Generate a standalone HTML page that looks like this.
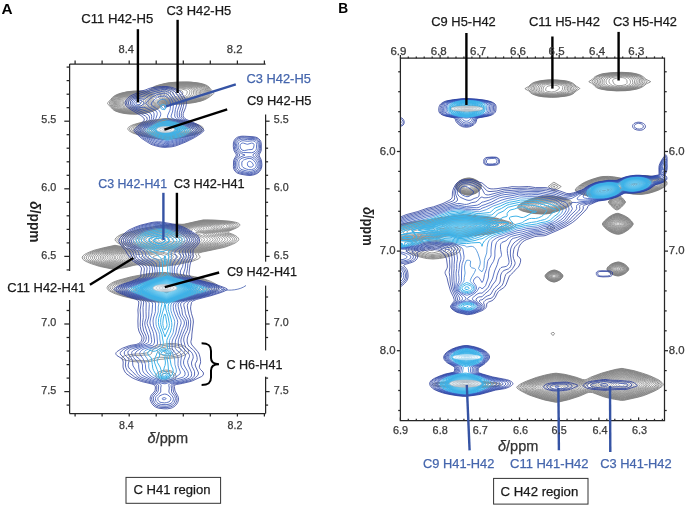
<!DOCTYPE html><html><head><meta charset="utf-8"><title>NOESY figure</title><style>html,body{margin:0;padding:0;background:#fff}svg{display:block}</style></head><body><svg width="685" height="506" viewBox="0 0 685 506"><rect width="685" height="506" fill="#fff"/><defs><clipPath id="ca"><rect x="69.5" y="64" width="196.0" height="349.5"/></clipPath><clipPath id="cb"><rect x="400.5" y="58" width="267.0" height="362.5"/></clipPath></defs><g clip-path="url(#ca)"><g fill="none" stroke-width="0.85" stroke-linejoin="round"><path d="M181.5 82.0 191.0 82.1 199.5 83.2 202.5 83.8 205.5 84.8 207.5 85.8 209.0 87.0 211.5 90.2 213.4 92.0 213.9 93.0 213.7 93.5 212.2 95.0 207.5 98.3 204.5 99.8 200.5 101.2 193.5 102.7 184.5 103.8 178.5 104.1 169.0 104.2 165.9 104.5 162.5 105.6 157.5 109.3 153.0 111.2 149.5 112.3 145.0 113.1 140.0 113.8 135.5 114.2 126.0 113.7 120.5 112.7 116.0 111.3 114.0 110.3 112.5 109.1 110.0 106.2 108.1 104.5 107.5 103.5 107.8 102.5 110.0 100.4 112.3 97.5 113.5 96.5 116.5 94.7 120.5 93.3 127.0 91.8 132.5 91.2 138.0 91.0 148.0 91.1 149.0 90.7 151.0 88.5 152.5 87.4 155.0 86.2 159.5 84.8 166.0 83.3 169.0 82.8 175.5 82.2ZM161.5 119.0 166.0 118.5 169.5 118.7 180.5 120.3 188.5 121.8 197.0 124.2 200.1 125.5 201.9 126.5 203.0 127.5 203.5 128.5 203.5 129.5 202.5 131.0 200.5 132.4 197.5 133.7 194.0 134.9 185.5 136.8 177.5 138.3 168.0 139.4 166.0 139.6 162.0 139.3 151.5 137.8 146.0 136.8 138.0 134.8 133.0 133.1 130.1 131.5 128.7 130.5 128.0 129.5 127.8 128.5 128.3 127.5 129.5 126.5 131.5 125.4 134.5 124.3 143.5 121.8 146.5 121.2ZM204.1 220.0 215.0 220.1 229.0 221.1 235.5 222.2 237.5 222.8 238.9 223.5 239.5 224.0 239.9 225.0 239.7 225.5 238.9 226.5 236.3 228.0 228.3 231.5 227.6 232.0 227.9 232.5 233.0 234.4 236.0 236.0 237.3 237.0 238.2 238.0 238.7 239.0 238.8 239.5 238.6 240.0 237.9 241.0 235.0 243.1 232.5 244.3 226.0 246.8 223.0 247.7 202.5 252.0 198.9 253.0 198.2 253.5 198.1 254.0 199.9 256.5 199.9 257.5 199.6 258.0 198.0 259.1 192.5 261.3 176.5 264.7 163.0 266.4 160.0 266.6 157.5 266.5 149.5 265.5 140.5 264.7 137.0 264.8 133.1 265.5 127.0 267.1 115.0 269.6 99.5 266.4 91.5 263.8 87.5 262.2 85.1 261.0 83.1 259.5 82.2 258.0 82.3 257.0 82.8 256.0 84.5 254.5 86.5 253.4 90.0 251.8 94.5 250.1 103.5 247.8 115.0 245.3 119.1 246.0 124.1 246.5 123.6 246.0 120.0 244.2 117.2 242.5 115.6 241.0 115.1 240.0 115.1 239.5 115.8 238.0 117.5 236.5 120.0 235.0 123.0 233.8 141.0 228.8 152.5 226.7 163.5 225.2 174.5 224.2 177.0 224.0 182.0 224.3 184.5 224.1 199.5 220.7 203.0 220.0ZM161.3 272.5 163.5 272.4 166.5 272.6 179.5 274.2 194.5 276.7 202.0 278.2 210.5 281.3 215.7 284.0 217.2 285.0 218.3 286.0 218.9 287.0 218.9 288.0 218.4 289.0 217.5 290.0 215.0 291.6 207.5 294.9 199.5 297.4 194.0 298.7 183.0 300.6 173.0 301.8 162.5 302.4 154.0 301.8 145.5 300.9 133.0 298.7 123.0 296.3 116.5 294.3 114.0 293.3 110.0 291.3 108.0 289.8 107.2 288.5 107.1 287.5 107.3 287.0 107.9 286.0 108.8 285.0 111.5 283.1 114.0 281.8 118.5 280.2 131.5 276.7 148.0 273.7 152.5 273.1ZM169.0 343.5 171.5 343.5 176.0 343.8 180.0 344.6 182.7 345.5 184.5 346.3 186.2 347.5 187.7 349.0 188.4 350.0 188.7 351.0 188.5 352.0 187.7 353.0 185.5 354.5 180.0 357.1 177.5 357.6 172.0 358.0 164.5 359.0 160.0 359.4 150.0 361.4 144.5 362.0 136.0 361.8 131.0 361.3 124.0 359.8 123.0 359.5 121.9 358.5 121.8 358.0 121.9 357.5 123.0 356.5 124.5 355.8 126.5 355.2 134.0 354.1 140.5 353.9 147.5 352.8 148.7 352.0 150.1 349.5 151.4 348.0 152.9 347.0 154.5 346.2 156.5 345.4 159.0 344.8ZM162.9 370.5 165.5 370.1 168.0 370.2 170.5 370.7 172.5 371.6 174.3 373.0 175.7 375.0 176.1 376.5 175.8 378.0 175.0 379.0 173.3 380.0 170.5 381.1 168.0 381.7 165.5 381.9 163.5 381.7 161.5 381.3 159.5 380.4 157.5 379.0 156.3 377.5 155.8 376.0 155.9 375.0 156.8 373.5 158.0 372.5 160.0 371.4Z" stroke="#828282"/><path d="M175.2 82.5 180.5 82.2 187.0 82.1 190.5 82.3 195.0 82.7 199.0 83.3 202.5 84.2 205.5 85.3 207.5 86.4 209.0 88.0 211.6 92.0 211.9 93.0 211.8 93.5 211.2 94.5 210.2 95.5 207.8 97.5 204.5 99.4 201.0 100.8 194.5 102.3 186.5 103.3 180.0 103.9 168.5 103.9 166.0 104.1 164.0 104.6 161.7 105.5 158.5 108.1 157.0 109.2 155.0 110.2 152.0 111.3 145.5 112.8 139.0 113.7 136.0 113.9 129.0 113.8 125.5 113.4 120.5 112.4 117.0 111.3 115.0 110.4 113.1 109.0 111.9 107.5 109.5 104.0 109.3 103.0 109.8 102.0 113.0 97.5 114.5 96.3 116.0 95.4 120.0 93.7 126.0 92.2 133.5 91.3 140.0 91.2 147.0 91.6 148.6 91.5 149.7 91.0 151.3 89.0 152.5 88.0 154.5 86.9 157.5 85.7 161.0 84.7 167.0 83.3 171.0 82.8ZM163.9 119.0 166.5 118.8 171.0 119.1 181.0 120.7 189.0 122.3 196.5 124.6 199.5 126.0 201.4 127.5 202.0 128.5 202.0 129.5 201.1 131.0 199.5 132.2 196.0 133.7 193.0 134.7 184.0 136.7 176.5 138.1 167.0 139.3 165.5 139.3 160.5 138.8 151.0 137.4 145.5 136.3 138.0 134.3 135.5 133.5 133.3 132.5 131.7 131.5 130.0 130.0 129.5 129.0 129.7 128.0 130.6 127.0 131.5 126.4 133.5 125.3 136.5 124.2 143.5 122.2 157.5 119.8ZM201.9 220.5 204.0 220.2 212.0 220.3 226.5 221.3 232.0 222.0 235.0 222.8 236.8 223.5 237.5 224.0 238.1 225.0 238.0 225.5 237.2 226.5 235.8 227.5 232.5 229.2 226.6 231.5 225.8 232.0 225.7 232.5 226.5 233.0 232.0 234.9 234.0 236.0 235.3 237.0 236.2 238.0 236.6 239.0 236.6 239.5 235.7 241.0 233.5 242.8 229.0 244.9 224.5 246.6 211.0 249.8 199.9 252.0 196.3 253.0 195.6 253.5 195.4 254.0 196.8 256.0 196.9 257.0 196.7 257.5 195.6 258.5 193.8 259.5 190.5 260.9 176.0 264.2 165.5 265.7 161.0 266.1 156.5 265.9 150.0 265.1 140.0 264.1 137.0 264.2 133.0 265.0 127.0 266.7 115.0 269.2 100.5 266.1 92.0 263.2 88.5 261.7 86.3 260.5 84.6 259.0 84.2 258.0 84.2 257.0 84.4 256.5 85.9 255.0 88.4 253.5 93.0 251.3 103.0 248.3 115.0 245.7 123.0 247.2 131.1 249.0 134.2 249.5 135.8 249.5 136.0 249.0 124.5 245.1 122.0 244.1 119.0 242.4 118.0 241.5 117.2 240.5 117.0 239.5 117.3 238.5 118.1 237.5 119.3 236.5 122.0 235.0 127.0 233.4 135.5 230.8 141.5 229.2 152.5 227.2 163.5 225.6 174.0 224.6 177.0 224.4 181.0 224.7 184.0 224.5ZM159.7 273.0 163.0 272.8 165.0 272.9 177.5 274.3 186.5 275.7 201.5 278.7 204.5 279.7 208.5 281.3 212.5 283.3 216.2 286.0 216.9 287.0 217.0 288.0 216.1 289.5 214.8 290.5 208.5 293.7 206.0 294.7 198.5 297.1 194.0 298.2 183.0 300.2 172.5 301.4 163.0 302.0 152.0 301.2 141.5 299.8 131.0 297.8 123.5 295.9 115.5 293.1 111.3 291.0 109.4 289.5 108.6 288.0 108.8 287.0 109.9 285.5 112.5 283.5 115.0 282.2 119.0 280.7 131.5 277.2 147.5 274.2 152.0 273.6ZM167.4 345.0 171.0 344.7 177.5 345.3 181.5 346.5 183.8 348.0 184.5 349.0 184.9 350.0 185.0 351.0 184.6 352.0 182.9 353.5 181.0 354.6 179.0 355.5 175.5 356.3 167.0 357.4 164.0 357.4 160.0 357.2 158.0 357.3 150.0 360.0 147.5 360.6 145.0 360.8 132.5 360.1 130.5 359.5 129.6 359.0 128.6 358.0 128.6 357.5 129.0 357.0 129.9 356.5 133.0 355.7 135.5 355.5 140.0 355.7 144.0 355.0 148.0 355.0 149.5 354.8 150.5 354.3 151.5 353.5 152.7 350.0 153.5 349.0 155.0 347.9 157.0 347.0 159.5 346.3ZM164.7 371.5 167.0 371.4 169.0 371.6 170.5 372.1 172.0 372.9 173.0 374.0 173.5 375.0 173.7 376.5 173.3 377.5 172.4 378.5 170.7 379.5 169.0 380.2 167.0 380.7 165.0 380.8 163.5 380.6 162.0 380.2 160.7 379.5 159.5 378.5 158.6 377.0 158.4 375.5 158.8 374.5 159.8 373.5 161.0 372.7 163.0 371.9Z" stroke="#838383"/><path d="M178.9 82.5 188.5 82.4 192.5 82.7 197.0 83.3 200.0 83.8 203.0 84.7 205.5 85.8 207.3 87.0 208.5 88.5 210.2 92.0 210.4 93.0 210.1 94.0 208.7 96.0 206.5 97.8 203.0 99.7 200.0 100.8 193.5 102.2 185.0 103.3 178.5 103.7 167.5 103.6 164.6 104.0 161.5 105.0 160.5 105.6 157.0 108.7 155.0 109.8 152.5 110.8 149.0 111.8 145.0 112.7 136.0 113.7 130.5 113.6 126.0 113.3 121.5 112.3 118.0 111.3 115.3 110.0 113.5 108.6 112.3 107.0 110.8 104.0 110.7 103.0 111.1 101.5 112.5 99.0 113.7 97.5 115.0 96.4 117.0 95.3 121.0 93.7 127.0 92.3 133.0 91.6 140.0 91.4 149.0 91.9 150.1 91.5 152.2 89.0 153.5 87.9 156.0 86.7 159.5 85.4 164.0 84.2 168.5 83.3 173.5 82.8ZM162.1 119.5 166.0 119.0 169.5 119.3 180.0 120.8 188.5 122.6 195.0 124.7 198.0 126.0 199.9 127.5 200.5 128.5 200.5 129.5 200.1 130.5 198.5 131.8 196.0 133.1 193.0 134.2 184.5 136.3 177.0 137.8 169.5 138.7 166.0 139.0 161.5 138.7 152.0 137.2 145.0 135.7 137.5 133.6 135.5 132.8 133.9 132.0 132.1 130.5 131.5 129.5 131.3 128.5 131.9 127.5 133.5 126.3 136.0 125.0 139.0 123.9 143.0 122.7 147.5 121.7ZM203.4 220.5 208.0 220.4 214.5 220.7 227.5 221.8 232.0 222.6 234.0 223.3 235.4 224.0 235.9 224.5 236.2 225.0 236.2 225.5 235.9 226.0 234.9 227.0 231.0 229.3 225.1 231.5 224.2 232.0 223.8 232.5 224.3 233.0 225.0 233.3 230.5 235.3 232.7 236.5 233.9 237.5 234.5 238.5 234.7 239.5 234.5 240.0 233.3 241.5 231.8 242.5 227.5 244.6 223.5 246.2 211.0 249.3 197.4 252.0 193.5 253.0 192.4 253.5 192.3 254.0 193.5 256.0 193.6 256.5 193.2 257.5 191.5 259.0 188.1 260.5 180.0 262.7 175.5 263.7 165.5 265.2 161.0 265.6 156.5 265.4 150.5 264.6 140.0 263.5 137.0 263.6 133.0 264.4 127.0 266.2 115.0 268.9 103.0 266.3 98.0 264.8 92.0 262.4 89.1 261.0 87.1 259.5 86.2 258.0 86.3 257.0 87.4 255.5 91.3 253.0 94.0 251.7 103.0 248.8 115.0 246.1 134.5 250.4 138.0 250.5 141.1 250.0 141.2 249.5 139.9 249.0 132.0 246.8 124.5 244.2 121.2 242.5 119.5 241.0 118.9 240.0 118.9 239.0 119.5 238.0 120.5 237.1 123.0 235.6 128.5 233.6 136.0 231.3 141.5 229.8 152.5 227.7 163.0 226.1 172.5 225.2 177.0 224.8 181.0 225.1 184.0 224.9 188.2 224.0 197.0 221.8ZM158.4 273.5 162.5 273.2 164.5 273.2 178.0 274.8 186.5 276.2 201.0 279.1 205.5 280.7 208.5 282.1 210.9 283.5 213.9 286.0 214.6 287.0 214.8 288.0 214.2 289.0 213.1 290.0 208.0 293.1 205.5 294.2 199.0 296.4 194.0 297.7 183.0 299.7 173.5 300.9 163.0 301.7 158.0 301.3 143.5 299.7 130.5 297.2 123.5 295.3 118.0 293.3 115.5 292.3 112.4 290.5 110.8 289.0 110.3 288.0 110.3 287.5 110.8 286.5 112.2 285.0 114.3 283.5 117.0 282.3 121.5 280.6 131.0 277.8 149.5 274.3ZM168.0 346.5 169.5 346.3 171.5 346.4 176.0 346.9 178.0 347.4 179.4 348.0 180.7 349.0 181.0 349.5 181.0 350.5 180.3 351.5 178.2 353.0 176.4 354.0 174.0 354.8 170.5 355.5 167.5 355.8 165.0 355.7 163.0 355.2 160.0 354.1 158.4 353.0 157.4 351.5 157.4 350.5 157.7 350.0 158.7 349.0 160.8 348.0ZM164.0 373.5 166.5 373.1 169.0 373.6 170.0 374.3 170.5 375.0 170.6 376.0 170.4 376.5 168.9 378.0 166.9 379.0 165.0 379.3 163.0 378.8 162.0 378.1 161.5 377.5 161.2 376.5 161.2 376.0 161.5 375.3 162.2 374.5Z" stroke="#848484"/><path d="M174.2 83.0 182.5 82.6 188.0 82.6 191.5 82.8 195.5 83.3 200.0 84.2 203.0 85.1 205.5 86.3 206.9 87.5 208.1 89.5 209.1 92.5 209.0 94.0 208.5 95.0 207.7 96.0 205.9 97.5 203.0 99.3 200.5 100.3 194.0 101.9 184.0 103.2 178.5 103.5 167.0 103.4 164.5 103.6 162.5 104.1 160.5 104.9 156.5 108.5 154.5 109.6 152.0 110.6 146.0 112.2 137.0 113.4 133.0 113.5 127.0 113.1 122.5 112.3 119.0 111.2 116.5 110.2 114.8 109.0 113.5 107.5 112.2 105.0 111.8 103.5 111.9 102.0 112.7 100.0 113.6 98.5 114.5 97.5 116.0 96.3 118.0 95.2 120.5 94.2 126.0 92.7 133.5 91.7 141.0 91.6 148.5 92.3 150.0 92.2 150.6 92.0 151.2 91.5 152.6 89.5 153.7 88.5 155.5 87.4 158.0 86.3 161.0 85.3 167.0 83.8ZM164.5 119.5 166.5 119.3 171.0 119.7 180.5 121.3 188.5 123.1 194.5 125.2 197.2 126.5 198.8 128.0 199.2 129.0 199.1 129.5 198.6 130.5 197.0 131.8 194.5 133.0 192.0 133.9 185.0 135.8 177.5 137.3 168.0 138.6 166.0 138.8 160.0 138.2 151.5 136.8 145.0 135.3 137.6 133.0 134.7 131.5 133.3 130.0 133.1 129.0 133.3 128.0 134.2 127.0 135.6 126.0 138.0 124.8 144.5 122.7 158.0 120.3ZM201.9 221.0 203.5 220.7 207.5 220.7 217.0 221.2 228.5 222.4 231.0 223.0 233.2 224.0 233.9 224.5 234.3 225.5 233.9 226.5 232.8 227.5 230.3 229.0 223.6 231.5 222.1 232.5 222.3 233.0 223.2 233.5 229.3 236.0 231.2 237.0 232.0 237.7 232.6 238.5 232.8 239.5 232.6 240.0 231.5 241.2 229.5 242.5 225.0 244.7 222.0 245.8 210.5 248.9 189.4 253.0 188.4 253.5 188.3 254.0 190.1 256.0 190.3 256.5 190.0 257.5 188.3 259.0 184.5 260.7 179.0 262.3 174.5 263.2 165.5 264.7 160.5 265.2 156.5 264.9 140.5 262.9 137.0 262.9 133.5 263.6 126.5 265.8 115.0 268.5 104.5 266.2 99.5 264.7 91.2 261.0 89.2 259.5 88.5 258.5 88.4 257.5 89.1 256.0 91.6 254.0 94.5 252.3 103.0 249.3 115.0 246.5 123.0 248.2 132.0 250.6 135.0 251.1 138.0 251.3 141.0 251.1 144.0 250.5 144.9 250.0 144.7 249.5 143.4 249.0 136.0 247.3 131.0 245.7 124.5 243.1 122.7 242.0 121.5 241.0 120.9 240.0 120.8 239.5 121.2 238.5 122.0 237.6 124.7 236.0 129.5 234.1 140.5 230.7 152.5 228.2 163.0 226.6 171.5 225.7 177.0 225.2 181.0 225.5 184.0 225.2ZM157.2 274.0 164.0 273.6 174.0 274.7 184.0 276.2 200.5 279.6 205.0 281.2 209.0 283.5 210.3 284.5 211.7 286.0 212.2 287.0 212.3 288.0 211.7 289.0 210.8 290.0 207.0 292.7 204.5 293.8 198.0 296.1 193.5 297.3 183.0 299.3 173.5 300.4 164.0 301.2 160.5 301.1 152.0 300.4 144.0 299.4 131.0 296.8 122.5 294.3 117.0 292.0 114.5 290.6 112.7 289.0 112.2 288.0 112.2 287.5 112.6 286.5 113.9 285.0 116.0 283.7 120.5 281.8 131.0 278.4 149.0 274.8 153.0 274.3ZM166.9 349.0 168.5 348.6 169.5 348.5 171.7 349.0 173.4 350.0 173.8 350.5 173.7 351.5 172.8 352.5 170.5 353.5 168.5 353.8 166.3 353.5 164.5 352.5 163.8 351.5 163.8 351.0 164.1 350.5 164.7 350.0Z" stroke="#858585"/><path d="M177.7 83.0 187.0 82.8 193.5 83.3 197.0 83.8 200.5 84.7 203.0 85.6 205.0 86.6 206.4 88.0 207.3 89.5 208.0 92.5 207.9 94.0 207.1 95.5 205.7 97.0 203.0 98.8 200.5 99.9 197.5 100.8 193.5 101.7 185.0 102.9 178.0 103.3 166.5 103.0 163.0 103.5 160.0 104.5 156.0 108.3 154.5 109.2 152.0 110.3 149.0 111.3 145.0 112.2 137.0 113.2 133.5 113.3 127.0 112.9 124.0 112.3 120.5 111.4 117.5 110.2 115.7 109.0 114.3 107.5 113.3 105.5 112.8 103.5 112.8 102.0 113.4 100.0 114.3 98.5 115.5 97.3 117.0 96.2 119.0 95.1 121.0 94.4 124.5 93.4 127.5 92.7 134.5 91.9 141.5 91.9 149.0 92.7 150.5 92.7 151.2 92.5 151.9 92.0 153.6 89.5 154.7 88.5 157.0 87.2 159.5 86.1 164.5 84.7 168.5 83.8ZM162.9 120.0 166.0 119.6 169.5 119.9 180.5 121.7 187.5 123.3 191.5 124.7 195.5 126.5 196.5 127.1 197.3 128.0 197.7 129.0 197.6 129.5 197.0 130.6 195.1 132.0 192.5 133.2 189.5 134.1 185.0 135.4 176.5 137.2 168.5 138.3 165.5 138.4 159.5 137.8 151.5 136.4 146.0 135.1 138.5 132.6 136.0 131.2 134.9 130.0 134.7 129.0 135.0 128.0 135.9 127.0 137.3 126.0 139.3 125.0 145.0 123.1 157.5 120.7ZM203.5 221.0 212.5 221.2 219.0 221.7 228.0 222.9 230.0 223.4 231.5 224.1 232.4 225.0 232.6 225.5 232.3 226.5 231.4 227.5 229.0 228.9 221.1 232.0 220.4 232.5 220.2 233.0 220.9 233.5 226.6 236.0 229.2 237.5 230.0 238.2 230.5 239.0 230.5 239.5 230.3 240.0 228.7 241.5 226.5 242.9 223.5 244.4 221.0 245.3 212.5 247.8 208.5 248.8 196.0 251.2 187.4 252.5 185.6 253.0 184.9 253.5 185.0 254.0 186.8 256.0 187.1 257.0 186.9 257.5 186.1 258.5 185.4 259.0 182.0 260.5 176.5 262.1 168.5 263.7 164.5 264.3 160.0 264.6 146.0 263.0 140.5 262.1 137.0 262.1 133.0 263.0 126.5 265.3 115.0 268.1 105.0 265.8 100.0 264.3 93.0 260.8 91.3 259.5 90.6 258.5 90.5 257.5 91.2 256.0 93.3 254.0 95.5 252.7 100.5 250.7 103.5 249.7 109.0 248.3 115.0 246.9 125.0 249.2 133.0 251.5 136.0 252.0 138.5 252.1 141.0 252.0 143.6 251.5 147.5 250.5 148.2 250.0 147.8 249.5 144.5 248.5 137.0 246.8 133.5 245.8 128.5 243.7 125.1 242.0 123.5 240.5 123.1 239.5 123.3 239.0 124.6 237.5 127.0 236.1 130.0 234.8 138.5 231.9 144.5 230.3 152.0 228.8 162.5 227.1 171.0 226.1 177.0 225.6 181.5 225.9 184.5 225.6 197.5 222.2ZM161.9 274.0 166.5 274.2 181.5 276.2 200.5 280.3 204.5 281.8 206.6 283.0 208.0 284.0 209.7 286.0 210.1 287.0 210.2 288.0 209.7 289.0 208.9 290.0 206.5 292.0 204.0 293.2 197.5 295.7 193.5 296.8 188.5 297.6 183.0 298.8 172.0 300.2 163.0 300.9 153.5 300.1 143.0 298.8 129.5 295.8 123.0 293.7 117.5 291.2 115.6 290.0 114.3 288.5 114.0 287.5 114.8 286.0 115.9 285.0 118.0 283.8 123.0 281.6 128.5 279.7 132.0 278.7 149.5 275.2 153.0 274.7Z" stroke="#868686"/><path d="M173.8 83.5 182.0 83.1 191.0 83.3 195.0 83.8 199.0 84.6 201.5 85.4 203.8 86.5 205.6 88.0 206.4 89.5 207.0 92.0 206.9 94.0 206.2 95.5 204.7 97.0 202.5 98.5 200.0 99.7 194.0 101.3 184.0 102.7 177.5 103.0 166.0 102.7 162.7 103.0 160.8 103.5 159.5 104.1 158.5 104.8 156.7 107.0 155.5 108.0 153.5 109.2 151.5 110.1 148.0 111.2 145.5 111.8 137.5 112.9 134.0 113.0 128.0 112.7 125.0 112.3 121.5 111.3 118.5 110.2 116.6 109.0 115.1 107.5 114.3 106.0 113.7 104.0 113.6 102.5 113.8 101.0 114.7 99.0 115.5 98.0 117.0 96.7 118.5 95.8 121.0 94.7 126.5 93.2 129.5 92.7 134.5 92.1 142.0 92.2 149.5 93.1 151.5 93.1 152.6 92.5 154.1 90.0 155.1 89.0 157.0 87.7 159.0 86.7 162.0 85.7 167.0 84.4 170.5 83.8ZM165.4 120.0 169.0 120.1 173.0 120.7 181.0 122.2 187.5 123.8 191.5 125.3 194.6 127.0 195.7 128.0 196.0 128.5 196.0 129.5 195.4 130.5 193.4 132.0 191.0 133.1 187.5 134.2 176.5 136.9 167.0 138.1 165.0 138.1 158.5 137.3 151.0 135.9 145.0 134.3 139.1 132.0 138.0 131.4 136.9 130.5 136.4 129.5 136.4 128.5 137.0 127.5 138.1 126.5 141.5 124.8 146.5 123.2 159.0 120.8ZM202.1 221.5 203.5 221.2 207.0 221.2 215.5 221.7 227.0 223.3 229.0 223.9 230.2 224.5 230.7 225.0 231.0 226.0 230.9 226.5 230.0 227.5 228.0 228.6 219.6 232.0 218.7 232.5 218.2 233.0 218.5 233.5 223.0 235.4 225.8 237.0 227.4 238.5 227.8 239.5 227.7 240.0 226.2 241.5 222.5 243.8 220.5 244.6 212.0 247.3 198.0 250.4 193.0 251.2 186.5 252.0 183.9 252.5 182.4 253.0 182.0 253.5 182.2 254.0 184.0 256.0 184.3 257.0 184.2 257.5 183.5 258.4 182.7 259.0 180.4 260.0 176.0 261.3 169.0 262.9 164.5 263.7 160.0 264.1 146.5 262.3 140.5 261.2 137.0 261.2 133.5 262.0 126.5 264.7 115.0 267.7 105.0 265.2 100.5 263.8 98.0 262.6 94.6 260.5 93.3 259.5 92.6 258.5 92.4 258.0 92.5 257.0 93.4 255.5 95.0 254.2 97.1 253.0 100.5 251.4 103.5 250.3 109.0 248.7 115.0 247.3 125.0 249.8 133.5 252.4 137.0 253.0 139.5 253.1 141.5 252.8 151.1 250.5 151.5 250.0 150.8 249.5 147.4 248.5 136.0 245.8 132.0 244.3 128.0 242.2 126.4 241.0 125.7 240.0 125.7 239.5 125.8 239.0 126.5 238.0 128.6 236.5 131.5 235.2 139.0 232.4 145.0 230.8 152.5 229.2 162.0 227.6 171.0 226.6 177.0 226.1 181.5 226.3 184.5 226.0 186.9 225.5 196.5 222.8ZM160.8 274.5 163.0 274.3 166.5 274.6 181.5 276.6 200.0 280.8 203.5 282.2 206.3 284.0 207.4 285.0 208.0 286.0 208.4 287.0 208.4 288.0 208.0 289.0 207.3 290.0 205.0 291.8 201.0 293.7 196.5 295.3 193.0 296.3 188.5 297.1 183.0 298.3 171.5 299.8 163.0 300.4 153.5 299.7 143.5 298.4 131.0 295.7 123.5 293.1 117.5 289.8 116.2 288.5 115.9 287.5 116.4 286.5 117.4 285.5 120.5 283.7 123.5 282.2 128.5 280.3 132.0 279.2 149.5 275.6 153.0 275.1Z" stroke="#868686"/><path d="M177.3 83.5 186.0 83.3 192.5 83.7 196.0 84.3 199.5 85.2 202.0 86.1 203.5 87.0 205.0 88.5 205.7 90.0 206.1 92.5 205.8 94.5 204.8 96.0 203.2 97.5 201.0 98.8 199.0 99.7 195.5 100.7 192.5 101.3 186.0 102.3 182.0 102.6 177.0 102.8 165.0 102.3 161.5 102.7 160.0 103.1 158.5 103.9 155.3 107.5 153.5 108.7 151.5 109.7 148.5 110.8 146.0 111.4 141.0 112.3 137.0 112.7 133.5 112.8 127.5 112.4 122.5 111.3 119.5 110.1 117.5 109.0 116.0 107.5 115.1 106.0 114.6 104.0 114.5 102.0 114.8 100.5 115.5 99.0 116.5 97.8 118.0 96.6 119.5 95.8 122.0 94.7 125.0 93.8 128.0 93.2 131.5 92.7 135.5 92.4 143.0 92.5 150.0 93.6 152.0 93.6 152.5 93.5 153.5 92.9 155.1 90.0 156.1 89.0 158.0 87.7 160.0 86.8 164.5 85.3 168.5 84.3 172.5 83.8ZM164.0 120.5 166.5 120.2 170.5 120.7 179.5 122.3 186.0 123.9 189.2 125.0 192.1 126.5 193.9 128.0 194.3 129.0 194.3 129.5 193.7 130.5 192.0 131.8 190.0 132.8 187.0 133.9 176.0 136.6 167.5 137.7 165.5 137.8 159.5 137.1 152.5 135.8 146.5 134.3 144.0 133.4 141.1 132.0 138.7 130.5 138.3 130.0 138.0 129.0 138.3 128.0 139.1 127.0 142.0 125.3 146.5 123.7 158.0 121.3ZM201.2 222.0 203.5 221.5 206.0 221.5 215.0 222.0 220.5 222.9 226.0 223.9 228.0 224.5 228.8 225.0 229.2 225.5 229.3 226.0 229.0 226.8 228.3 227.5 222.5 230.2 218.1 232.0 216.4 233.0 216.3 233.5 217.0 234.0 221.5 235.9 224.0 237.5 225.1 239.0 225.2 239.5 224.7 240.5 223.0 242.0 220.4 243.5 213.5 246.1 210.0 247.2 196.5 250.1 183.0 252.0 178.7 253.0 178.3 253.5 181.0 255.5 181.5 256.3 181.6 257.0 181.0 258.0 180.3 258.5 177.0 259.9 168.5 262.3 163.5 263.1 160.0 263.4 147.5 261.7 140.5 260.0 137.5 259.9 136.0 260.2 134.0 260.8 126.5 264.1 115.0 267.2 105.0 264.7 101.0 263.3 99.0 262.2 96.5 260.5 94.9 259.0 94.4 258.0 94.4 257.0 95.3 255.5 97.3 254.0 100.5 252.2 103.0 251.2 107.5 249.7 115.0 247.8 124.5 250.2 129.0 251.6 134.5 253.8 138.0 254.5 140.5 254.4 147.0 252.3 153.9 251.0 155.0 250.5 154.8 250.0 153.7 249.5 150.4 248.5 137.5 245.4 134.0 244.2 131.0 242.7 128.8 241.0 128.1 240.0 128.0 239.5 128.5 238.5 130.2 237.0 133.0 235.6 139.0 233.2 144.0 231.7 152.5 229.8 162.0 228.1 172.5 226.9 177.0 226.5 181.5 226.7 184.4 226.5 186.7 226.0 196.0 223.3ZM160.0 275.0 163.0 274.8 165.0 274.9 180.0 276.9 184.5 277.7 198.5 281.1 202.0 282.3 204.7 284.0 205.8 285.0 206.5 286.0 206.9 287.0 206.9 288.0 206.5 289.0 205.7 290.0 203.7 291.5 199.0 293.7 194.0 295.4 182.5 297.9 166.0 299.8 163.0 300.0 161.0 299.9 153.0 299.2 145.5 298.2 143.0 297.8 131.5 295.2 124.0 292.4 121.6 291.0 119.0 289.0 118.3 288.0 118.2 287.5 118.4 287.0 119.2 286.0 120.4 285.0 122.8 283.5 125.0 282.4 129.0 280.8 132.5 279.7 149.5 276.1 153.0 275.6Z" stroke="#878787"/><path d="M173.9 84.0 181.5 83.6 190.5 83.8 197.0 84.9 200.0 85.8 202.0 86.7 203.7 88.0 204.7 89.5 205.1 92.0 205.0 94.0 204.2 95.5 202.8 97.0 201.0 98.3 199.0 99.2 193.5 100.8 188.0 101.7 183.0 102.3 177.0 102.5 164.0 101.9 160.5 102.3 158.5 102.9 157.6 103.5 155.0 107.0 153.5 108.2 151.5 109.3 149.0 110.2 145.5 111.2 137.5 112.4 134.5 112.5 129.0 112.2 126.0 111.8 123.5 111.2 120.0 109.9 118.0 108.6 116.9 107.5 115.8 105.5 115.5 104.0 115.3 102.0 115.6 100.5 116.3 99.0 117.2 98.0 118.5 96.9 122.0 95.1 125.0 94.2 128.5 93.4 132.5 92.8 135.5 92.6 142.5 92.8 151.0 94.2 153.0 94.2 154.0 93.7 154.5 93.2 155.8 90.5 156.6 89.5 157.8 88.5 159.6 87.5 162.5 86.3 166.5 85.1 170.5 84.3ZM162.7 121.0 166.0 120.6 169.5 120.9 179.5 122.7 185.0 124.1 188.0 125.2 190.4 126.5 192.1 128.0 192.4 128.5 192.5 129.5 192.0 130.5 190.8 131.5 188.5 132.7 186.0 133.6 176.0 136.2 168.0 137.4 165.5 137.5 159.5 136.8 152.5 135.3 148.0 134.1 144.5 132.9 140.6 130.5 140.1 130.0 139.7 129.0 140.0 128.0 140.9 127.0 143.4 125.5 147.0 124.1 157.5 121.8ZM202.5 222.0 203.5 221.8 207.5 221.8 215.0 222.4 222.5 223.9 225.5 224.8 226.7 225.5 227.0 226.0 227.0 226.5 226.6 227.0 225.3 228.0 221.5 230.0 215.6 232.5 214.7 233.0 214.3 233.5 214.6 234.0 219.0 236.0 221.3 237.5 222.4 239.0 222.5 239.5 222.0 240.5 220.4 242.0 218.8 243.0 212.5 245.7 207.0 247.3 198.0 249.3 192.5 250.2 177.0 252.2 170.5 251.8 168.5 252.0 169.3 252.5 176.0 255.0 177.5 256.0 177.8 256.5 177.8 257.0 176.9 258.0 175.1 259.0 171.0 260.6 168.5 261.4 163.0 262.4 159.5 262.7 148.0 260.9 145.5 260.2 142.9 259.0 141.6 258.0 141.3 257.5 141.4 257.0 142.6 255.5 144.5 254.3 148.0 253.0 156.5 251.5 158.5 251.0 159.1 250.5 158.3 250.0 156.6 249.5 151.2 248.0 144.0 246.4 137.0 244.4 134.0 243.0 132.3 242.0 131.1 241.0 130.5 240.0 130.4 239.5 130.9 238.5 132.0 237.5 133.7 236.5 139.5 233.8 146.0 231.8 153.5 230.1 163.5 228.4 176.0 227.0 182.0 227.2 185.0 226.9 188.5 226.0 195.5 223.8ZM114.0 248.5 115.0 248.2 117.5 248.8 124.0 250.6 128.5 252.2 131.2 253.5 133.5 255.0 135.3 256.5 135.7 257.0 135.7 257.5 135.0 258.5 133.6 259.5 128.0 262.8 125.5 263.7 115.0 266.8 105.5 264.2 102.5 263.1 99.5 261.5 97.2 259.5 96.5 258.5 96.3 257.5 96.4 257.0 97.0 256.0 99.3 254.0 102.5 252.2 108.0 250.1ZM159.4 275.5 163.0 275.2 165.0 275.3 179.5 277.3 184.0 278.2 195.0 280.8 200.0 282.4 202.5 283.7 204.1 285.0 204.8 286.0 205.3 287.0 205.3 288.0 204.8 289.0 204.0 289.9 202.0 291.4 198.5 293.1 193.5 294.9 182.5 297.3 172.0 298.8 165.5 299.4 163.0 299.6 161.0 299.4 153.0 298.7 145.5 297.7 143.0 297.3 132.0 294.7 129.5 293.8 125.0 292.0 123.4 291.0 121.7 289.5 120.7 288.0 120.7 287.0 121.3 286.0 123.0 284.5 125.0 283.3 127.5 282.1 131.0 280.8 134.5 279.8 151.5 276.3Z" stroke="#888888"/><path d="M177.7 84.0 186.0 83.8 192.0 84.3 195.0 84.8 198.0 85.6 200.3 86.5 202.0 87.5 203.4 89.0 204.0 90.5 204.1 93.0 203.8 94.5 202.8 96.0 201.5 97.3 200.0 98.2 197.5 99.3 194.0 100.3 189.5 101.2 185.5 101.8 181.0 102.2 175.0 102.2 163.5 101.4 160.0 101.7 158.0 102.2 157.0 102.8 156.4 103.5 155.0 106.0 154.1 107.0 152.5 108.2 150.5 109.2 145.5 110.8 141.0 111.7 137.0 112.2 134.0 112.2 128.5 111.9 125.5 111.4 123.5 110.8 121.0 109.8 118.8 108.5 117.4 107.0 116.7 105.5 116.3 104.0 116.2 102.0 116.5 100.5 117.2 99.0 118.0 98.0 119.2 97.0 123.0 95.2 126.0 94.2 129.0 93.6 132.5 93.1 137.0 92.9 143.5 93.2 151.5 94.8 153.5 94.9 154.6 94.5 155.5 93.8 155.9 93.0 156.6 91.0 157.7 89.5 159.0 88.4 161.0 87.4 165.5 85.7 169.0 84.9 173.0 84.3ZM165.3 121.0 168.5 121.1 172.0 121.7 180.0 123.3 185.5 124.9 188.0 126.0 190.0 127.5 190.7 128.5 190.8 129.0 190.6 130.0 189.8 131.0 188.4 132.0 184.0 133.7 176.0 135.9 166.5 137.2 162.0 136.8 158.0 136.1 152.0 134.8 147.0 133.2 145.3 132.5 143.7 131.5 142.5 130.5 141.8 129.5 141.7 128.5 141.9 128.0 143.4 126.5 146.0 125.1 148.5 124.3 158.0 122.1ZM201.7 222.5 203.5 222.1 206.5 222.1 215.0 222.9 219.0 223.7 221.6 224.5 223.6 225.5 224.1 226.0 224.2 226.5 223.8 227.5 221.9 229.0 218.5 230.7 213.0 233.0 212.4 233.5 212.4 234.0 213.0 234.5 217.3 236.5 219.1 238.0 219.6 239.0 219.7 239.5 219.3 240.5 218.5 241.5 216.4 243.0 213.0 244.6 210.0 245.7 204.5 247.2 197.5 248.8 192.0 249.8 179.0 251.4 177.0 251.5 174.5 251.3 167.5 250.6 161.0 249.7 156.5 248.8 150.1 247.0 144.5 245.8 139.0 244.0 136.5 243.0 134.1 241.5 133.2 240.5 132.9 240.0 133.0 239.0 133.5 238.4 134.6 237.5 137.2 236.0 141.5 234.0 146.5 232.4 154.0 230.6 163.5 228.9 176.5 227.5 182.0 227.7 185.5 227.3 188.0 226.7 195.5 224.1ZM114.0 249.0 115.0 248.7 120.5 250.2 125.5 251.8 129.0 253.3 130.8 254.5 132.1 256.0 132.4 257.5 132.1 258.5 131.3 259.5 130.1 260.5 127.0 262.4 115.0 266.3 106.0 263.6 102.5 262.3 99.9 260.5 98.7 259.0 98.4 257.5 98.7 256.5 99.4 255.5 101.5 253.7 104.0 252.3 108.5 250.6ZM159.5 252.0 162.5 252.2 165.5 252.8 170.8 254.5 172.7 255.5 173.4 256.5 173.2 257.5 171.6 259.0 169.5 260.0 167.0 260.8 162.0 261.7 160.0 261.9 159.0 261.8 148.9 260.0 146.4 259.0 145.5 258.4 144.8 257.5 144.8 256.5 145.5 255.5 146.5 254.8 148.0 254.1 150.5 253.5ZM159.1 276.0 164.0 275.7 172.0 276.7 182.0 278.3 194.0 281.2 198.5 282.7 201.1 284.0 202.3 285.0 203.1 286.0 203.5 287.0 203.5 288.0 202.6 289.5 200.5 291.1 197.0 292.8 192.5 294.5 182.0 296.9 172.0 298.3 164.5 299.1 162.5 299.1 153.5 298.3 145.0 297.1 133.0 294.3 130.5 293.4 126.2 291.5 124.6 290.5 123.5 289.5 122.6 288.0 122.6 287.0 123.2 286.0 124.8 284.5 127.0 283.2 129.5 282.2 133.0 280.8 135.5 280.1 151.5 276.8Z" stroke="#898989"/><path d="M174.7 84.5 181.5 84.1 190.0 84.4 193.0 84.8 196.5 85.6 199.0 86.5 200.8 87.5 202.0 88.5 202.8 90.0 203.1 92.5 202.7 94.5 201.8 96.0 200.5 97.2 199.0 98.2 196.5 99.2 193.0 100.2 188.0 101.2 181.0 101.9 177.5 102.0 172.0 101.8 162.0 100.8 160.0 100.9 158.0 101.2 157.0 101.5 156.3 102.0 155.6 103.0 154.7 105.0 154.1 106.0 152.5 107.5 150.9 108.5 149.0 109.4 146.0 110.4 142.0 111.2 137.5 111.9 134.0 111.9 129.5 111.6 127.0 111.3 124.5 110.7 122.0 109.7 119.8 108.5 118.3 107.0 117.5 105.5 117.1 104.0 117.0 102.0 117.3 100.5 118.0 99.0 118.9 98.0 120.2 97.0 124.0 95.2 127.0 94.3 130.5 93.7 134.5 93.2 139.0 93.2 144.5 93.7 152.5 95.7 154.5 95.8 155.5 95.3 156.4 94.5 157.0 93.5 157.9 90.5 158.7 89.5 160.5 88.2 163.5 86.8 167.0 85.6 171.0 84.9ZM164.3 121.5 166.5 121.3 170.0 121.7 179.0 123.6 182.0 124.4 185.5 125.6 187.5 126.7 188.8 128.0 189.2 129.0 189.2 129.5 188.7 130.5 187.5 131.5 184.0 133.0 176.0 135.4 168.0 136.7 166.0 136.8 160.5 136.2 156.0 135.3 152.0 134.2 147.2 132.5 144.7 131.0 143.9 130.0 143.5 129.0 143.8 128.0 144.1 127.5 146.0 126.0 149.0 124.7 157.5 122.6ZM203.1 222.5 205.5 222.4 210.0 222.7 213.5 223.1 216.0 223.6 220.4 225.0 221.7 226.0 222.0 227.0 221.4 228.0 219.4 229.5 216.0 231.2 211.5 233.0 210.6 233.5 210.3 234.0 210.7 234.5 211.5 234.9 215.5 236.9 216.8 238.0 217.4 239.0 217.4 239.5 217.1 240.5 216.5 241.3 215.0 242.5 212.0 244.0 204.0 246.6 197.5 248.2 192.0 249.2 179.5 250.8 177.0 251.0 175.0 250.8 166.5 249.9 159.5 248.7 155.5 247.8 151.0 246.5 145.5 245.3 143.0 244.4 138.4 242.5 136.5 241.2 135.6 240.0 135.5 239.5 136.1 238.5 139.0 236.3 142.5 234.5 146.5 233.1 154.5 231.2 162.5 229.5 176.5 227.9 182.5 228.2 186.0 227.9 188.0 227.3 195.0 224.7ZM114.1 249.5 115.0 249.2 120.5 250.8 124.5 252.2 127.5 253.5 129.0 254.5 130.3 256.0 130.6 257.0 130.3 258.5 129.0 260.1 126.5 261.8 118.0 264.8 115.0 265.8 106.0 262.9 103.5 261.8 102.3 261.0 101.2 260.0 100.3 258.5 100.3 257.0 101.1 255.5 102.8 254.0 105.0 252.8 109.0 251.1ZM157.1 253.5 160.0 253.0 162.5 253.3 164.5 253.8 167.7 255.0 169.5 255.9 170.0 256.5 170.2 257.0 170.0 257.5 169.0 258.5 167.5 259.2 160.0 260.9 157.0 260.5 151.5 259.3 150.0 258.8 148.7 258.0 148.1 257.0 148.1 256.5 148.4 256.0 149.5 255.3 151.0 254.7ZM158.9 276.5 163.0 276.1 166.5 276.4 181.5 278.8 189.5 280.8 195.5 282.5 199.0 284.0 200.4 285.0 201.3 286.0 201.8 287.0 201.7 288.0 200.7 289.5 199.0 290.7 196.0 292.2 192.0 293.8 182.0 296.3 172.0 297.8 164.5 298.6 162.5 298.7 153.5 297.8 145.5 296.6 134.0 293.8 131.5 293.0 128.5 291.5 126.0 290.1 124.9 289.0 124.4 288.0 124.4 287.0 125.0 286.0 126.5 284.7 132.0 282.0 136.0 280.6 151.5 277.3Z" stroke="#8a8a8a"/><path d="M179.2 84.5 187.5 84.5 192.5 85.1 197.0 86.3 199.0 87.2 200.5 88.3 201.4 89.5 201.9 91.0 201.8 93.5 201.4 95.0 200.7 96.0 199.5 97.1 197.5 98.3 195.5 99.1 191.5 100.1 187.5 100.9 184.0 101.4 179.0 101.7 170.0 101.3 160.5 100.0 156.5 100.0 155.5 100.7 155.0 101.4 154.0 104.5 153.1 106.0 152.1 107.0 150.7 108.0 148.0 109.3 145.0 110.2 140.5 111.1 137.0 111.6 134.0 111.6 129.5 111.3 127.0 111.0 125.0 110.4 122.5 109.4 120.5 108.2 119.2 107.0 118.4 105.5 118.0 104.0 117.9 102.0 118.2 100.5 118.9 99.0 119.8 98.0 121.2 97.0 125.0 95.3 128.5 94.3 132.5 93.7 136.5 93.5 141.5 93.6 144.0 93.9 147.0 94.6 153.5 97.0 155.0 97.3 156.0 96.9 157.5 95.3 158.1 94.0 158.8 91.0 159.4 90.0 160.5 89.0 162.0 88.1 165.0 86.7 168.5 85.6 172.0 85.1ZM163.5 122.0 166.0 121.6 169.0 121.9 181.0 124.7 184.0 125.8 186.1 127.0 187.2 128.0 187.6 129.0 187.5 129.5 187.0 130.5 186.5 131.0 185.0 131.9 183.0 132.7 175.5 135.1 168.5 136.2 166.0 136.5 161.0 135.9 157.5 135.2 153.5 134.1 149.1 132.5 146.5 131.0 146.0 130.5 145.4 129.5 145.4 128.5 145.9 127.5 147.8 126.0 150.0 125.1 158.5 122.8ZM202.4 223.0 203.5 222.7 207.0 222.9 211.5 223.3 214.5 223.8 216.9 224.5 219.0 225.5 219.7 226.0 220.1 227.0 220.0 227.5 219.3 228.5 217.1 230.0 214.5 231.3 209.9 233.0 208.8 233.5 208.3 234.0 208.5 234.5 209.0 234.9 213.5 237.2 215.0 238.5 215.4 239.5 215.3 240.0 214.5 241.2 212.7 242.5 210.0 243.8 204.5 245.7 199.0 247.3 191.5 248.7 178.5 250.4 176.5 250.4 170.0 249.7 158.0 247.8 150.5 245.5 145.5 244.4 143.3 243.5 140.5 242.0 139.1 241.0 138.4 240.0 138.3 239.5 138.4 239.0 139.1 238.0 141.6 236.0 145.0 234.5 151.0 232.7 161.0 230.3 172.5 228.8 177.0 228.4 182.5 228.8 186.5 228.5 188.0 228.1 195.0 225.2ZM114.3 250.0 115.0 249.8 120.0 251.2 124.0 252.8 126.5 254.1 128.0 255.2 128.8 256.5 128.9 257.5 128.3 259.0 126.8 260.5 125.0 261.5 118.0 264.3 115.0 265.2 107.0 262.4 104.1 261.0 102.5 259.5 101.9 258.0 102.2 256.5 103.0 255.3 104.6 254.0 107.0 252.7 110.0 251.4ZM159.1 254.5 160.0 254.3 162.0 254.7 163.5 255.3 164.4 256.0 164.7 256.5 164.7 257.0 164.5 257.5 163.1 258.5 160.7 259.5 159.5 259.6 157.5 259.3 154.9 258.5 153.8 258.0 153.2 257.5 153.1 257.0 153.4 256.5 154.0 256.2ZM158.9 277.0 163.0 276.6 165.5 276.7 172.5 277.8 183.5 279.9 192.0 282.2 196.0 283.6 197.6 284.5 198.9 285.5 199.6 286.5 199.9 287.5 199.5 288.5 197.8 290.0 194.5 291.9 191.5 293.2 182.0 295.7 172.0 297.2 163.0 298.2 153.0 297.2 143.5 295.7 134.0 293.1 131.0 291.7 128.0 289.8 126.7 288.5 126.3 287.5 126.4 287.0 127.0 286.1 128.4 285.0 131.8 283.0 134.0 282.0 136.0 281.3 150.0 278.2 154.5 277.4Z" stroke="#8b8b8b"/><path d="M176.4 85.0 181.5 84.7 188.5 84.9 193.0 85.6 196.5 86.7 198.7 88.0 199.8 89.0 200.3 90.0 200.6 91.0 200.7 93.0 200.3 95.0 199.6 96.0 198.5 97.0 197.0 97.9 195.0 98.7 189.0 100.3 183.5 101.1 177.5 101.4 170.0 100.9 164.0 99.9 160.0 98.7 158.9 98.0 158.6 97.0 159.4 94.0 159.7 91.5 160.2 90.5 161.1 89.5 164.0 87.7 168.0 86.2 172.0 85.4ZM133.1 94.0 138.0 93.8 143.0 94.1 147.5 95.3 151.0 96.8 152.7 98.0 153.6 99.5 153.7 100.5 153.3 103.0 152.7 105.0 152.0 106.0 151.0 107.0 148.0 108.7 143.5 110.2 138.5 111.1 134.5 111.3 128.5 110.8 125.5 110.1 122.5 108.8 121.3 108.0 120.2 107.0 119.1 105.0 118.8 103.5 118.8 101.5 119.2 100.0 119.8 99.0 120.8 98.0 122.0 97.2 125.0 95.8 128.5 94.7ZM162.9 122.5 166.0 122.0 168.5 122.3 179.5 124.9 182.0 125.8 184.3 127.0 185.4 128.0 185.8 129.0 185.8 129.5 185.2 130.5 183.7 131.5 178.0 133.8 175.0 134.8 168.5 135.8 166.0 136.1 162.5 135.7 158.5 134.9 154.5 133.9 150.5 132.3 149.1 131.5 147.8 130.5 147.5 130.0 147.1 129.0 147.4 128.0 147.7 127.5 148.9 126.5 151.2 125.5 158.5 123.3ZM201.9 223.5 203.5 223.1 206.0 223.2 211.0 223.7 213.5 224.1 215.5 224.8 217.0 225.5 218.1 226.5 218.2 227.5 218.0 228.0 217.1 229.0 215.5 230.1 213.0 231.3 207.1 233.5 206.3 234.0 206.2 234.5 206.8 235.0 210.5 237.0 212.5 238.5 213.1 239.5 213.0 240.0 212.2 241.0 210.0 242.5 205.0 244.7 198.5 246.7 191.0 248.2 179.0 249.8 176.5 249.9 170.5 249.3 158.5 247.2 155.5 246.3 151.0 244.8 146.0 243.5 144.0 242.6 142.4 241.5 141.3 240.5 140.8 239.5 141.1 238.5 141.8 237.5 143.1 236.5 144.5 235.8 149.0 234.1 157.5 231.8 162.0 230.7 174.5 229.1 177.0 228.9 183.5 229.4 187.0 229.3 188.5 228.9 192.0 227.0 195.0 225.7ZM114.6 250.5 115.0 250.4 120.5 252.1 123.0 253.2 125.2 254.5 126.4 255.5 127.0 256.5 127.2 257.5 126.6 259.0 125.5 260.0 123.8 261.0 119.0 263.2 115.0 264.6 108.2 262.0 105.3 260.5 104.2 259.5 103.5 258.0 103.8 256.5 104.5 255.5 106.0 254.3 108.5 252.9ZM159.2 277.5 163.0 277.1 166.0 277.3 172.5 278.3 182.5 280.3 189.5 282.3 194.5 284.2 196.0 285.0 197.0 285.9 197.5 286.5 197.7 287.5 197.2 288.5 195.6 290.0 193.2 291.5 191.0 292.5 181.5 295.1 172.0 296.7 165.0 297.6 163.0 297.7 153.0 296.7 144.0 295.2 135.0 292.5 132.7 291.5 130.6 290.0 129.2 288.5 128.8 287.5 129.2 286.5 130.8 285.0 132.8 283.5 134.5 282.6 136.5 281.8 150.0 278.8 154.0 278.1Z" stroke="#8c8c8c"/><path d="M174.5 85.5 180.5 85.1 187.0 85.2 191.0 85.7 194.5 86.6 196.0 87.2 197.3 88.0 198.7 89.5 199.4 91.5 199.5 93.5 199.3 94.5 198.8 95.5 197.9 96.5 196.5 97.5 195.0 98.2 189.5 99.8 184.5 100.7 178.5 101.0 172.5 100.7 167.5 100.0 163.0 98.8 161.3 98.0 160.8 97.5 160.4 96.5 160.8 92.0 161.1 91.0 161.8 90.0 164.0 88.4 167.5 86.8 171.0 85.9ZM131.9 94.5 136.5 94.2 142.0 94.4 146.0 95.3 149.5 96.8 151.1 98.0 151.9 99.0 152.2 100.0 152.2 103.0 151.6 105.0 150.9 106.0 150.0 106.9 147.5 108.4 143.5 109.7 139.0 110.7 135.0 110.9 130.0 110.6 127.0 110.1 124.0 109.0 121.8 107.5 120.9 106.5 120.3 105.5 119.9 104.0 119.7 102.5 119.9 101.0 120.2 100.0 121.5 98.3 124.0 96.7 128.0 95.3ZM165.7 122.5 168.0 122.6 170.5 123.1 180.0 125.8 181.6 126.5 183.0 127.5 183.8 128.5 183.9 129.5 183.5 130.1 182.4 131.0 176.5 133.8 173.5 134.6 167.0 135.6 165.5 135.6 160.0 134.8 157.5 134.2 153.9 133.0 150.9 131.5 149.3 130.0 149.0 129.0 149.0 128.5 149.2 128.0 150.0 127.1 152.1 126.0 157.5 124.1 161.0 123.3ZM203.5 223.5 208.0 223.8 213.0 224.6 214.5 225.2 215.8 226.0 216.3 226.5 216.6 227.5 216.5 228.0 215.7 229.0 214.0 230.2 211.5 231.3 204.5 233.9 203.8 234.0 203.3 234.5 204.0 235.0 208.0 237.0 209.8 238.5 210.3 239.5 210.2 240.0 209.4 241.0 208.0 242.0 203.5 244.3 198.0 246.1 190.5 247.6 179.0 249.2 177.0 249.4 171.0 248.8 167.5 248.3 158.5 246.4 151.0 243.8 147.0 242.7 144.7 241.5 143.7 240.5 143.2 239.5 143.4 238.5 144.0 237.8 145.0 237.0 146.9 236.0 151.5 234.3 160.0 231.8 162.5 231.3 167.5 230.7 173.0 229.8 176.5 229.5 186.0 230.2 188.5 230.1 189.5 229.7 191.8 228.0 194.6 226.5 199.0 224.8ZM113.8 251.5 115.0 251.0 119.5 252.6 122.5 254.0 123.8 255.0 124.7 256.0 125.2 257.5 124.9 258.5 123.4 260.0 120.9 261.5 118.0 262.9 115.0 264.0 110.2 262.0 107.4 260.5 106.1 259.5 105.4 258.5 105.2 257.5 105.8 256.0 106.8 255.0 109.0 253.5ZM159.6 278.0 163.0 277.6 166.0 277.8 174.0 279.2 181.5 280.8 187.5 282.6 192.3 284.5 194.7 286.0 195.3 287.0 195.4 287.5 195.0 288.5 193.4 290.0 191.5 291.2 189.5 292.0 180.5 294.7 166.5 296.9 162.5 297.1 158.0 296.5 153.0 296.1 144.0 294.5 135.5 291.8 133.2 290.5 132.1 289.5 131.2 288.0 131.2 287.0 132.2 285.5 133.2 284.5 134.6 283.5 138.0 282.2 150.5 279.3 154.5 278.6Z" stroke="#8d8d8d"/><path d="M179.9 85.5 186.5 85.6 189.5 85.9 193.5 86.8 195.9 88.0 196.9 89.0 197.5 90.0 198.0 91.5 198.2 93.5 198.0 94.5 197.5 95.5 196.0 96.9 193.0 98.3 188.0 99.7 184.0 100.4 178.5 100.7 172.5 100.3 168.0 99.6 164.4 98.5 163.0 97.7 162.2 97.0 161.7 95.5 162.0 92.0 162.7 90.5 164.3 89.0 167.5 87.3 170.5 86.4 174.5 85.9ZM131.2 95.0 136.0 94.5 141.5 94.7 144.5 95.4 148.0 96.8 150.0 98.3 150.5 99.0 150.9 100.0 151.1 103.0 150.4 105.0 149.0 106.7 146.5 108.2 143.0 109.4 139.0 110.2 135.5 110.5 131.0 110.3 127.5 109.7 125.0 108.8 123.0 107.5 122.0 106.5 121.4 105.5 121.0 104.0 120.8 102.5 120.9 101.0 121.3 100.0 122.5 98.5 124.8 97.0 128.0 95.7ZM165.3 123.0 166.5 122.9 169.5 123.4 178.5 126.1 181.0 127.5 181.8 128.5 181.8 129.5 181.5 130.0 180.4 131.0 177.8 132.5 176.0 133.3 173.0 134.1 167.0 135.1 165.5 135.2 160.5 134.4 155.5 132.9 152.6 131.5 151.1 130.0 150.7 129.0 150.8 128.5 151.5 127.5 153.1 126.5 158.0 124.6 161.0 123.8ZM203.1 224.0 204.0 223.9 207.0 224.2 210.5 224.7 212.5 225.3 214.0 226.0 214.6 226.5 214.9 227.0 214.9 228.0 214.0 229.2 212.0 230.5 204.5 233.2 201.5 233.1 197.2 232.5 195.8 232.5 195.9 233.0 196.7 233.5 204.0 236.5 206.0 237.5 207.2 238.5 207.6 239.5 207.4 240.0 206.6 241.0 203.8 243.0 201.5 244.2 198.0 245.3 191.0 246.9 181.5 248.4 177.0 248.8 172.0 248.4 167.5 247.6 159.5 245.8 157.0 245.1 147.5 241.3 146.3 240.5 145.7 239.5 145.8 239.0 146.6 238.0 147.9 237.0 149.8 236.0 154.5 234.2 162.0 232.1 167.5 231.4 173.5 230.3 177.0 230.0 188.0 231.3 190.0 231.3 191.0 231.2 191.5 230.9 192.4 229.0 194.3 227.5 198.0 225.7ZM114.4 252.0 115.0 251.7 118.5 253.0 120.5 254.0 122.4 255.5 123.1 257.0 122.8 258.5 121.4 260.0 118.5 261.9 115.0 263.3 111.5 261.7 109.0 260.3 107.6 259.0 107.3 258.5 107.1 257.5 107.7 256.0 109.0 254.7 111.0 253.5ZM160.1 278.5 163.0 278.2 166.0 278.4 173.5 279.6 180.5 281.3 186.5 283.3 190.3 285.0 192.4 286.5 192.9 287.5 192.8 288.0 191.8 289.5 190.0 290.7 182.5 293.4 177.0 294.7 165.5 296.5 163.0 296.6 158.0 295.9 153.5 295.5 144.0 293.7 136.0 290.8 134.0 289.5 133.3 288.5 133.0 287.5 133.3 286.5 134.4 285.0 135.5 284.1 136.7 283.5 140.5 282.3 149.5 280.2 154.5 279.3Z" stroke="#8e8e8e"/><path d="M177.9 86.0 181.5 85.9 188.0 86.2 191.0 86.7 193.5 87.5 195.0 88.5 196.1 90.0 196.8 93.0 196.8 94.0 196.4 95.0 195.0 96.5 192.5 97.8 188.0 99.3 184.0 99.9 179.0 100.2 175.0 100.1 169.0 99.2 165.5 98.0 164.5 97.4 163.6 96.5 163.1 95.0 163.2 92.0 163.6 91.0 164.5 90.0 167.0 88.2 169.5 87.2 172.5 86.5ZM135.0 95.0 139.5 95.0 142.5 95.3 145.5 96.4 148.0 97.8 149.2 99.0 149.7 100.0 149.9 101.0 149.8 103.5 149.5 104.5 148.9 105.5 147.2 107.0 144.5 108.3 141.0 109.4 137.0 110.0 133.0 110.0 128.5 109.4 126.0 108.6 124.3 107.5 122.9 106.0 122.2 104.0 122.1 101.0 122.5 100.0 123.2 99.0 125.2 97.5 128.0 96.3 131.5 95.4ZM165.3 123.5 166.5 123.4 169.5 123.9 177.0 126.5 178.5 127.3 179.4 128.0 179.7 128.5 179.7 129.5 178.5 131.0 177.1 132.0 175.5 132.8 173.0 133.5 167.5 134.6 166.0 134.7 162.5 134.2 159.5 133.6 157.0 132.7 154.6 131.5 153.3 130.5 152.7 129.5 152.7 129.0 153.1 128.0 155.3 126.5 158.0 125.3 161.0 124.3ZM203.0 224.5 204.0 224.4 206.0 224.6 211.0 225.6 212.7 226.5 213.2 227.0 213.3 228.0 212.7 229.0 211.3 230.0 204.5 232.6 201.0 232.4 197.9 231.5 195.5 230.6 194.7 230.0 194.5 229.5 194.9 228.5 196.1 227.5 197.8 226.5 200.5 225.3ZM172.8 231.0 175.5 230.7 177.5 230.6 185.5 231.7 192.0 233.1 199.0 235.7 202.6 237.5 204.0 238.4 204.5 239.0 204.6 239.5 204.5 240.0 203.9 241.0 202.3 242.5 200.5 243.5 198.5 244.2 190.5 246.3 180.0 247.9 177.0 248.2 171.0 247.6 168.0 247.1 159.5 244.9 155.0 243.3 150.5 241.0 149.3 240.0 149.0 239.5 148.9 239.0 149.5 238.0 150.7 237.0 152.6 236.0 160.5 233.3 162.5 232.8 167.9 232.0ZM114.0 253.0 115.0 252.5 118.5 254.0 120.5 255.5 121.3 257.0 121.0 258.5 119.7 260.0 117.5 261.4 115.0 262.5 112.0 261.0 110.5 260.0 109.2 258.5 109.0 257.5 109.2 256.5 110.5 255.0ZM160.7 279.0 163.5 278.7 167.0 279.1 173.5 280.3 179.5 281.8 184.5 283.6 187.5 285.0 189.7 286.5 190.4 287.5 190.4 288.0 189.9 289.0 188.5 290.1 181.0 293.0 175.5 294.3 165.5 295.9 162.5 296.0 157.5 295.2 153.0 294.8 144.5 293.1 137.1 290.0 135.6 289.0 135.0 288.2 134.8 287.5 135.0 286.5 136.0 285.3 137.5 284.3 139.5 283.5 148.0 281.2 155.0 279.9Z" stroke="#8e8e8e"/><path d="M177.0 86.5 181.0 86.3 187.0 86.6 189.5 86.9 192.0 87.7 193.5 88.5 194.7 90.0 195.2 92.5 195.1 94.5 194.5 95.4 193.9 96.0 191.3 97.5 188.0 98.7 184.5 99.4 179.5 99.8 176.0 99.7 170.5 98.9 167.6 98.0 166.5 97.4 165.4 96.5 164.6 95.0 164.5 92.5 164.8 91.5 165.4 90.5 167.1 89.0 169.5 87.8 172.5 87.0ZM134.4 95.5 138.5 95.4 141.5 95.7 144.0 96.4 146.1 97.5 147.8 99.0 148.5 100.5 148.6 103.0 148.4 104.0 147.9 105.0 146.5 106.4 144.5 107.6 141.5 108.7 138.0 109.4 134.5 109.6 130.5 109.2 127.5 108.5 125.7 107.5 124.2 106.0 123.7 104.5 123.4 101.5 123.6 100.5 124.1 99.5 125.9 98.0 128.0 96.9 131.0 96.0ZM165.5 124.0 167.5 124.1 170.0 124.6 175.0 126.7 176.5 127.5 177.5 128.5 177.7 129.0 177.5 130.0 176.1 131.5 174.1 132.5 171.0 133.3 166.5 134.2 165.0 134.1 161.0 133.3 157.4 132.0 155.3 130.5 154.8 129.5 155.0 128.5 155.8 127.5 157.2 126.5 159.5 125.5 162.0 124.7ZM203.1 225.0 204.0 224.9 206.0 225.2 210.0 226.4 211.0 227.0 211.4 227.5 211.5 228.0 211.3 228.5 210.9 229.0 209.4 230.0 204.5 232.1 202.0 231.9 199.5 231.2 197.5 230.0 197.1 229.5 197.1 228.5 197.9 227.5 199.4 226.5ZM173.8 231.5 177.0 231.2 184.0 232.2 187.0 232.8 192.5 234.4 197.0 236.1 200.3 238.0 201.5 239.0 201.8 239.5 201.7 240.5 201.0 241.5 199.7 242.5 198.0 243.3 195.0 244.2 189.0 245.8 177.5 247.5 173.5 247.3 170.0 246.8 159.5 243.9 155.5 242.2 152.6 240.5 151.7 239.5 151.7 239.0 152.0 238.3 152.8 237.5 155.5 236.1 162.0 233.8ZM114.8 253.5 115.0 253.4 116.5 254.1 118.5 255.4 119.3 256.5 119.5 257.5 119.3 258.5 118.5 259.5 117.3 260.5 115.0 261.7 112.9 260.5 111.7 259.5 111.0 258.5 110.7 257.5 111.0 256.5 111.8 255.5ZM161.5 279.5 164.0 279.4 167.5 279.8 173.0 280.8 178.5 282.3 182.0 283.7 185.6 285.5 187.5 287.0 187.8 287.5 187.8 288.0 187.2 289.0 186.0 289.8 182.0 291.6 179.5 292.6 175.0 293.7 165.5 295.2 163.0 295.3 157.5 294.4 153.0 294.0 145.0 292.2 142.2 291.0 137.8 288.5 137.1 287.5 137.4 286.5 138.0 285.8 139.3 285.0 141.0 284.3 147.5 282.2 155.0 280.6Z" stroke="#8f8f8f"/><path d="M176.9 87.0 180.5 86.8 186.5 87.1 189.0 87.5 191.0 88.1 192.5 89.0 193.5 90.5 193.6 93.0 193.3 94.5 192.0 96.0 189.4 97.5 187.0 98.4 184.0 99.0 179.5 99.3 176.0 99.1 171.5 98.4 168.8 97.5 167.9 97.0 167.0 96.2 166.2 94.5 166.2 92.0 166.9 90.5 168.7 89.0 170.5 88.1 173.0 87.5ZM134.7 96.0 138.5 95.9 141.0 96.1 143.0 96.7 145.2 98.0 146.6 99.5 147.2 101.0 147.2 103.5 146.4 105.0 145.0 106.3 142.6 107.5 140.0 108.4 137.5 108.9 134.5 109.0 131.0 108.7 128.3 108.0 126.6 107.0 125.4 105.5 125.0 104.0 125.0 101.0 125.7 99.5 127.5 98.0 129.5 97.1 132.0 96.4ZM163.7 125.0 166.5 124.6 168.5 124.9 171.0 125.7 173.5 127.0 174.9 128.0 175.6 129.0 175.5 130.0 174.8 131.0 173.0 132.0 169.0 133.1 166.5 133.6 165.5 133.6 163.0 133.1 159.5 132.0 158.5 131.5 157.3 130.5 156.8 129.5 157.0 128.5 157.7 127.5 159.2 126.5 161.0 125.7ZM203.6 225.5 206.0 225.9 208.0 226.8 208.9 227.5 209.2 228.0 209.1 228.5 208.7 229.0 207.4 230.0 204.5 231.4 202.5 231.3 200.2 230.5 199.1 229.5 198.9 229.0 199.2 228.0 200.0 227.2 201.0 226.6ZM175.3 232.0 177.0 231.9 185.0 233.1 187.5 233.8 192.5 235.5 195.0 236.5 197.5 238.0 199.0 239.5 198.9 240.5 198.1 241.5 196.5 242.5 190.5 244.6 187.0 245.4 177.0 246.9 173.0 246.6 170.0 246.1 160.5 243.1 157.5 241.7 155.1 240.0 154.7 239.5 154.7 239.0 155.4 238.0 157.1 237.0 162.5 234.7 173.0 232.3ZM114.3 255.0 115.0 254.5 116.5 255.5 117.4 256.5 117.7 257.5 117.7 258.0 117.1 259.0 115.0 260.7 113.5 259.5 112.6 258.0 112.6 257.0 112.9 256.5ZM162.9 280.0 165.0 280.1 169.0 280.7 175.5 282.2 179.5 283.7 183.5 286.0 184.6 287.0 184.9 287.5 184.9 288.0 184.6 288.5 183.4 289.5 181.7 290.5 178.3 292.0 175.0 292.9 168.0 294.2 164.5 294.6 162.5 294.6 157.5 293.7 152.5 293.1 146.5 291.6 145.0 291.0 143.2 290.0 141.3 288.5 140.6 287.5 140.9 286.5 142.1 285.5 144.0 284.5 147.0 283.4 149.5 282.6 157.5 280.9Z" stroke="#909090"/><path d="M177.6 87.5 181.0 87.4 186.5 87.8 188.5 88.2 190.0 88.7 191.2 89.5 191.6 90.0 191.9 91.0 191.8 93.0 191.3 94.5 190.0 96.0 188.5 97.0 186.0 97.9 183.5 98.4 179.5 98.6 176.5 98.6 173.3 98.0 170.4 97.0 169.0 96.0 168.2 94.5 168.0 92.0 168.7 90.5 170.0 89.3 171.9 88.5 174.5 87.9ZM132.2 97.0 135.0 96.6 139.0 96.6 141.0 96.8 142.8 97.5 144.6 99.0 145.5 100.5 145.7 102.5 145.4 104.0 144.5 105.1 142.5 106.5 140.3 107.5 138.0 108.1 135.5 108.3 132.5 108.2 130.0 107.7 128.5 107.1 127.3 106.0 126.8 105.0 126.5 102.0 126.8 100.5 127.4 99.5 128.5 98.5 130.5 97.5ZM164.6 125.5 166.0 125.2 167.0 125.3 169.0 125.8 170.6 126.5 172.2 127.5 173.2 128.5 173.5 129.5 173.4 130.0 172.5 130.9 171.4 131.5 169.0 132.3 166.5 132.9 164.5 132.7 160.8 131.5 159.9 131.0 158.9 130.0 158.7 129.5 158.9 128.5 159.5 127.7 160.5 127.0 162.0 126.3ZM203.0 226.5 204.0 226.3 204.8 226.5 205.9 227.0 206.8 228.0 206.8 228.5 206.6 229.0 205.5 230.0 204.5 230.6 203.5 230.6 202.0 230.2 201.0 229.5 200.7 229.0 200.7 228.5 201.4 227.5ZM173.8 233.0 177.0 232.7 184.0 233.7 186.5 234.4 191.9 236.5 193.9 237.5 195.7 239.0 196.0 239.5 196.0 240.0 195.5 240.8 194.7 241.5 193.0 242.5 190.0 243.8 187.5 244.5 180.0 245.8 176.5 246.2 172.0 245.6 168.5 244.8 162.3 242.5 160.1 241.5 159.4 241.0 158.4 240.0 158.2 239.5 158.3 239.0 159.8 237.5 163.0 235.7 168.0 234.3ZM114.7 256.5 115.0 256.1 115.6 257.0 115.7 257.5 115.5 258.5 115.0 259.2 114.4 258.0 114.4 257.5ZM160.6 281.0 163.0 280.7 165.0 280.9 170.5 281.8 175.0 282.9 178.0 284.1 180.3 285.5 181.8 287.0 181.9 287.5 181.9 288.0 181.1 289.0 180.0 289.9 177.0 291.4 173.5 292.4 166.5 293.7 162.5 293.8 157.5 292.8 153.0 292.3 150.0 291.5 147.0 290.3 144.9 289.0 144.0 288.0 143.8 287.5 143.9 287.0 144.5 286.3 146.3 285.0 148.8 284.0Z" stroke="#919191"/><path d="M175.4 88.5 178.0 88.1 180.5 88.1 186.0 88.7 188.0 89.1 189.4 90.0 189.9 91.0 189.9 92.0 189.4 94.0 188.8 95.0 187.5 96.2 185.9 97.0 184.0 97.5 181.0 97.8 177.5 97.9 175.5 97.6 173.3 97.0 171.6 96.0 170.7 95.0 170.3 93.0 170.3 91.5 170.8 90.5 172.0 89.6 173.5 89.0ZM133.8 97.5 136.0 97.3 139.0 97.3 140.5 97.6 142.0 98.2 143.3 99.5 143.9 101.0 143.8 102.5 143.2 104.0 142.3 105.0 140.9 106.0 139.0 106.9 137.5 107.3 135.5 107.5 133.0 107.4 131.0 107.0 129.9 106.5 128.8 105.5 128.4 104.5 128.3 102.0 128.6 100.5 129.3 99.5 130.7 98.5 132.0 97.9ZM164.3 126.5 166.0 126.0 168.5 126.6 170.6 128.0 171.2 129.0 171.2 129.5 170.5 130.4 169.6 131.0 166.5 132.1 165.5 132.0 163.0 131.2 161.8 130.5 161.3 130.0 161.0 129.0 161.5 128.1 162.2 127.5ZM204.0 227.5 204.5 228.0 204.7 228.5 204.5 229.0 204.0 229.5 203.2 229.0 203.0 228.5 203.2 228.0ZM173.2 234.0 177.0 233.5 183.0 234.4 185.5 235.0 188.0 236.0 191.6 238.0 192.7 239.0 192.9 239.5 192.9 240.0 192.6 240.5 191.5 241.5 189.9 242.5 188.5 243.1 179.0 245.2 177.0 245.4 176.0 245.3 172.5 244.8 170.0 244.2 166.0 242.7 163.0 241.2 161.6 240.0 161.4 239.5 161.5 239.0 161.7 238.5 162.8 237.5 164.6 236.5 168.0 235.3ZM162.9 281.5 170.5 282.6 175.0 284.0 177.0 285.0 178.4 286.0 179.2 287.0 179.3 287.5 179.2 288.0 177.8 289.5 175.0 290.9 169.5 292.4 166.5 292.8 163.5 293.0 162.0 292.9 154.0 291.3 151.2 290.5 149.2 289.5 147.5 288.0 147.3 287.5 147.5 287.0 148.4 286.0 150.5 284.9 157.5 282.6 160.5 281.8Z" stroke="#929292"/><path d="M177.7 89.0 179.5 88.9 181.5 89.0 185.5 90.0 186.6 90.5 187.1 91.0 187.3 92.0 186.9 93.5 186.5 94.5 185.5 95.5 184.6 96.0 182.0 96.7 177.5 96.9 175.5 96.5 174.4 96.0 173.8 95.5 173.2 94.5 172.9 92.5 173.0 91.5 173.6 90.5 174.3 90.0 175.5 89.5ZM134.4 98.5 136.5 98.3 139.0 98.5 140.5 99.0 141.1 99.5 141.7 100.5 141.7 101.5 141.2 103.0 140.0 104.5 138.0 105.8 135.5 106.3 132.6 106.0 131.5 105.5 131.0 105.1 130.7 104.5 130.5 103.5 130.6 101.5 130.9 100.5 131.5 99.8 132.5 99.1ZM165.1 127.5 166.0 127.1 167.5 127.7 168.5 128.5 168.6 129.0 168.5 129.5 167.5 130.5 166.5 130.9 166.0 131.0 164.8 130.5 164.1 130.0 163.8 129.5 163.7 129.0 164.3 128.0ZM176.3 234.5 177.0 234.4 182.5 235.2 185.5 236.0 187.4 237.0 188.8 238.0 189.7 239.0 189.9 239.5 189.9 240.0 189.0 241.1 187.0 242.3 177.5 244.5 176.0 244.4 173.5 243.9 169.0 242.5 166.8 241.5 165.2 240.5 164.5 239.5 164.8 238.5 165.9 237.5 168.5 236.3 173.5 235.0ZM162.0 282.5 163.5 282.5 169.0 283.3 172.5 284.3 174.1 285.0 175.6 286.0 176.4 287.0 176.5 287.5 176.3 288.0 175.5 289.0 173.5 290.1 169.5 291.4 166.5 291.9 163.5 292.0 162.0 291.9 154.2 290.0 152.2 289.0 151.3 288.0 151.1 287.5 151.8 286.5 153.3 285.5 157.0 283.9 159.6 283.0Z" stroke="#929292"/><path d="M177.4 90.5 178.5 90.3 180.0 90.3 181.1 90.5 182.1 91.0 182.8 92.0 182.8 93.0 182.5 94.0 181.5 94.7 180.0 95.1 178.0 95.1 176.5 94.6 175.9 93.5 175.8 92.0 176.5 91.0ZM174.2 236.0 177.0 235.5 183.0 236.5 184.5 237.0 186.0 237.9 186.6 238.5 187.1 239.5 186.5 240.4 185.5 240.9 179.0 243.1 177.0 243.5 175.0 243.1 173.0 242.5 169.7 241.0 168.5 240.3 167.8 239.5 167.8 239.0 168.1 238.5 169.5 237.5ZM160.4 284.0 163.0 283.6 170.0 284.9 172.3 286.0 173.2 287.0 173.4 287.5 173.0 288.2 171.9 289.0 169.7 290.0 168.0 290.5 163.0 291.0 160.6 290.5 156.3 289.0 155.5 288.5 155.0 288.0 154.8 287.5 155.0 287.0 156.1 286.0 157.9 285.0Z" stroke="#929292"/><path d="M175.9 237.0 177.5 236.9 181.4 238.0 182.2 238.5 182.4 239.0 182.3 239.5 180.0 241.0 177.8 242.0 177.0 242.2 175.0 241.6 173.7 241.0 172.5 240.0 172.2 239.5 172.2 239.0 173.3 238.0ZM161.1 285.5 163.0 285.1 164.0 285.3 167.6 286.5 168.5 287.0 168.8 287.5 168.6 288.0 168.0 288.5 166.9 289.0 164.0 289.6 162.4 289.5 159.9 288.5 158.9 287.5 159.0 287.0 159.5 286.5Z" stroke="#929292"/></g><g fill="#3aaee4" fill-opacity="0.55"><path transform="rotate(0 168 128.6)" d="M148 128.6Q157.0 123.64999999999999 168 119.6Q179.0 123.64999999999999 188 128.6Q179.0 133.54999999999998 168 137.6Q157.0 133.54999999999998 148 128.6Z"/><path transform="rotate(0 167 289.4)" d="M134 289.4Q148.85 281.59 167 275.2Q185.15 281.59 200 289.4Q185.15 297.21 167 303.59999999999997Q148.85 297.21 134 289.4Z"/></g><g fill="none" stroke-width="0.8" stroke-linejoin="round"><path d="M161.7 86.5 167.0 86.5 171.5 87.3 174.5 88.3 177.2 89.5 179.5 90.9 181.0 92.1 182.0 93.5 185.3 99.0 186.1 101.0 186.4 102.5 186.3 104.5 185.6 107.5 183.2 113.5 183.1 115.5 183.5 117.0 184.9 118.5 186.5 119.5 196.0 123.7 198.0 124.8 200.0 126.2 202.1 128.0 203.7 130.0 203.9 130.5 202.8 132.0 200.0 134.1 194.5 137.6 189.5 140.2 185.0 142.3 178.5 144.9 174.5 146.3 171.0 146.9 165.0 147.4 162.0 147.2 159.0 146.7 153.5 145.3 151.0 144.3 146.5 141.6 142.0 138.6 139.0 136.1 135.8 133.0 134.3 131.0 134.1 130.5 134.3 130.0 135.4 128.5 137.5 126.4 143.4 121.5 144.3 120.0 144.3 119.0 143.4 117.5 140.9 115.5 131.0 109.7 127.3 107.0 126.0 105.5 125.3 104.0 125.1 102.5 125.6 101.0 127.5 98.5 130.0 96.3 132.0 95.2 136.0 93.5 140.0 91.3 145.0 90.1 149.0 88.5 151.0 87.9 158.5 86.7ZM239.6 136.5 242.0 136.2 244.5 136.2 253.0 136.7 255.5 137.1 257.0 137.6 258.5 138.5 260.0 140.0 260.8 141.5 261.3 144.0 261.3 150.0 260.7 152.0 259.5 154.0 259.1 155.0 259.3 156.0 260.9 159.0 261.5 161.0 261.9 164.5 261.7 167.0 260.9 169.5 259.6 171.5 257.9 173.0 255.5 174.3 252.5 175.2 250.0 175.5 247.0 175.3 240.5 174.2 238.0 173.4 236.4 172.5 235.0 171.2 234.0 169.5 233.5 168.0 233.4 166.5 233.6 161.0 234.2 159.0 236.0 156.0 236.4 155.0 236.1 154.0 234.2 151.0 233.7 149.5 233.3 146.5 233.4 143.0 234.2 140.5 235.5 138.6 237.5 137.2ZM154.9 222.0 158.5 221.8 161.5 222.0 172.5 223.9 179.5 225.6 183.5 227.1 187.5 229.1 194.8 233.5 196.9 235.0 198.0 236.3 198.9 238.0 199.5 240.0 199.5 241.5 199.0 242.9 198.3 244.0 194.1 248.5 193.4 249.5 193.0 250.5 192.9 251.5 193.2 254.5 193.0 256.5 192.3 258.5 190.5 263.0 190.0 265.0 189.0 273.0 189.2 274.5 189.8 276.0 191.3 277.5 194.7 279.0 215.5 284.3 225.0 287.8 227.2 289.0 227.3 289.5 224.5 291.2 219.0 293.2 211.0 295.7 196.3 299.5 192.9 301.0 192.3 301.5 191.5 302.5 190.7 306.5 190.6 309.0 191.5 313.7 193.1 319.0 193.4 322.0 191.9 334.0 191.7 338.0 190.9 341.5 191.0 343.0 191.9 345.0 197.6 351.5 198.6 353.0 199.3 354.5 200.2 358.0 200.6 361.5 200.5 363.0 199.4 366.0 199.4 367.5 199.8 368.5 200.5 369.5 203.0 372.0 203.4 373.0 203.5 374.0 202.8 375.5 201.6 376.5 192.5 380.8 190.0 381.6 182.5 383.4 176.5 384.5 175.1 385.0 174.5 385.5 174.3 386.5 175.0 391.0 177.6 395.5 178.4 397.5 178.5 399.0 178.2 401.0 177.7 402.5 176.8 404.0 175.5 405.5 174.0 406.7 172.5 407.6 171.0 408.2 167.5 408.8 164.0 408.8 158.5 408.2 155.5 407.0 154.0 406.0 153.0 405.0 151.8 403.5 150.8 401.5 150.2 399.5 150.2 398.0 150.5 396.5 151.3 395.0 154.1 392.0 155.0 390.5 155.3 389.0 155.4 387.0 155.2 386.0 154.9 385.5 154.0 384.8 152.0 384.0 141.5 381.5 135.9 379.5 132.0 377.7 127.0 374.2 126.0 373.3 125.0 372.0 124.0 370.0 123.2 368.0 123.0 366.0 123.2 362.0 122.7 360.0 122.0 359.0 121.0 358.1 116.9 355.5 116.1 354.5 115.8 353.5 116.2 352.5 117.2 351.5 120.2 349.5 122.5 348.2 129.5 345.6 131.5 345.2 136.1 344.5 138.8 343.5 140.2 342.5 141.0 341.5 141.7 340.0 141.9 338.5 141.9 337.5 141.5 336.2 139.8 333.0 138.9 331.0 138.1 327.5 137.9 321.0 138.2 315.0 137.9 310.0 138.8 303.0 138.8 302.0 138.4 301.0 137.3 300.0 135.2 299.0 127.0 296.3 118.5 292.7 115.6 291.0 114.1 289.5 114.2 289.0 115.3 288.0 119.0 285.7 122.5 284.2 130.9 281.5 136.0 279.5 140.1 277.5 140.6 277.0 141.0 276.0 140.8 273.0 141.5 269.0 141.4 268.0 140.9 267.0 139.0 265.0 133.1 261.0 131.0 259.0 127.4 254.0 125.5 250.5 122.1 246.5 120.2 244.0 119.0 241.5 119.0 240.0 120.1 238.0 121.9 236.0 126.1 232.0 129.0 230.0 135.0 227.2 140.5 225.2 151.0 222.6Z" stroke="#2a3c9a" stroke-width="0.78"/><path d="M160.7 87.5 165.5 87.3 168.0 87.6 170.5 88.1 173.0 89.0 175.2 90.0 177.5 91.4 178.7 92.5 179.9 94.0 183.1 99.5 183.9 102.0 183.9 103.5 183.4 106.5 181.3 113.5 181.3 115.5 181.7 117.0 183.0 118.5 184.5 119.5 196.0 124.7 198.8 126.5 200.8 128.5 201.9 130.0 202.1 130.5 200.9 132.0 198.0 134.2 194.0 136.9 185.5 141.2 179.0 143.8 174.0 145.4 169.5 146.3 165.0 146.6 162.0 146.4 159.0 145.8 155.0 144.7 152.0 143.6 146.5 140.4 142.5 137.7 140.0 135.7 137.8 133.5 135.9 131.0 135.7 130.5 135.9 130.0 137.0 128.5 139.6 126.0 141.5 124.5 145.2 122.0 146.3 121.0 147.2 119.5 147.1 118.0 146.5 117.0 145.3 116.0 139.3 112.5 133.0 109.4 129.5 107.0 127.9 105.5 126.9 104.0 126.6 103.0 127.1 101.5 129.0 99.1 131.5 97.1 140.5 93.0 145.0 91.6 150.5 89.3ZM241.9 137.0 244.0 137.0 253.0 137.5 255.5 137.9 257.0 138.5 258.3 139.5 259.2 140.5 259.9 142.0 260.4 144.5 260.5 148.5 260.3 150.0 259.6 152.0 258.2 154.0 257.7 155.0 257.9 156.0 259.6 158.5 260.6 161.0 261.1 164.5 261.0 167.0 260.0 169.5 258.5 171.4 256.5 172.9 253.5 174.1 251.0 174.6 249.0 174.6 245.0 174.1 240.0 173.1 238.0 172.3 236.5 171.3 235.4 170.0 234.7 168.5 234.3 165.5 234.4 162.5 234.7 160.5 235.5 158.5 237.5 156.0 237.9 155.0 237.5 154.0 235.4 151.0 234.6 149.0 234.2 145.5 234.5 142.5 235.5 140.2 237.1 138.5 239.0 137.5ZM153.1 223.0 157.0 222.6 160.5 222.7 172.0 224.6 178.5 226.2 182.5 227.7 186.5 229.7 191.5 232.7 195.2 235.5 196.2 236.5 197.2 238.0 197.8 239.5 197.9 241.0 197.4 242.5 196.7 243.5 191.7 248.5 190.9 249.5 190.4 250.5 190.4 251.5 190.9 254.5 190.9 256.0 190.2 258.5 188.5 262.0 187.9 263.5 187.5 268.5 186.5 273.5 186.6 274.5 186.9 275.5 188.4 277.0 190.2 278.0 192.5 279.0 195.7 280.0 200.0 280.9 205.6 282.5 214.5 284.7 223.0 288.1 224.6 289.0 224.7 289.5 223.3 290.5 220.5 291.8 211.5 294.8 200.0 297.8 196.7 298.5 192.3 300.0 189.5 301.5 188.4 302.5 187.9 303.5 187.3 305.5 187.5 308.0 188.8 314.0 190.5 319.5 190.8 322.0 190.0 330.0 189.6 331.5 188.1 335.5 187.4 338.0 187.1 340.0 187.2 342.0 187.9 344.5 188.7 346.0 189.7 347.0 192.5 349.3 193.7 350.5 195.6 353.0 196.5 355.0 197.1 357.5 197.2 359.5 196.8 361.0 195.4 363.5 195.2 365.0 195.8 367.0 198.2 372.0 198.5 373.0 198.4 374.0 197.6 375.5 195.7 377.5 193.7 379.0 191.8 380.0 189.5 380.8 182.0 382.7 175.5 383.8 174.0 384.4 173.2 385.0 172.8 386.0 173.3 391.0 173.9 392.5 175.8 395.0 176.7 397.0 177.0 398.5 176.8 400.5 175.8 403.0 174.6 404.5 173.5 405.4 172.0 406.3 170.5 406.9 167.0 407.6 161.0 407.4 158.5 407.0 156.0 405.9 153.8 404.0 152.8 402.5 152.1 401.0 151.7 399.5 151.6 398.0 152.1 396.5 152.6 395.5 155.5 392.4 156.4 391.0 156.7 389.5 156.8 387.0 156.8 386.0 156.5 385.3 155.7 384.5 153.2 383.5 142.0 380.5 139.0 379.4 134.5 376.9 128.9 372.5 127.2 370.5 125.8 367.5 125.4 365.0 125.8 361.0 125.4 359.5 124.2 358.0 120.9 355.0 120.3 354.0 120.2 353.5 120.4 352.5 121.6 351.0 123.4 349.5 125.3 348.5 130.5 346.4 136.0 345.5 138.0 345.0 141.1 343.5 142.2 342.5 143.0 341.4 143.8 339.5 144.1 338.0 143.7 336.0 141.2 331.0 140.7 329.0 140.3 326.5 140.2 324.0 140.6 316.0 140.1 310.0 141.3 302.5 141.2 301.5 140.9 301.0 139.8 300.0 137.7 299.0 127.5 295.7 120.5 292.6 117.6 291.0 116.0 289.5 116.1 289.0 117.2 288.0 120.5 285.9 124.5 284.3 141.6 278.5 143.4 277.5 143.8 277.0 144.1 276.0 143.9 273.0 144.4 269.0 144.2 268.0 143.7 267.0 143.0 266.0 141.8 265.0 136.0 261.3 133.4 259.0 131.8 256.5 130.3 252.5 129.5 251.1 128.4 250.0 124.7 247.0 122.7 244.5 121.6 242.0 121.4 241.0 121.5 240.0 122.7 237.5 124.8 235.0 127.4 232.5 130.0 230.9 135.5 228.0 140.0 226.2 143.0 225.3Z" stroke="#2b41a0" stroke-width="0.78"/><path d="M161.4 88.5 164.0 88.2 165.5 88.3 168.0 88.7 170.5 89.3 172.1 90.0 173.8 91.0 175.1 92.0 176.5 93.5 180.9 100.0 181.5 101.1 181.8 102.5 181.8 104.0 181.4 106.0 179.4 112.5 179.3 115.0 179.7 117.0 181.0 118.5 182.4 119.5 195.0 125.3 197.7 127.0 199.6 129.0 200.3 130.5 199.6 131.5 197.9 133.0 195.0 135.2 192.5 136.7 187.5 139.4 184.5 140.7 179.0 142.8 173.0 144.7 169.0 145.4 165.0 145.7 162.5 145.5 159.0 144.8 155.5 143.8 153.0 142.8 146.5 139.2 143.5 137.3 141.0 135.3 138.8 133.0 137.7 131.5 137.3 130.5 137.8 129.5 139.6 127.5 141.5 125.8 146.9 122.5 148.1 121.5 148.9 120.5 149.4 119.5 149.6 118.5 149.5 117.0 149.1 116.0 148.5 115.2 147.0 114.1 143.5 112.7 140.0 111.0 135.5 109.3 132.0 107.3 129.8 105.5 128.6 104.0 128.3 103.0 128.6 102.0 129.6 100.5 131.1 99.0 132.5 98.0 134.5 97.0 144.0 93.7 150.5 90.8ZM241.4 138.0 244.0 137.9 248.0 138.4 253.0 138.5 255.0 138.8 256.5 139.4 257.5 140.1 258.3 141.0 259.0 142.5 259.4 145.0 259.5 148.5 259.3 150.0 258.3 152.0 255.9 154.5 255.7 155.0 256.0 156.0 258.2 158.5 259.4 160.5 260.1 163.5 260.2 166.5 259.6 168.5 258.1 170.5 256.0 172.0 253.5 173.1 251.0 173.7 249.0 173.7 246.0 173.3 241.0 172.3 239.0 171.5 237.5 170.6 236.5 169.5 235.7 168.0 235.5 166.5 235.4 165.0 235.6 162.0 235.9 160.5 236.9 158.5 239.3 156.0 239.8 155.0 239.3 154.0 237.1 151.5 236.0 149.5 235.4 146.5 235.5 143.5 236.1 141.5 237.5 139.6 239.0 138.7ZM156.8 223.5 160.5 223.6 167.5 224.7 173.0 225.7 179.0 227.3 182.5 228.8 188.0 231.8 191.3 234.0 193.6 236.0 195.5 238.5 196.1 240.0 196.1 241.0 195.7 242.0 195.0 243.0 188.7 249.0 187.8 250.5 187.8 252.0 188.7 255.0 188.6 256.5 188.2 258.0 186.4 261.0 185.8 262.5 185.2 268.0 183.6 273.0 183.6 274.0 183.8 275.0 184.6 276.0 186.0 277.0 191.8 279.5 195.1 280.5 200.0 281.5 206.9 283.5 213.5 285.2 216.5 286.3 220.0 288.0 221.8 289.0 222.0 289.5 220.6 290.5 219.0 291.2 210.5 294.3 200.0 297.1 195.7 298.0 191.2 299.5 185.8 302.0 184.5 303.0 184.1 303.5 183.8 304.5 183.8 305.5 184.8 309.5 185.4 313.5 185.9 315.0 188.0 319.5 188.4 321.0 188.5 323.0 188.2 326.0 187.7 329.0 187.2 330.5 185.1 334.5 184.3 336.5 183.7 339.0 183.8 341.0 185.0 345.5 186.0 347.5 187.0 348.6 191.0 351.7 192.3 353.5 192.9 355.0 193.2 356.5 193.2 358.0 191.6 362.0 191.5 364.0 192.1 366.5 193.9 370.0 194.5 371.5 194.6 373.0 194.5 375.0 193.9 376.5 193.1 377.5 191.9 378.5 190.0 379.5 182.0 381.9 175.0 383.0 173.0 383.8 171.5 384.7 171.1 385.5 171.5 388.5 171.5 391.8 172.1 393.0 174.0 395.3 174.8 396.5 175.4 398.5 175.2 400.0 174.2 402.5 172.5 404.3 170.0 405.6 166.5 406.3 160.5 406.0 158.0 405.3 156.5 404.5 155.5 403.6 154.6 402.5 153.8 401.0 153.3 399.0 153.3 398.0 153.6 397.0 154.5 395.5 157.5 392.5 158.2 391.0 158.7 386.0 158.5 385.0 158.1 384.5 156.1 383.5 142.0 379.2 139.4 378.0 137.2 376.5 135.6 375.0 132.5 371.6 129.7 369.0 128.4 367.0 128.1 365.0 128.9 361.5 129.0 360.0 128.7 359.0 128.0 358.1 125.4 355.5 124.6 354.5 124.2 353.0 124.6 351.5 126.1 350.0 129.5 348.0 131.5 347.3 136.0 346.5 138.0 346.0 140.6 345.0 142.5 344.0 144.0 343.0 145.0 342.0 145.6 341.0 146.1 339.5 146.3 338.0 146.2 336.5 145.7 335.0 143.7 331.0 142.5 325.0 142.6 322.5 143.3 317.5 143.0 307.5 143.7 302.0 143.3 301.0 142.8 300.5 141.3 299.5 137.5 298.0 130.0 295.7 126.5 294.4 120.4 291.5 118.9 290.5 117.9 289.5 118.0 289.0 119.5 287.6 123.0 285.7 141.6 279.5 144.1 278.5 145.0 278.0 146.0 277.0 146.5 275.5 146.6 272.5 147.1 269.0 147.1 268.0 146.7 267.0 146.0 266.0 144.9 265.0 138.0 260.9 136.5 259.8 135.3 258.5 134.1 256.5 133.1 252.5 132.3 251.0 130.7 249.5 126.5 246.4 125.5 245.4 124.5 244.0 123.7 242.0 123.5 240.5 123.7 239.5 124.4 238.0 126.3 235.5 128.5 233.4 133.5 230.2 136.5 228.6 141.0 226.9 143.5 226.1 152.5 223.9Z" stroke="#2d45a7" stroke-width="0.78"/><path d="M163.1 89.5 165.0 89.4 167.0 89.8 169.5 90.6 171.5 91.7 173.0 93.0 175.8 97.5 178.5 100.5 179.2 101.5 179.7 103.0 179.6 104.5 179.2 106.0 177.5 110.5 177.1 113.0 177.2 116.0 177.6 117.0 178.3 118.0 179.5 119.0 182.2 120.5 195.5 126.7 197.6 128.5 198.3 129.5 198.6 130.5 197.0 132.4 194.0 134.7 191.5 136.3 186.0 139.2 179.0 141.8 172.5 143.7 169.5 144.4 167.0 144.7 164.5 144.7 162.0 144.3 157.5 143.2 154.5 142.2 145.5 137.4 142.7 135.5 140.6 133.5 138.9 131.0 138.8 130.5 139.0 130.0 140.6 128.0 142.3 126.5 148.2 123.0 150.4 121.0 151.0 120.0 151.6 118.5 151.7 116.5 151.4 115.0 150.9 114.0 150.0 113.1 147.5 111.6 142.5 109.8 137.5 108.8 134.5 107.6 131.8 105.5 130.5 104.0 130.1 103.0 130.7 101.5 132.0 100.0 133.5 98.9 135.0 98.1 138.0 97.1 141.5 96.9 143.0 96.5 148.0 93.7 150.5 92.6 160.5 90.0ZM240.4 139.5 243.0 139.1 247.5 139.6 252.5 139.5 254.0 139.6 255.0 139.9 256.2 140.5 257.2 141.5 257.7 142.5 258.2 144.5 258.2 147.5 258.1 149.0 257.7 150.5 256.5 152.1 253.0 154.5 252.7 155.0 252.9 155.5 256.4 158.5 258.0 160.5 259.0 163.0 259.2 166.0 258.7 168.0 257.6 169.5 256.0 170.8 254.0 171.8 252.0 172.4 249.5 172.7 247.5 172.5 244.0 171.8 241.1 171.0 239.5 170.3 238.4 169.5 237.3 168.0 236.9 166.0 236.9 162.5 237.1 161.0 237.8 159.5 238.6 158.5 240.0 157.4 242.0 156.3 244.3 155.5 245.0 155.0 241.5 153.7 239.5 152.3 238.0 150.5 236.9 148.0 236.6 145.0 236.8 143.5 237.1 142.5 237.7 141.5 238.5 140.6ZM155.1 224.5 159.0 224.3 162.0 224.7 169.0 225.8 177.5 227.7 180.5 228.9 185.0 231.2 188.6 233.5 191.1 235.5 192.4 237.0 193.4 238.5 194.0 240.0 193.9 241.0 193.4 242.0 192.2 243.5 190.3 245.5 186.8 248.5 185.9 249.5 185.4 250.5 185.2 252.0 186.2 255.0 186.1 256.5 185.8 257.5 183.8 261.0 183.4 262.5 182.6 266.5 180.5 270.8 180.3 273.0 180.9 275.0 181.8 276.0 183.4 277.0 191.2 280.0 196.5 281.5 200.0 282.2 214.0 286.2 217.7 288.0 219.2 289.0 219.3 289.5 218.5 290.1 216.8 291.0 210.0 293.7 200.5 296.3 196.5 297.0 190.3 299.0 182.3 302.0 181.5 302.5 180.8 303.5 180.6 305.0 181.8 309.5 182.4 314.0 183.0 315.5 185.1 318.5 185.9 320.0 186.4 321.5 186.6 323.0 186.4 325.0 185.9 327.0 182.6 334.5 181.4 338.0 180.9 340.0 181.0 342.3 181.9 345.5 183.1 348.0 184.9 350.0 188.3 353.0 189.2 354.5 189.5 355.5 189.5 356.5 187.8 360.5 187.6 362.5 188.6 366.0 191.3 372.0 191.6 373.5 191.6 375.0 191.4 376.0 190.8 377.0 189.6 378.0 188.0 378.8 182.0 380.8 175.0 382.1 172.0 383.2 170.4 383.5 169.4 384.0 168.9 384.5 168.8 385.5 169.3 388.0 168.9 391.0 168.9 392.0 169.4 393.0 172.0 395.8 172.9 397.0 173.4 398.5 173.4 399.5 172.7 401.5 171.9 402.5 171.0 403.3 169.0 404.2 166.0 404.7 161.5 404.5 159.0 403.9 158.0 403.4 157.0 402.5 156.2 401.5 155.6 400.0 155.4 398.5 155.6 397.5 156.1 396.5 157.5 395.0 159.9 393.0 160.7 392.0 160.8 391.0 160.7 388.0 161.2 385.5 160.8 384.5 160.2 384.0 158.5 383.2 152.0 381.2 142.0 377.5 140.5 376.7 139.0 375.5 137.4 373.5 135.5 369.8 133.1 366.0 132.8 365.0 132.6 361.5 132.0 359.5 130.9 357.5 128.2 354.0 127.9 353.0 127.9 352.0 128.4 351.0 130.2 349.5 132.5 348.6 138.0 347.1 145.6 344.0 147.6 343.0 148.1 342.5 148.5 341.7 148.8 339.0 148.5 336.0 146.6 331.0 145.0 325.5 144.8 324.0 144.9 322.0 146.0 318.5 146.2 317.0 146.0 311.5 146.2 303.0 146.0 302.0 144.9 300.5 142.3 299.0 139.9 298.0 131.5 295.4 127.5 293.9 122.0 291.2 120.9 290.5 119.8 289.5 119.9 289.0 120.9 288.0 124.0 286.3 131.0 283.7 144.0 279.5 146.9 278.0 148.4 276.5 149.0 275.0 149.9 269.5 149.8 267.5 149.2 266.0 148.4 265.0 147.5 264.3 140.0 260.2 137.8 258.5 136.5 256.5 136.2 255.5 135.9 253.0 135.3 251.5 133.9 250.0 129.0 246.5 127.3 245.0 126.0 243.0 125.5 241.5 125.4 240.5 126.1 238.5 128.0 236.0 131.5 233.0 135.5 230.3 138.0 229.2 143.0 227.2 152.0 225.0Z" stroke="#2e4aad" stroke-width="0.78"/><path d="M163.4 91.0 165.0 91.0 166.5 91.4 168.5 92.3 170.0 93.3 171.4 95.0 173.5 98.6 176.1 102.0 176.7 103.0 176.8 104.0 176.7 105.0 175.4 109.5 174.8 113.5 174.7 116.0 175.3 117.5 176.4 118.5 179.0 120.0 194.5 127.4 196.4 129.0 197.0 130.5 195.8 132.0 193.0 134.3 186.0 138.2 179.0 140.8 170.5 143.1 168.0 143.5 165.5 143.6 163.5 143.4 155.5 141.3 147.0 137.2 144.0 135.2 142.0 133.4 140.9 132.0 140.4 131.0 140.3 130.5 140.5 130.0 141.7 128.5 143.0 127.2 149.3 123.5 151.1 122.0 152.5 120.5 153.4 119.0 153.8 117.5 154.1 115.0 154.0 113.3 153.5 112.3 152.5 111.4 145.1 107.5 143.5 107.3 138.5 107.8 137.5 107.6 136.0 107.1 134.5 106.2 133.5 105.4 132.3 104.0 131.9 103.0 132.2 102.0 133.4 100.5 134.5 99.7 136.0 99.0 137.5 98.5 138.5 98.4 143.0 99.2 144.4 99.0 145.5 98.4 148.4 96.0 150.3 95.0 157.0 92.7ZM241.1 141.0 243.0 140.7 247.5 141.3 252.5 140.8 254.0 141.0 255.0 141.5 256.0 142.5 256.4 143.5 256.6 144.5 256.4 148.5 256.2 149.5 255.7 150.5 255.0 151.2 254.0 151.9 253.0 152.4 251.5 152.7 243.5 152.5 242.0 152.2 241.0 151.6 239.8 150.5 238.8 149.0 238.3 147.5 238.0 145.5 238.2 144.0 239.0 142.5 240.0 141.5ZM246.8 157.0 249.5 156.7 251.0 156.8 252.0 157.1 254.2 158.5 256.5 161.0 257.7 163.5 258.0 165.0 258.0 166.0 257.7 167.0 257.2 168.0 255.6 169.5 254.0 170.4 252.0 171.1 250.5 171.3 248.5 171.3 246.0 170.8 242.0 169.7 240.6 169.0 239.6 168.0 239.0 166.5 238.8 163.5 239.0 161.5 239.5 160.3 240.5 159.1 242.0 158.2 244.0 157.6ZM154.6 225.5 159.5 225.3 166.0 226.1 169.5 226.8 178.0 228.9 183.0 231.4 187.3 234.0 189.6 236.0 190.4 237.0 191.3 238.5 191.6 239.5 191.7 240.5 190.8 242.5 188.6 245.0 183.6 249.5 182.7 251.0 182.6 252.0 183.5 255.0 183.5 256.5 180.0 264.0 177.6 267.5 177.0 269.5 176.9 271.5 177.1 273.5 177.4 274.5 178.1 275.5 180.9 277.0 192.1 281.0 197.5 282.4 200.0 282.9 212.5 286.5 215.5 288.0 216.8 289.0 216.9 289.5 214.5 290.9 210.0 292.8 202.0 295.2 200.0 295.7 197.0 296.1 192.4 297.5 180.6 301.5 179.7 302.0 178.7 303.0 178.1 304.5 178.2 306.5 179.9 314.0 181.0 316.4 183.8 320.5 184.3 322.0 184.4 323.0 184.0 325.0 182.4 328.5 178.5 339.5 178.2 342.0 178.4 345.0 178.8 346.5 179.5 348.0 183.9 352.5 185.3 354.5 185.4 356.0 183.7 360.5 183.5 363.0 183.9 364.5 184.5 366.0 187.8 371.5 188.4 373.5 188.4 375.0 188.1 376.0 187.2 377.0 185.7 378.0 183.5 379.0 181.0 379.7 176.0 380.6 172.0 382.1 169.3 382.5 165.0 383.8 162.0 383.4 159.9 382.5 155.0 381.1 151.5 379.9 143.0 375.8 141.2 374.5 140.1 373.0 139.4 371.0 138.8 368.0 138.6 364.5 138.2 363.0 137.3 361.5 135.0 359.3 133.6 357.5 132.4 355.5 131.7 353.5 131.7 352.5 132.0 351.8 132.7 351.0 133.5 350.4 143.0 346.2 149.4 344.5 151.0 343.5 151.5 342.5 151.7 341.0 151.6 339.5 150.7 334.0 149.0 328.8 147.5 325.0 147.1 323.5 147.2 322.0 148.5 318.0 148.8 316.0 148.9 311.5 149.3 304.5 149.3 303.5 148.9 302.5 148.1 301.5 146.8 300.5 143.2 298.5 139.3 297.0 133.0 295.1 129.0 293.6 124.0 291.2 121.8 289.5 121.8 289.0 123.0 288.0 126.0 286.4 130.5 284.7 143.2 280.5 146.9 279.0 150.3 277.0 151.5 275.5 152.4 272.5 152.6 270.0 152.1 267.0 151.2 265.0 150.4 264.0 149.0 263.0 143.5 260.2 140.5 258.0 139.7 257.0 139.2 256.0 138.8 253.0 138.1 251.5 136.5 250.0 131.5 246.7 129.5 245.0 127.9 243.0 127.3 241.5 127.3 240.5 127.6 239.5 128.1 238.5 129.9 236.5 133.7 233.0 136.5 231.2 141.5 228.9 144.0 228.0 152.5 225.9ZM162.7 394.5 164.5 394.1 166.0 394.2 167.5 394.8 169.2 396.0 170.5 397.5 170.9 398.5 170.7 400.0 170.0 401.0 169.0 401.8 168.0 402.2 166.5 402.6 164.5 402.9 161.1 402.5 160.0 402.1 159.1 401.5 158.3 400.5 157.9 399.5 157.8 398.5 158.2 397.5 159.0 396.5 160.0 395.7Z" stroke="#304eb3" stroke-width="0.78"/><path d="M161.9 93.5 164.0 93.1 165.0 93.1 166.5 93.7 168.0 94.7 169.4 96.0 170.5 97.5 172.9 102.0 173.4 104.0 173.3 106.5 172.7 111.0 171.1 116.0 171.2 117.0 171.4 117.5 172.8 118.5 180.5 121.8 194.0 128.5 195.0 129.5 195.4 130.5 194.7 131.5 193.0 133.0 190.5 134.7 187.0 136.7 182.5 138.7 179.0 139.8 174.1 141.0 170.0 142.2 166.5 142.5 163.5 142.2 157.5 140.6 155.0 139.8 147.5 136.3 144.5 134.2 142.8 132.5 142.1 131.5 141.7 130.5 142.3 129.5 144.0 127.8 149.6 124.5 152.9 122.0 154.5 120.5 155.9 118.5 157.2 114.5 157.2 113.5 157.0 112.5 156.0 111.0 154.5 109.8 151.0 108.2 149.5 107.2 147.8 105.5 146.2 103.5 146.0 103.0 149.1 99.5 151.7 97.5 156.5 94.9ZM136.8 100.0 138.0 99.8 140.0 100.2 142.5 101.5 144.6 103.0 144.3 103.5 143.2 104.5 141.0 105.8 138.5 106.4 137.0 106.2 135.0 105.0 134.1 104.0 133.7 103.0 134.0 102.1 134.5 101.4 135.5 100.6ZM241.2 143.5 242.5 143.0 243.5 143.1 246.5 144.1 247.5 144.3 251.5 143.1 253.0 143.3 253.5 143.6 254.0 144.5 254.0 145.7 253.5 147.9 253.0 148.8 252.0 149.5 248.5 149.7 244.5 150.6 243.0 150.4 242.0 150.0 241.0 149.0 240.1 147.0 240.1 145.0 240.5 144.2ZM247.9 158.5 250.0 158.4 252.0 159.0 253.8 160.5 255.4 162.5 256.2 164.5 256.2 166.0 255.5 167.5 254.3 168.5 253.0 169.2 251.5 169.6 250.0 169.7 248.5 169.6 246.2 169.0 244.0 168.0 243.0 167.4 242.3 166.5 241.9 165.5 241.8 163.0 241.9 162.0 242.5 161.0 243.5 160.1 244.5 159.6ZM154.9 226.5 159.5 226.2 165.5 226.9 168.5 227.5 177.0 229.7 180.0 231.1 185.5 234.3 188.0 236.5 189.2 238.5 189.5 239.5 189.6 240.5 189.2 241.5 188.3 243.0 185.9 245.5 180.7 249.5 179.3 251.0 179.2 252.0 180.5 254.7 180.7 255.5 180.6 256.5 179.5 259.0 175.6 264.5 174.7 266.5 174.3 269.0 174.3 272.0 174.6 274.0 175.3 275.5 176.7 276.5 178.0 277.0 186.5 279.7 191.5 281.5 197.0 283.0 200.0 283.6 211.0 287.0 213.3 288.0 214.6 289.0 214.6 289.5 213.0 290.5 208.0 292.6 201.0 294.7 196.0 295.6 185.5 299.2 180.5 300.6 177.7 302.0 176.3 303.5 175.8 304.5 175.6 306.0 175.7 307.5 176.0 309.5 178.1 315.5 180.8 320.5 181.2 322.5 181.0 324.0 179.8 327.5 178.3 333.5 175.6 340.0 175.3 342.0 175.1 347.5 175.4 348.5 176.0 349.5 179.6 352.5 180.5 353.5 181.1 354.5 181.4 355.5 181.4 356.5 180.7 362.0 180.8 365.0 181.7 367.5 183.9 370.5 184.8 372.0 185.1 373.0 185.1 374.5 184.4 376.0 183.5 376.8 182.1 377.5 176.5 379.0 172.0 381.0 169.5 381.2 165.0 382.3 162.0 382.1 152.5 378.9 149.0 377.0 144.4 373.5 143.3 372.0 142.7 370.5 142.5 369.0 142.5 365.0 141.5 362.2 140.5 360.3 139.5 359.0 136.0 356.4 135.4 355.5 135.1 354.5 135.3 353.0 136.0 352.0 137.8 350.5 141.0 348.5 143.0 347.6 144.5 347.1 150.0 345.8 152.2 345.5 153.5 344.6 154.1 343.5 154.5 342.0 154.5 340.0 153.5 333.5 152.9 331.5 150.5 325.5 149.9 323.0 150.1 321.0 152.0 312.5 152.6 304.5 152.4 303.0 151.7 302.0 151.0 301.5 143.8 298.0 140.1 296.5 134.0 294.6 130.5 293.3 126.0 291.1 123.8 289.5 123.9 289.0 124.4 288.5 127.0 287.0 131.0 285.4 136.9 283.5 146.4 280.0 151.9 277.5 153.4 276.5 154.2 275.5 155.0 273.0 155.0 270.5 154.1 266.0 153.1 264.0 152.2 263.0 151.0 262.1 146.0 259.5 144.0 258.0 143.2 257.0 142.6 256.0 141.9 253.0 141.1 251.5 140.0 250.5 134.0 246.8 131.6 245.0 129.8 243.0 129.4 242.0 129.2 241.0 129.6 239.5 130.8 238.0 134.1 234.5 136.9 232.5 142.5 229.8 144.5 229.0ZM162.8 398.0 164.5 397.6 165.5 397.9 166.0 398.5 165.8 399.0 165.2 399.5 164.5 399.7 163.5 399.7 162.7 399.5 162.2 399.0 162.2 398.5Z" stroke="#3153b9" stroke-width="0.78"/><path d="M159.8 96.5 164.0 96.0 165.0 96.1 166.0 96.5 167.5 97.5 168.5 98.6 169.5 100.0 170.1 101.5 170.6 104.0 170.3 108.5 169.8 110.5 167.6 115.5 167.5 117.0 168.0 118.2 169.0 119.0 170.3 119.5 175.5 120.8 179.5 122.3 185.5 125.3 191.5 128.6 192.9 129.5 193.6 130.5 192.4 132.0 188.5 134.8 186.0 136.2 183.5 137.4 179.0 138.9 173.9 140.0 169.5 141.3 167.5 141.5 164.5 141.2 155.5 138.7 148.5 135.5 146.2 134.0 144.4 132.5 143.7 131.5 143.2 130.5 144.0 129.4 145.5 128.1 149.1 126.0 157.1 120.5 159.0 118.5 160.4 116.0 160.7 114.5 160.7 113.5 160.1 112.0 159.5 111.0 158.1 109.5 156.8 108.5 152.4 106.0 151.6 105.0 151.3 104.0 151.5 103.0 152.2 102.0 155.6 98.5 157.5 97.2ZM137.3 101.5 138.5 101.4 139.7 102.0 140.6 103.0 140.5 103.5 140.0 104.1 139.0 104.6 138.0 104.8 137.0 104.5 136.0 103.7 135.7 103.0 136.3 102.0ZM248.7 161.5 249.5 161.3 250.5 161.5 251.5 162.1 252.3 163.0 253.0 164.0 253.3 165.0 253.1 166.0 252.6 166.5 251.5 167.0 250.0 167.1 249.0 166.8 247.9 166.0 247.5 165.0 247.4 163.5 247.7 162.5 248.0 162.0ZM155.7 227.5 160.0 227.3 166.0 227.9 168.5 228.5 176.5 230.8 178.9 232.0 183.9 235.0 186.0 237.0 187.2 239.0 187.4 240.0 187.2 241.0 186.4 242.5 185.1 244.0 182.5 246.2 176.5 250.0 175.5 251.0 174.9 252.0 174.9 253.5 176.3 256.0 176.4 257.0 175.8 258.5 173.1 262.5 172.3 265.0 172.1 268.0 172.3 273.0 172.5 274.5 173.1 275.5 174.3 276.5 176.8 277.5 184.5 279.7 192.4 282.5 197.9 284.0 200.0 284.4 204.5 285.8 210.0 287.7 211.5 288.4 212.2 289.0 212.2 289.5 211.5 290.0 209.0 291.2 206.5 292.2 200.0 294.2 198.0 294.4 195.5 295.0 185.5 298.4 180.0 300.0 175.8 302.0 174.4 303.0 173.6 304.0 173.3 305.0 173.2 306.5 173.5 310.1 174.5 313.2 177.2 319.5 177.6 321.0 177.7 322.5 175.8 333.0 175.0 335.0 172.9 339.0 172.2 341.0 172.0 343.0 172.1 348.0 172.3 349.0 172.8 350.0 176.6 354.5 177.7 356.5 178.2 359.0 178.0 363.5 178.1 365.5 178.6 367.5 180.2 371.5 180.4 373.0 179.8 374.0 178.8 375.0 172.0 379.6 169.5 379.9 165.0 381.0 162.0 381.0 155.0 378.4 151.5 376.5 148.8 374.0 147.1 372.0 146.0 370.0 145.6 368.0 145.4 364.5 144.6 362.0 142.9 358.5 140.3 355.0 139.7 353.5 139.9 352.5 140.5 351.5 141.4 350.5 143.0 349.3 145.0 348.5 150.0 347.2 152.5 347.3 154.5 346.8 155.5 346.3 156.5 345.5 157.4 344.0 157.5 342.0 156.8 335.0 156.0 332.0 153.8 327.0 153.4 325.0 153.0 321.0 153.4 318.0 154.9 313.5 155.4 311.5 155.5 303.0 154.8 302.0 153.0 301.0 148.0 299.2 140.8 296.0 132.5 293.2 128.0 291.0 126.0 289.5 126.1 289.0 126.6 288.5 129.5 286.9 132.5 285.7 137.5 284.1 153.2 278.0 155.1 277.0 155.8 276.5 156.6 275.5 157.2 273.5 157.3 271.0 156.4 264.5 155.8 263.0 154.0 261.5 148.5 258.6 147.0 257.5 146.0 256.0 145.0 252.5 144.0 251.0 142.7 250.0 137.5 247.4 133.8 245.0 132.7 244.0 131.8 243.0 131.4 242.0 131.2 241.0 131.5 240.0 132.2 239.0 135.4 235.5 137.4 234.0 140.5 232.2 143.5 230.6 145.5 229.9Z" stroke="#3357c0" stroke-width="0.78"/><path d="M161.7 99.5 163.5 99.4 165.0 99.8 166.0 100.5 166.9 102.0 167.1 103.5 166.5 105.7 165.5 108.7 165.0 109.4 164.5 109.7 161.9 107.0 158.7 104.5 157.9 103.5 157.9 102.5 158.7 101.0 160.0 100.0ZM163.1 119.5 164.5 119.4 167.5 120.3 175.0 121.7 178.0 122.6 180.5 123.8 186.0 126.7 190.4 129.5 191.4 130.5 190.8 131.5 189.2 133.0 186.5 134.9 184.0 136.2 179.5 137.8 173.8 139.0 169.0 140.4 167.0 140.5 165.0 140.2 156.0 137.7 150.5 135.2 148.4 134.0 145.9 132.0 144.9 130.5 146.3 129.0 153.5 124.2 161.0 120.3ZM157.4 228.5 160.5 228.4 166.5 229.0 168.5 229.5 176.0 232.2 178.5 233.5 182.3 236.0 183.7 237.5 184.6 239.5 184.7 240.5 184.4 241.5 183.7 242.5 182.4 244.0 179.9 246.0 173.5 250.0 171.9 251.5 171.4 252.5 171.2 253.5 171.5 257.5 170.2 263.0 169.9 266.5 170.2 273.5 170.5 274.5 171.1 275.5 172.3 276.5 173.3 277.0 176.0 278.0 182.5 279.8 191.6 283.0 198.0 284.9 200.0 285.2 205.0 286.9 208.7 288.5 209.5 289.0 209.6 289.5 207.5 290.7 203.5 292.3 200.0 293.3 198.0 293.5 196.1 294.0 185.0 297.9 179.4 299.5 172.6 302.5 171.9 303.0 171.1 304.0 170.9 305.0 170.7 307.5 170.9 310.5 171.8 313.5 174.4 320.0 174.7 321.5 174.7 323.0 173.2 332.5 172.6 334.0 170.2 338.5 169.5 340.5 169.4 342.0 169.6 348.0 170.1 349.5 172.7 353.0 173.0 355.0 174.3 358.0 174.7 360.0 174.9 364.5 176.3 369.5 176.4 371.0 176.1 372.5 174.9 374.5 173.8 376.0 172.0 377.8 170.5 378.1 165.0 379.9 162.0 379.8 158.0 378.2 154.3 376.0 152.3 374.0 150.1 371.0 149.1 369.0 148.7 367.0 148.8 363.5 148.2 361.0 147.0 358.5 144.5 355.0 144.0 354.0 143.8 353.0 144.3 351.5 145.0 350.7 146.1 350.0 150.0 348.6 153.0 349.0 154.5 348.8 156.0 348.5 157.5 347.8 158.8 347.0 159.7 346.0 160.2 345.0 160.5 343.0 159.8 339.0 159.6 334.5 158.7 331.5 156.5 326.5 156.1 324.5 155.9 321.5 156.0 319.5 156.2 318.0 158.2 312.0 158.3 310.5 158.2 307.0 158.8 304.0 158.9 303.0 158.1 302.0 156.0 301.0 149.0 298.9 141.5 295.5 133.5 292.7 130.3 291.0 128.3 289.5 128.4 289.0 129.0 288.5 132.0 286.9 137.5 285.0 141.5 283.2 156.4 277.5 158.0 276.5 159.1 275.0 159.7 272.0 159.4 267.0 159.7 263.5 159.5 262.0 159.0 260.8 158.5 260.3 157.5 259.7 153.5 258.4 151.0 257.0 149.6 255.5 148.2 252.5 146.5 250.5 144.3 249.0 139.0 246.6 136.5 245.0 134.2 243.0 133.7 242.0 133.5 241.0 133.6 240.5 134.2 239.5 136.9 236.5 139.4 234.5 143.0 232.2 145.0 231.4 147.0 230.7 154.5 229.0Z" stroke="#3987d7" stroke-width="0.78"/><path d="M163.3 121.5 165.0 121.4 169.0 121.6 174.5 122.6 177.5 123.4 180.5 124.8 186.0 128.0 188.6 130.0 189.1 130.5 188.9 131.0 188.3 132.0 186.6 133.5 184.5 134.8 182.5 135.7 179.0 136.9 173.5 138.0 169.0 139.3 167.0 139.4 165.0 139.2 157.0 136.9 150.0 133.4 148.1 132.0 147.2 131.0 147.0 130.5 148.5 129.0 152.5 126.1 154.5 124.9 160.0 122.4ZM156.6 230.0 160.0 229.6 163.5 229.7 166.0 229.9 168.5 230.6 175.5 233.7 178.0 235.2 179.9 236.5 180.9 237.5 181.6 238.5 182.0 239.5 182.1 240.5 181.7 241.5 180.7 243.0 179.7 244.0 177.0 246.1 170.3 250.0 169.0 251.0 168.3 252.0 168.1 253.5 168.6 256.5 168.7 258.5 167.8 265.0 167.5 270.5 167.8 273.0 168.1 274.0 168.6 275.0 170.5 276.5 173.8 278.0 182.0 280.3 192.3 284.0 198.0 285.8 200.0 286.2 205.5 288.3 206.6 289.0 206.8 289.5 205.1 290.5 201.5 291.9 200.0 292.4 198.5 292.5 196.5 293.0 184.5 297.3 178.9 299.0 171.1 302.0 169.4 303.0 168.6 304.0 168.2 306.5 168.2 309.5 168.7 311.5 171.1 319.0 171.7 322.5 171.9 325.0 171.5 327.5 170.7 331.0 169.7 333.5 167.2 339.0 166.8 340.5 166.8 342.0 167.5 348.5 168.1 349.5 170.4 352.0 170.9 353.0 170.7 354.0 169.8 356.0 169.7 357.5 171.1 365.0 171.5 366.2 172.9 369.0 173.2 371.0 172.0 375.2 170.4 376.5 168.5 377.6 165.0 378.9 162.0 378.7 161.0 378.3 158.0 376.7 156.2 375.0 153.6 370.5 152.8 368.5 152.3 364.5 151.3 358.0 151.0 357.4 150.0 356.9 148.5 355.0 147.9 354.0 147.6 353.0 147.9 352.0 148.3 351.5 150.0 350.3 152.5 351.2 154.0 351.3 155.5 351.0 158.5 349.5 160.3 348.5 161.5 347.5 162.5 346.4 163.0 345.1 163.3 343.5 163.3 342.0 162.5 338.0 162.0 334.5 158.9 326.0 158.4 322.5 158.6 318.5 160.5 312.0 161.0 307.5 162.0 304.0 161.9 303.0 161.1 302.0 159.0 301.0 149.0 298.1 142.1 295.0 135.0 292.3 132.5 291.0 130.6 289.5 130.7 289.0 131.3 288.5 133.1 287.5 137.2 286.0 142.0 283.8 150.0 280.7 158.6 277.5 160.8 276.0 161.8 274.5 162.3 273.0 162.6 271.5 162.5 264.0 161.9 260.5 161.5 259.3 160.7 258.0 159.0 256.3 155.1 253.0 150.5 250.8 144.8 247.5 140.5 245.6 139.0 244.7 137.1 243.0 136.5 242.0 136.2 241.0 136.3 240.5 136.7 239.5 138.3 237.5 141.1 235.0 143.5 233.4 146.5 232.2Z" stroke="#3eb2e8" stroke-width="1.0"/><path d="M162.2 123.0 165.0 122.6 169.0 122.6 173.5 123.3 176.5 124.1 179.5 125.4 185.0 128.7 186.6 130.0 187.0 130.5 186.9 131.0 186.3 132.0 185.2 133.0 183.5 134.0 181.5 135.0 178.0 136.1 173.0 137.1 169.0 138.3 167.0 138.4 165.0 138.1 158.5 136.3 156.0 135.3 151.9 133.0 149.9 131.5 149.3 130.5 151.2 128.5 154.5 126.1 158.5 124.2ZM159.3 231.0 164.5 230.9 166.5 231.2 168.0 231.6 175.0 235.4 177.0 236.7 178.6 238.0 179.3 239.0 179.6 240.0 179.7 240.5 179.3 241.5 178.7 242.5 177.2 244.0 174.0 246.2 167.3 249.5 164.5 251.2 163.0 251.6 162.0 251.6 153.5 249.7 151.0 248.9 141.3 244.0 140.0 243.0 139.2 242.0 138.8 240.5 139.4 239.0 141.5 236.5 144.0 234.5 147.0 233.4ZM164.7 256.0 165.0 255.6 165.5 257.0 166.0 259.5 165.8 261.5 165.0 264.8 164.3 259.0 164.4 257.0ZM165.0 273.5 166.0 274.8 168.7 276.5 170.8 277.5 174.9 279.0 181.5 280.8 197.5 286.7 200.0 287.3 203.6 289.0 203.7 289.5 201.9 290.5 200.0 291.3 198.5 291.5 197.0 291.9 191.0 294.2 184.0 296.7 179.7 298.0 175.0 299.9 170.0 301.5 165.8 303.5 165.4 304.5 165.8 309.0 168.1 317.0 169.3 323.5 169.4 325.5 168.8 328.0 166.0 334.2 165.0 336.9 163.9 333.5 161.4 327.0 160.8 324.5 160.7 322.5 160.7 320.0 161.1 317.5 164.2 307.0 164.6 304.5 164.4 303.0 163.5 302.0 161.6 301.0 158.6 300.0 150.5 297.9 148.5 297.2 142.8 294.5 135.7 291.5 134.0 290.5 132.9 289.5 133.0 289.0 134.0 288.3 142.5 284.4 151.5 280.8 158.3 278.5 160.8 277.5 162.5 276.5 163.8 275.5 164.5 274.5ZM164.6 348.5 165.0 348.2 165.6 349.0 168.5 351.5 169.3 352.5 169.5 353.0 169.1 354.0 167.1 356.5 166.9 357.5 167.9 363.0 168.4 369.0 168.4 371.5 169.6 374.0 169.8 375.0 169.1 376.0 167.7 377.0 166.0 377.7 164.5 378.1 162.0 377.7 161.0 377.3 159.1 376.0 158.3 375.0 158.4 373.0 158.2 372.0 157.1 369.5 154.7 363.0 154.3 360.5 154.7 358.5 156.4 355.0 157.0 353.0 157.3 352.5 158.5 351.4 161.0 349.8 162.0 349.3Z" stroke="#3eb2e8" stroke-width="1.0"/><path d="M162.9 124.0 165.5 123.7 169.0 123.6 173.5 124.3 176.0 125.0 179.0 126.3 183.1 129.0 184.9 130.5 184.8 131.0 184.0 132.0 183.0 132.8 179.5 134.5 177.0 135.3 172.5 136.1 169.0 137.2 167.5 137.3 165.5 137.2 160.0 135.7 157.5 134.8 154.5 133.1 152.2 131.5 151.5 130.5 152.1 129.5 153.0 128.6 155.5 126.9 160.0 124.8ZM159.6 232.5 164.5 232.2 166.0 232.4 167.5 232.8 169.0 233.6 171.2 235.0 174.7 237.5 176.4 239.0 177.1 240.5 176.5 242.0 175.7 243.0 174.5 244.0 171.5 245.7 165.0 248.3 163.0 248.9 160.5 249.1 157.0 248.8 153.5 248.0 150.5 246.8 143.5 242.9 142.3 242.0 141.5 241.0 141.4 240.0 142.4 238.0 143.6 236.5 145.0 235.6 147.5 234.8ZM164.8 276.5 166.5 276.4 172.9 279.0 182.0 281.7 194.5 286.6 198.5 288.4 200.0 288.8 200.4 289.0 200.5 289.5 200.0 289.8 198.0 290.3 192.0 293.0 184.5 295.7 179.1 297.5 174.5 299.3 166.5 301.9 165.0 301.6 161.1 300.0 149.5 296.8 137.2 291.0 135.3 289.5 135.5 289.0 143.5 284.8 152.0 281.3 160.4 278.5ZM165.0 314.0 165.7 316.5 167.0 324.5 166.9 326.0 166.6 327.0 165.0 329.9 164.5 329.9 163.5 327.5 163.0 325.5 162.8 323.5 163.1 320.0 163.5 317.0 164.5 314.1ZM162.6 350.5 164.0 350.2 165.0 350.2 167.0 351.5 168.0 352.5 168.2 353.0 167.6 354.0 164.4 357.0 164.4 358.0 165.0 359.6 165.3 361.0 165.4 363.0 165.0 365.6 164.4 367.0 163.5 370.5 163.6 371.0 165.0 371.5 167.0 373.1 167.9 374.0 168.3 375.0 168.0 375.5 167.0 376.3 165.5 377.0 164.5 377.2 162.0 376.7 160.8 376.0 160.0 375.0 160.3 374.0 161.3 372.5 161.4 372.0 161.4 371.0 160.1 367.0 157.5 362.6 157.1 361.0 157.5 359.3 159.2 357.0 159.7 356.0 159.7 355.0 159.1 353.0 159.5 352.4 160.5 351.5 162.0 350.6Z" stroke="#3eb2e8" stroke-width="1.0"/><path d="M163.5 125.0 166.0 124.7 169.0 124.6 175.0 125.8 177.0 126.5 178.5 127.3 181.4 129.5 182.5 130.5 181.9 131.5 180.6 132.5 178.5 133.6 176.5 134.3 168.0 136.1 165.5 136.1 162.5 135.4 159.5 134.4 157.0 133.2 154.5 131.5 153.6 130.5 153.9 130.0 154.8 129.0 157.0 127.5 160.5 125.9ZM160.6 234.0 165.0 233.9 167.4 234.5 169.6 236.0 173.1 239.5 173.7 240.5 173.7 241.0 173.2 242.0 171.4 243.5 168.5 244.9 161.5 247.3 159.5 247.5 157.0 247.2 154.0 246.5 151.5 245.4 146.2 242.0 144.6 240.5 144.4 239.5 144.7 238.5 145.5 237.6 146.5 237.0 153.5 235.2ZM164.9 277.5 166.5 277.2 172.5 279.5 181.5 282.3 187.5 284.7 193.8 287.5 196.2 289.0 196.2 289.5 194.8 290.5 192.0 291.9 184.0 295.1 178.5 297.0 174.0 298.8 166.5 301.1 161.7 299.5 150.0 296.2 140.0 291.4 138.1 290.0 137.7 289.5 137.9 289.0 142.5 286.1 150.5 282.6 154.0 281.3 161.1 279.0ZM163.2 351.5 164.5 351.3 165.5 351.7 166.4 352.5 166.7 353.0 166.4 353.5 165.5 354.3 164.5 354.8 163.5 354.8 162.0 354.5 161.1 353.5 161.0 353.0 161.9 352.0ZM163.9 373.5 164.5 373.4 165.5 373.7 166.4 374.5 166.6 375.0 166.0 375.7 164.5 376.2 163.5 376.1 162.5 375.6 161.8 375.0 162.0 374.5 162.6 374.0Z" stroke="#3eb2e8" stroke-width="1.0"/><path d="M164.4 126.0 166.5 125.7 169.0 125.7 174.5 126.8 176.0 127.3 177.5 128.2 179.1 129.5 180.0 130.5 179.0 131.7 177.0 132.8 169.0 134.8 166.0 134.9 163.0 134.3 160.5 133.5 158.5 132.5 156.9 131.5 156.0 130.5 156.7 129.5 159.1 128.0 162.0 126.7ZM158.6 236.0 163.0 235.7 164.5 235.8 166.0 236.2 167.2 237.0 168.5 238.5 169.2 240.0 169.1 241.0 168.4 242.0 166.9 243.0 162.5 245.1 160.5 245.7 159.0 245.8 157.5 245.6 153.5 244.3 151.4 243.0 149.7 241.5 149.0 240.5 149.1 239.5 150.1 238.5 153.0 237.1 155.0 236.6ZM165.9 278.0 166.5 277.9 172.1 280.0 179.5 282.3 182.0 283.2 187.0 285.4 190.3 287.0 192.9 288.5 193.5 289.0 193.6 289.5 191.0 291.2 184.0 294.3 179.0 296.0 173.5 298.3 166.5 300.4 150.0 295.4 144.5 292.8 141.4 291.0 139.8 289.5 139.9 289.0 141.5 287.8 143.5 286.6 152.0 282.7Z" stroke="#3eb2e8" stroke-width="1.35"/><path d="M165.8 127.0 169.0 126.8 173.0 127.7 176.0 128.9 177.0 129.7 177.5 130.5 176.5 131.5 175.4 132.0 169.0 133.6 166.5 133.7 164.0 133.2 160.8 132.0 159.2 131.0 158.8 130.5 159.8 129.5 162.0 128.2 164.0 127.4ZM159.0 238.0 161.5 237.8 163.5 238.2 164.7 239.0 165.0 239.5 165.1 240.5 164.5 241.3 163.6 242.0 160.5 243.5 159.0 243.6 157.1 243.0 154.4 241.5 153.7 240.5 153.8 240.0 154.3 239.5 155.5 238.9ZM164.8 279.0 166.5 278.5 173.1 281.0 180.0 283.2 188.0 286.9 190.4 288.5 191.0 289.0 191.1 289.5 188.9 291.0 183.0 293.8 173.0 297.7 166.5 299.7 151.0 295.0 146.5 292.8 143.5 291.1 142.1 290.0 141.7 289.5 141.8 289.0 143.0 288.0 144.7 287.0 152.5 283.3 155.5 282.2 160.9 280.5Z" stroke="#3eb2e8" stroke-width="1.35"/><path d="M165.6 128.5 168.0 128.1 170.0 128.3 173.3 129.5 174.1 130.0 174.4 130.5 172.5 131.4 169.0 132.4 167.5 132.4 166.0 132.2 163.8 131.5 162.4 130.5 163.5 129.5ZM165.4 279.5 166.5 279.2 180.0 284.1 186.9 287.5 188.7 289.0 188.7 289.5 186.7 291.0 182.5 293.1 172.5 297.1 166.5 299.0 155.5 295.7 151.5 294.3 145.3 291.0 143.6 289.5 143.7 289.0 146.0 287.4 153.0 283.9 156.0 282.7 161.5 281.0Z" stroke="#46b6e9" stroke-width="1.35"/><path d="M167.2 130.5 168.5 130.0 169.0 130.1 169.5 130.5 168.5 130.7ZM165.9 280.0 166.5 279.8 179.5 284.8 185.4 288.0 186.5 289.0 186.6 289.5 184.6 291.0 181.5 292.6 172.5 296.4 166.5 298.4 156.5 295.3 152.5 293.8 146.6 290.5 145.6 289.5 145.7 289.0 147.8 287.5 154.0 284.3 161.0 281.9Z" stroke="#4ebaea" stroke-width="1.35"/><path d="M165.1 281.0 166.5 280.5 178.0 285.0 180.5 286.3 183.2 288.0 184.4 289.0 184.4 289.5 182.5 291.0 180.0 292.3 172.0 295.8 166.5 297.7 157.5 294.9 154.5 293.7 152.0 292.5 148.8 290.5 147.7 289.5 147.8 289.0 150.7 287.0 154.5 285.0 157.0 283.9 161.4 282.5Z" stroke="#57beec" stroke-width="1.35"/><path d="M165.7 281.5 166.5 281.2 177.5 285.8 179.5 286.8 181.2 288.0 182.2 289.0 182.3 289.5 180.4 291.0 177.0 292.7 171.5 295.2 166.5 297.1 158.0 294.2 155.0 293.0 153.2 292.0 151.0 290.5 149.9 289.5 150.0 289.0 152.5 287.1 155.5 285.4Z" stroke="#5fc2ed" stroke-width="1.35"/><path d="M166.3 282.0 167.5 282.3 175.5 285.8 178.0 287.1 179.8 288.5 180.2 289.0 180.3 289.5 179.8 290.0 176.0 292.3 171.0 294.6 166.5 296.4 156.5 292.8 153.6 291.0 152.0 289.5 152.1 289.0 153.1 288.0 156.0 286.2Z" stroke="#67c6ee" stroke-width="1.35"/><path d="M165.8 283.0 166.5 282.7 174.8 286.5 177.9 288.5 178.3 289.0 178.3 289.5 177.0 290.6 174.0 292.4 170.0 294.3 166.5 295.7 157.1 292.0 155.0 290.7 153.9 289.5 154.0 289.0 154.4 288.5 156.0 287.3 158.0 286.3Z" stroke="#70caf0" stroke-width="1.35"/><path d="M165.5 284.0 166.5 283.6 173.0 286.7 175.9 288.5 176.3 289.0 176.4 289.5 175.3 290.5 173.5 291.6 166.5 294.9 158.5 291.6 156.2 290.0 155.8 289.5 155.9 289.0 157.0 288.0 158.5 287.1Z" stroke="#78cef1" stroke-width="1.35"/><path d="M166.4 284.5 172.3 287.5 174.3 289.0 174.4 289.5 173.9 290.0 172.0 291.3 166.5 294.1 160.0 291.2 158.9 290.5 157.8 289.5 157.9 289.0 159.5 287.9Z" stroke="#80d2f2" stroke-width="1.35"/></g></g><g clip-path="url(#cb)"><g fill="none" stroke-width="0.85" stroke-linejoin="round"><path d="M614.8 72.5 621.5 72.3 629.5 72.7 633.5 73.2 637.5 74.1 639.5 74.7 641.5 75.6 643.6 77.0 646.0 79.3 650.5 81.5 650.4 82.0 646.5 83.7 643.5 86.2 641.0 87.6 637.5 88.9 633.0 89.8 625.5 90.7 616.5 90.9 607.0 90.2 600.5 89.1 598.0 88.3 596.4 87.5 595.1 86.5 592.9 84.0 591.5 83.1 589.1 82.0 588.9 81.5 592.0 79.6 594.0 77.5 595.3 76.5 599.0 74.8 602.0 73.9 605.5 73.3 610.0 72.8ZM546.8 80.0 551.0 79.8 557.0 80.0 564.0 80.6 567.5 81.2 570.5 82.1 573.0 83.3 576.5 86.3 579.4 88.0 579.7 88.5 579.4 89.0 576.1 91.0 574.2 93.0 572.5 94.2 569.5 95.4 565.5 96.2 557.5 97.1 551.5 97.3 543.0 96.8 537.5 95.9 534.0 94.7 532.0 93.8 530.9 93.0 528.5 90.7 525.2 89.0 525.1 88.5 528.5 86.5 531.5 83.7 534.0 82.4 536.5 81.6 540.5 80.7ZM463.9 105.5 470.0 105.5 477.0 106.1 480.0 106.7 482.0 107.4 483.2 108.0 483.5 108.5 483.3 109.0 483.0 109.2 481.5 110.0 478.5 110.9 475.5 111.4 467.5 111.8 458.0 111.3 454.0 110.4 451.4 109.5 450.7 109.0 450.5 108.5 450.8 108.0 452.9 107.0 456.0 106.2 459.5 105.7ZM637.5 176.0 641.0 175.6 646.5 175.6 654.5 176.7 657.5 177.3 662.0 178.7 666.0 180.9 667.6 182.5 667.8 183.0 667.5 184.0 666.5 185.2 665.0 186.5 660.5 189.2 655.5 191.3 648.5 193.4 643.0 194.2 640.0 194.4 633.0 194.1 624.0 192.5 622.0 192.7 619.9 193.5 619.2 194.0 619.0 194.5 619.3 195.0 622.5 198.0 625.7 202.0 623.9 204.5 621.5 207.1 619.0 209.1 617.0 210.0 616.0 209.7 615.0 209.2 613.0 207.6 610.4 205.0 608.2 202.0 612.1 197.0 612.2 196.5 612.0 196.3 610.5 196.3 604.5 197.3 600.0 197.5 596.5 197.3 590.0 196.4 583.5 194.9 580.0 193.7 576.8 192.0 575.7 191.0 575.2 190.0 575.9 188.5 577.5 187.0 580.5 184.7 584.0 182.6 587.0 181.2 592.0 179.3 599.0 177.2 603.0 176.5 608.5 176.4 613.5 176.8 623.1 178.5 625.5 178.7 627.0 178.5ZM468.2 178.0 470.5 178.1 473.0 178.7 475.5 179.7 477.5 180.8 479.0 182.0 480.3 183.5 481.1 185.0 481.4 186.5 481.1 188.0 480.3 189.5 479.0 191.0 477.5 192.3 476.0 193.2 473.5 194.2 471.0 194.9 468.5 195.2 466.0 194.9 464.0 194.4 461.5 193.4 459.5 192.4 457.8 191.0 456.5 189.5 455.7 188.0 455.5 186.5 455.9 185.0 456.8 183.5 458.2 182.0 460.0 180.6 461.5 179.7 464.0 178.8 466.0 178.3ZM553.3 182.5 554.0 182.3 561.1 186.5 560.7 187.0 557.6 189.0 554.0 190.8 553.5 190.7 550.0 188.1 548.3 186.5ZM545.1 196.0 548.5 195.8 553.5 196.1 561.0 197.2 566.0 198.6 568.5 199.6 570.2 200.5 571.4 201.5 571.9 202.5 571.9 203.0 571.4 204.0 570.5 205.0 568.6 206.5 564.5 208.7 557.5 211.2 551.0 213.2 546.5 213.9 543.0 214.0 535.0 213.6 531.5 213.1 527.0 212.2 523.0 211.2 520.5 210.3 518.5 209.0 517.7 208.0 517.6 207.5 517.8 206.5 518.5 205.5 519.5 204.5 522.0 202.9 526.5 200.7 530.5 199.1 535.5 197.6 539.5 196.8ZM616.0 213.5 618.0 213.3 619.5 213.7 623.5 215.3 626.5 216.8 629.0 218.6 631.0 220.5 632.6 222.5 633.3 224.0 632.5 225.5 630.9 227.5 629.5 228.9 627.5 230.4 623.5 232.8 621.0 233.8 619.0 234.2 617.5 234.3 615.0 233.8 612.0 232.7 609.5 231.4 607.0 229.6 604.6 227.5 603.0 225.5 602.3 224.0 603.1 222.5 604.3 221.0 608.0 217.7 610.0 216.3 612.5 214.8ZM551.2 224.0 551.5 223.7 552.0 224.2 553.6 226.5 555.0 228.0 551.5 230.6 549.9 229.5 546.5 228.0 548.5 226.5ZM394.5 225.8 402.5 223.8 410.5 222.3 420.5 220.7 430.4 219.5 439.5 217.6 461.5 214.8 464.5 214.6 481.0 216.1 491.0 217.3 496.5 218.2 509.0 221.8 515.0 224.5 515.7 225.0 516.0 225.5 514.9 226.5 513.1 227.5 510.5 228.8 507.5 229.9 493.0 233.3 489.0 234.1 466.0 236.6 453.0 235.7 449.5 235.7 444.7 236.5 439.6 238.0 438.6 238.5 438.6 239.0 439.5 239.3 450.0 241.9 454.0 243.1 456.0 244.0 458.1 245.5 459.6 247.0 460.4 248.5 460.6 249.5 460.3 250.5 459.0 252.0 456.8 253.5 454.7 254.5 448.0 256.7 443.0 257.9 439.5 258.5 433.0 259.0 427.5 258.6 424.5 258.1 417.5 256.3 411.5 254.5 409.5 253.5 407.4 252.0 406.5 250.9 406.1 249.5 406.3 248.5 407.3 247.0 412.2 243.0 412.4 242.5 412.0 242.0 409.7 241.5 406.5 241.1 394.5 240.3M617.9 262.0 619.5 262.1 621.5 262.7 624.5 264.1 626.0 265.2 627.4 266.5 628.5 268.0 628.8 269.0 628.5 270.0 627.9 271.0 625.5 273.2 623.5 274.4 621.5 275.2 619.5 275.8 618.0 276.0 616.5 275.8 614.5 275.3 611.0 273.8 609.5 272.8 608.1 271.5 607.1 270.0 606.8 269.0 607.2 268.0 607.8 267.0 609.0 265.8 610.5 264.6 612.0 263.8 614.5 262.7ZM551.9 270.5 554.0 270.0 555.5 270.2 557.5 270.9 560.0 272.2 561.5 273.5 562.7 275.0 563.0 276.0 562.4 277.5 561.1 279.0 559.5 280.1 557.0 281.3 555.0 281.9 554.0 282.0 552.0 281.7 550.5 281.2 548.5 280.2 546.9 279.0 545.6 277.5 545.1 276.5 545.1 275.5 546.1 274.0 547.5 272.7 550.0 271.2ZM552.5 332.5 553.0 332.1 554.6 333.5 553.0 335.6 551.0 333.5ZM621.0 368.5 622.0 368.4 624.5 368.8 634.0 370.7 642.5 373.2 649.5 375.6 656.5 378.8 659.0 380.1 662.0 382.5 662.8 383.5 663.3 384.5 662.8 385.5 661.9 386.5 658.0 389.2 654.5 391.1 647.0 394.3 643.0 395.8 638.0 397.2 625.0 400.1 621.5 400.4 614.5 399.3 609.5 398.3 603.5 396.7 592.5 392.6 590.0 392.3 588.5 392.5 586.8 393.0 579.5 396.2 568.5 399.7 559.5 401.8 557.0 402.2 555.5 402.2 545.0 400.1 538.5 398.2 530.0 395.3 526.5 393.8 521.0 390.9 518.1 389.0 517.0 388.0 516.7 387.5 516.9 387.0 517.7 386.0 519.5 384.6 522.5 382.9 526.5 381.1 536.5 377.4 544.5 375.2 551.5 373.7 556.0 373.2 564.0 374.2 568.5 375.2 576.0 377.2 582.6 379.5 585.0 379.8 587.0 379.2 590.5 377.3 593.0 376.3 601.5 373.2 608.5 371.2 616.0 369.3ZM452.5 381.5 460.5 381.2 467.5 381.1 478.5 381.4 486.5 381.8 497.0 382.9 499.7 383.5 500.8 384.0 501.2 384.5 501.0 385.0 500.3 385.5 497.0 386.4 488.0 387.3 481.5 387.7 467.0 388.2 448.0 387.4 440.0 386.8 435.5 386.0 433.7 385.5 432.8 385.0 432.5 384.5 432.7 384.0 433.6 383.5 435.0 383.1 438.5 382.5 446.0 381.8Z" stroke="#7c7c7c"/><path d="M611.3 73.0 618.5 72.6 624.5 72.7 631.5 73.2 636.5 74.2 639.5 75.2 641.9 76.5 644.8 79.5 646.7 81.0 647.1 81.5 647.0 82.0 644.5 84.0 642.4 86.0 639.5 87.7 636.5 88.8 630.5 89.9 625.0 90.5 616.5 90.6 607.0 89.9 601.5 88.9 598.5 87.9 596.3 86.5 594.0 83.7 592.1 82.0 592.0 81.5 592.1 81.0 595.5 77.3 597.0 76.2 599.0 75.3 601.5 74.4 604.0 73.9ZM543.9 80.5 549.5 80.1 556.0 80.2 562.5 80.7 566.5 81.3 569.5 82.3 572.5 83.9 576.6 87.5 577.1 88.0 577.3 88.5 577.1 89.0 575.0 90.9 573.7 92.5 572.0 93.8 569.5 94.9 566.0 95.8 558.0 96.8 552.5 97.0 544.0 96.6 538.5 95.8 535.0 94.6 532.5 93.3 531.4 92.5 528.5 89.5 528.1 89.0 528.0 88.5 528.2 88.0 531.5 84.5 533.5 83.2 535.5 82.3 537.5 81.7 541.5 80.8ZM460.3 106.0 468.0 105.7 475.0 106.1 479.5 107.1 481.5 108.0 481.8 108.5 481.6 109.0 479.9 110.0 477.5 110.7 475.0 111.1 467.5 111.5 459.5 111.1 457.0 110.7 454.3 110.0 453.0 109.4 452.4 109.0 452.2 108.5 452.5 108.0 453.0 107.7 454.7 107.0 457.5 106.3ZM640.4 176.0 644.5 175.9 648.0 176.1 655.5 177.2 659.5 178.3 663.0 179.8 666.0 181.9 666.8 183.0 666.8 183.5 666.2 184.5 664.7 186.0 663.0 187.3 658.5 189.7 653.0 191.7 647.5 193.2 641.5 194.0 636.5 194.0 632.5 193.6 623.5 192.1 621.0 192.5 618.6 193.5 617.8 194.0 617.5 194.5 617.9 195.0 620.0 196.4 621.5 197.8 623.5 200.0 625.0 202.0 623.2 204.5 621.0 206.8 619.0 208.3 617.0 209.2 615.5 208.7 613.0 206.8 610.5 204.3 608.8 202.0 610.8 199.5 614.1 196.0 614.3 195.5 613.5 195.4 612.0 195.5 605.0 196.8 601.0 197.1 598.0 197.0 591.5 196.2 585.0 194.8 581.5 193.6 578.0 191.9 576.9 191.0 576.3 190.0 576.4 189.5 577.0 188.5 578.5 187.0 581.0 185.1 584.0 183.2 587.0 181.8 592.0 179.8 596.5 178.3 600.0 177.3 604.0 176.8 609.5 176.9 614.5 177.4 623.5 179.0 625.5 179.1 627.5 178.8 636.0 176.7ZM466.5 178.5 469.5 178.3 472.5 178.8 476.0 180.3 477.5 181.2 479.0 182.5 480.5 184.5 480.9 185.5 481.0 186.5 480.4 188.5 479.0 190.5 477.0 192.2 475.0 193.3 472.0 194.3 468.5 194.9 466.0 194.6 463.0 193.7 460.0 192.3 458.0 190.7 456.7 189.0 456.1 187.5 456.0 186.0 457.0 184.0 458.7 182.0 461.0 180.4 463.5 179.3ZM553.2 184.5 554.0 184.1 558.0 186.5 557.7 187.0 556.0 188.1 554.0 189.1 553.5 188.9 551.1 187.0 550.7 186.5ZM543.5 196.5 547.0 196.2 551.5 196.3 555.0 196.7 562.0 197.9 566.0 199.2 568.9 200.5 570.5 201.9 570.8 202.5 570.8 203.0 570.4 204.0 568.9 205.5 565.5 207.7 559.0 210.3 551.0 212.9 546.0 213.6 541.5 213.7 535.0 213.3 528.5 212.2 523.0 210.7 520.0 209.3 519.1 208.5 518.6 207.5 518.7 206.5 519.4 205.5 521.0 204.1 523.5 202.6 526.5 201.1 530.0 199.7 536.5 197.7ZM615.9 214.0 618.0 213.8 619.5 214.1 622.5 215.3 625.5 216.7 628.0 218.4 630.0 220.1 631.7 222.0 632.8 224.0 632.3 225.0 630.8 227.0 629.5 228.3 627.5 229.9 623.5 232.3 621.0 233.3 619.0 233.8 617.5 233.8 615.0 233.3 612.0 232.2 609.5 230.9 607.0 229.1 605.2 227.5 603.6 225.5 602.8 224.0 603.3 223.0 604.5 221.5 608.5 217.9 612.5 215.3ZM394.5 226.4 402.5 224.3 411.0 222.7 421.0 221.2 430.8 220.0 440.5 218.0 454.0 216.1 462.0 215.2 464.5 215.1 466.5 215.1 474.1 216.0 481.0 216.6 491.0 217.8 496.0 218.6 500.0 219.7 508.0 222.3 511.5 224.0 512.9 225.0 513.1 225.5 512.4 226.5 511.0 227.5 507.0 229.3 492.5 232.9 488.5 233.7 466.0 236.2 452.5 235.1 449.0 235.1 444.0 236.0 437.0 238.0 435.9 238.5 435.5 239.0 436.1 239.5 448.0 242.3 452.0 243.6 454.3 244.5 455.7 245.5 456.7 246.5 457.6 248.0 457.8 249.0 457.4 250.5 456.6 251.5 454.7 253.0 452.8 254.0 449.5 255.3 446.5 256.2 442.0 257.3 438.5 257.8 433.0 258.3 426.5 257.7 416.0 254.9 413.0 253.7 410.8 252.5 409.6 251.5 408.8 250.5 408.5 249.5 408.7 248.5 409.7 247.0 412.0 245.0 413.5 244.0 416.1 242.5 416.7 242.0 416.0 241.5 394.5 239.6M551.2 227.0 551.5 226.7 552.7 228.0 551.5 228.7 550.1 228.0ZM616.7 262.5 618.5 262.3 620.5 262.7 623.0 263.7 625.5 265.3 627.2 267.0 628.2 268.5 628.2 269.5 627.3 271.0 626.0 272.3 624.0 273.7 621.5 274.8 618.5 275.6 616.5 275.5 614.0 274.8 611.5 273.7 610.0 272.7 608.7 271.5 607.7 270.0 607.4 269.0 608.0 267.5 609.5 265.9 611.5 264.4 614.0 263.3ZM553.0 270.5 554.5 270.4 556.5 270.8 558.5 271.7 560.5 273.0 561.9 274.5 562.6 276.0 562.3 277.0 561.6 278.0 560.0 279.4 558.5 280.3 556.0 281.4 554.0 281.8 552.0 281.4 550.5 280.9 549.0 280.1 547.4 279.0 546.1 277.5 545.6 276.5 545.5 276.0 545.8 275.0 547.1 273.5 549.0 272.1 551.0 271.1ZM621.1 369.0 622.0 368.9 624.5 369.3 634.0 371.2 648.0 375.7 651.5 377.2 658.0 380.5 660.6 382.5 661.5 383.5 661.9 384.5 661.4 385.5 660.4 386.5 656.5 389.3 654.0 390.6 646.5 393.9 643.0 395.1 637.5 396.8 624.5 399.7 622.0 399.9 620.5 399.8 614.0 398.7 607.5 397.3 602.5 395.8 592.7 392.0 590.0 391.6 587.0 392.2 579.5 395.6 568.5 399.3 559.5 401.4 557.0 401.8 555.5 401.8 545.0 399.7 540.0 398.2 531.5 395.3 528.0 393.8 522.5 390.9 519.7 389.0 518.3 387.5 518.5 387.0 519.3 386.0 522.5 383.8 526.5 381.8 534.0 378.8 544.5 375.7 551.5 374.2 556.0 373.6 564.5 374.8 568.5 375.7 576.0 377.8 583.0 380.3 584.5 380.6 585.5 380.6 587.4 380.0 592.5 377.1 601.5 373.7 608.5 371.7 616.0 369.8ZM459.2 381.5 467.0 381.4 477.5 381.6 487.5 382.2 496.0 383.2 498.5 384.0 499.0 384.5 498.8 385.0 498.0 385.5 495.5 386.1 487.0 387.0 479.0 387.6 466.5 387.9 448.5 387.1 441.0 386.5 438.1 386.0 435.1 385.0 434.7 384.5 435.0 384.0 437.0 383.3 441.0 382.6 447.5 382.1Z" stroke="#7c7c7c"/><path d="M616.6 73.0 622.0 72.9 629.0 73.3 633.0 73.8 637.0 74.8 639.5 75.8 641.3 77.0 644.6 81.0 644.8 81.5 644.7 82.0 641.6 85.5 640.3 86.5 638.6 87.5 635.0 88.7 629.0 89.8 623.5 90.3 615.0 90.3 606.0 89.4 601.0 88.2 599.0 87.4 597.5 86.4 596.6 85.5 594.1 82.0 594.0 81.5 594.3 80.5 595.6 78.5 596.5 77.5 597.9 76.5 599.5 75.7 601.5 74.9 603.5 74.4 610.5 73.4ZM547.2 80.5 551.0 80.3 558.0 80.6 564.0 81.2 567.0 81.9 569.8 83.0 572.1 84.5 574.9 87.5 575.3 88.5 575.2 89.0 573.0 92.0 571.4 93.5 568.5 94.8 564.5 95.7 557.0 96.6 551.5 96.8 543.0 96.3 538.0 95.2 534.9 94.0 532.6 92.5 529.9 89.0 529.8 88.5 530.2 87.5 531.7 85.5 532.6 84.5 534.1 83.5 535.5 82.8 541.0 81.2ZM459.1 106.5 466.5 106.0 473.0 106.3 476.0 106.7 478.0 107.2 479.8 108.0 480.1 108.5 480.0 109.0 479.4 109.5 478.3 110.0 474.5 110.8 468.0 111.2 460.5 110.9 458.5 110.6 456.2 110.0 454.5 109.2 454.2 109.0 454.0 108.5 454.3 108.0 455.1 107.5 457.0 106.9ZM639.3 176.5 643.0 176.2 646.5 176.3 656.5 177.9 659.5 178.8 662.0 179.9 664.5 181.5 665.8 183.0 665.6 184.0 664.4 185.5 662.5 187.0 660.5 188.2 656.0 190.3 648.5 192.6 642.0 193.6 638.0 193.7 632.5 193.2 625.0 191.8 623.0 191.6 620.9 192.0 615.0 194.3 608.5 195.7 604.5 196.5 599.0 196.7 590.5 195.6 583.5 193.8 579.6 192.0 578.3 191.0 577.6 190.0 577.8 189.0 579.6 187.0 582.0 185.1 585.0 183.3 588.5 181.7 593.5 179.7 600.0 177.8 604.0 177.2 609.5 177.3 614.0 177.8 623.4 179.5 625.0 179.6 627.0 179.4 635.5 177.2ZM465.7 179.0 468.5 178.6 471.5 178.9 475.0 180.2 477.5 181.7 479.3 183.5 480.4 185.5 480.5 186.5 480.4 187.5 479.3 189.5 477.5 191.4 475.5 192.7 472.5 193.9 469.5 194.5 467.0 194.5 464.5 193.9 461.5 192.7 459.5 191.5 457.9 190.0 456.7 188.0 456.4 186.5 456.9 185.0 458.3 183.0 460.5 181.1 463.0 179.8ZM553.8 186.0 555.1 186.5 554.0 187.3 553.5 187.1 553.0 186.5ZM615.8 196.0 617.0 195.7 618.5 196.2 619.5 196.9 622.0 199.1 624.4 202.0 622.9 204.0 620.5 206.4 618.5 207.8 617.0 208.4 615.5 207.9 613.5 206.4 611.0 204.0 609.5 202.0 611.0 200.0 613.0 197.9 614.5 196.7ZM542.4 197.0 546.0 196.5 551.0 196.6 554.0 196.9 561.5 198.2 564.5 199.1 567.5 200.5 568.5 201.2 569.4 202.0 569.7 203.0 569.3 204.0 567.9 205.5 564.5 207.7 558.0 210.3 550.5 212.6 546.0 213.3 542.0 213.4 536.5 213.1 530.5 212.2 524.5 210.6 522.5 209.9 521.0 209.1 520.2 208.5 519.6 207.5 519.7 206.5 520.4 205.5 522.0 204.1 524.0 202.9 529.5 200.3 536.0 198.2ZM615.7 214.5 618.0 214.2 620.0 214.7 624.5 216.7 627.0 218.2 629.8 220.5 631.8 223.0 632.2 224.0 631.4 225.5 629.2 228.0 626.0 230.4 622.5 232.3 619.5 233.2 617.5 233.4 614.5 232.7 611.0 231.2 608.5 229.7 606.4 228.0 604.5 226.0 603.5 224.5 603.3 224.0 603.6 223.5 604.2 222.5 605.6 221.0 609.5 217.7 612.5 215.8ZM394.5 227.1 402.5 224.9 411.0 223.2 422.0 221.6 431.5 220.5 440.5 218.5 454.0 216.6 464.5 215.5 466.5 215.6 474.5 216.5 479.5 216.9 487.0 217.8 495.5 219.1 500.0 220.3 507.0 222.8 509.5 224.1 510.7 225.0 510.9 225.5 510.8 226.0 509.7 227.0 508.0 228.0 506.5 228.6 492.0 232.4 488.5 233.1 475.0 234.8 466.0 235.7 451.5 234.5 448.0 234.6 443.3 235.5 432.5 238.7 428.7 239.5 427.7 240.0 428.0 240.1 429.5 240.2 432.5 239.9 434.0 240.1 441.0 241.5 448.0 243.4 450.9 244.5 452.8 245.5 454.0 246.5 454.9 248.0 454.9 249.5 454.2 251.0 452.5 252.5 449.8 254.0 447.0 255.1 442.5 256.2 435.5 257.3 433.0 257.5 430.5 257.3 427.5 257.0 425.0 256.4 416.0 253.6 413.8 252.5 412.2 251.0 411.7 250.0 411.7 248.5 412.2 247.5 413.4 246.0 415.5 244.5 420.0 242.2 423.2 241.0 423.0 240.9 411.5 240.4 394.5 239.0M616.1 263.0 618.0 262.7 619.5 262.9 622.0 263.7 624.0 264.7 626.0 266.3 627.4 268.0 627.7 269.0 627.1 270.5 625.7 272.0 624.0 273.2 621.0 274.6 618.5 275.3 617.0 275.2 615.0 274.7 612.5 273.8 611.0 272.9 609.3 271.5 608.2 270.0 607.9 269.0 608.3 268.0 609.5 266.5 611.5 264.9 613.5 263.8ZM552.3 271.0 554.0 270.6 555.5 270.8 558.0 271.8 559.5 272.7 561.0 274.0 562.0 275.5 562.1 276.0 562.0 276.5 561.5 277.5 560.5 278.6 559.0 279.7 556.5 280.9 554.5 281.4 553.0 281.3 551.5 280.9 550.0 280.3 548.5 279.4 547.0 278.1 546.2 277.0 545.9 276.0 546.1 275.5 547.1 274.0 548.5 272.8 550.5 271.7ZM621.3 369.5 625.0 369.9 633.5 371.6 647.5 376.2 651.0 377.7 657.2 381.0 659.6 383.0 660.5 384.5 659.9 385.5 658.9 386.5 656.0 388.7 653.5 390.1 646.0 393.4 637.0 396.3 624.5 399.2 622.0 399.4 620.5 399.3 614.5 398.2 608.0 396.8 603.0 395.4 592.5 391.2 590.0 390.8 588.5 391.0 587.0 391.5 579.0 395.2 568.5 398.8 559.5 400.9 557.0 401.3 555.5 401.3 548.0 399.9 543.5 398.7 539.0 397.4 531.5 394.7 528.0 393.2 523.4 390.5 521.3 389.0 519.9 387.5 520.1 387.0 521.0 386.0 524.0 383.8 527.0 382.3 534.0 379.4 537.0 378.3 544.0 376.3 551.5 374.7 556.0 374.1 565.0 375.3 569.0 376.3 575.5 378.2 583.5 381.2 585.7 381.5 587.5 381.0 591.0 378.7 593.0 377.7 601.5 374.3 608.5 372.2 616.0 370.3ZM455.1 382.0 466.5 381.7 480.0 382.1 490.4 383.0 495.0 383.8 495.7 384.0 496.4 384.5 496.0 385.1 493.5 385.7 487.5 386.6 480.5 387.2 467.5 387.6 455.0 387.2 448.5 386.7 441.0 385.9 438.9 385.5 437.8 385.0 437.4 384.5 437.8 384.0 438.5 383.7 441.0 383.2 447.5 382.5Z" stroke="#7d7d7d"/><path d="M613.2 73.5 619.5 73.2 624.5 73.3 631.0 73.9 635.5 74.8 638.6 76.0 640.7 77.5 642.7 80.5 642.9 81.5 642.9 82.0 642.3 83.0 640.7 85.0 639.6 86.0 638.2 87.0 635.0 88.2 629.5 89.3 624.5 89.9 616.0 90.0 607.5 89.2 603.0 88.3 599.7 87.0 598.3 86.0 597.4 85.0 596.0 82.5 595.7 81.5 595.8 80.5 596.6 79.0 597.4 78.0 598.6 77.0 600.3 76.0 602.0 75.3 607.0 74.2ZM544.9 81.0 550.0 80.6 556.5 80.8 562.0 81.3 566.5 82.2 569.0 83.3 571.3 85.0 573.2 87.5 573.6 88.5 573.5 89.0 572.3 91.5 571.5 92.5 570.5 93.3 568.5 94.3 564.5 95.3 557.5 96.3 552.5 96.5 544.5 96.1 539.5 95.3 536.1 94.0 533.9 92.5 533.0 91.5 531.7 89.5 531.4 88.5 531.6 87.5 533.3 85.0 535.5 83.5 537.5 82.6 540.5 81.7ZM463.9 106.5 468.5 106.4 474.0 106.8 477.1 107.5 478.1 108.0 478.5 108.5 478.3 109.0 477.0 109.8 475.5 110.2 473.0 110.5 467.5 110.9 460.0 110.4 458.1 110.0 456.8 109.5 456.0 109.0 455.8 108.5 456.2 108.0 457.1 107.5 459.0 107.0ZM638.5 177.0 641.5 176.7 646.0 176.7 655.5 178.1 658.0 178.8 660.5 179.7 662.7 181.0 664.4 182.5 664.8 183.5 664.3 184.5 662.8 186.0 660.5 187.6 656.0 189.8 648.5 192.2 642.0 193.2 638.0 193.3 632.5 192.8 625.0 191.3 623.0 191.1 620.8 191.5 614.5 193.8 608.5 195.3 604.0 196.1 599.5 196.3 591.0 195.2 585.0 193.7 582.5 192.8 581.0 192.0 579.6 191.0 578.8 190.0 578.8 189.5 579.0 189.0 580.1 187.5 582.0 185.9 585.0 183.9 588.5 182.2 593.0 180.3 596.0 179.3 600.0 178.2 604.0 177.6 609.5 177.7 614.0 178.2 623.3 180.0 625.0 180.1 627.0 179.9 635.0 177.7ZM467.4 179.0 469.0 178.9 470.5 179.0 473.5 179.9 476.5 181.4 478.8 183.5 479.9 185.5 480.0 186.5 479.9 187.5 478.8 189.5 477.0 191.3 474.5 192.8 472.0 193.7 469.5 194.2 467.5 194.2 465.0 193.7 461.5 192.3 459.5 191.0 458.0 189.5 457.2 188.0 456.9 186.5 457.4 185.0 458.5 183.4 460.0 181.9 462.0 180.7 464.5 179.7ZM616.9 196.5 618.0 196.8 620.0 198.1 622.0 199.9 623.7 202.0 622.5 203.6 620.5 205.6 618.5 207.0 617.0 207.6 615.5 207.0 613.5 205.6 611.5 203.7 610.2 202.0 611.8 200.0 613.5 198.3 615.0 197.2ZM544.4 197.0 548.5 196.8 554.5 197.4 562.0 198.8 564.5 199.7 566.5 200.7 567.6 201.5 568.4 202.5 568.5 203.0 568.2 204.0 567.4 205.0 566.0 206.2 562.5 208.1 557.0 210.3 551.0 212.2 547.0 212.9 543.0 213.1 535.5 212.6 528.5 211.3 523.0 209.5 521.4 208.5 520.7 207.5 520.6 207.0 521.0 206.0 522.5 204.5 525.0 202.9 528.5 201.1 532.0 199.8 537.0 198.2ZM615.5 215.0 617.5 214.7 619.0 214.9 622.5 216.2 626.0 218.1 628.6 220.0 630.8 222.5 631.6 224.0 631.1 225.0 629.0 227.5 626.0 229.9 622.5 231.8 619.5 232.7 617.5 232.9 615.0 232.3 612.0 231.2 609.5 229.9 607.5 228.4 606.0 227.0 604.7 225.5 603.9 224.0 604.4 223.0 605.5 221.7 609.5 218.2 612.5 216.2ZM394.5 227.8 402.0 225.6 411.0 223.8 424.5 221.8 432.1 221.0 440.0 219.2 453.5 217.2 464.5 216.0 466.0 216.0 474.0 216.9 479.5 217.4 486.5 218.3 495.0 219.7 500.5 221.2 505.0 222.9 508.0 224.4 509.0 225.5 508.8 226.0 507.7 227.0 505.7 228.0 491.0 232.1 487.0 232.8 480.7 233.5 474.5 234.4 465.0 235.3 451.5 234.0 447.5 234.0 443.5 234.7 433.0 237.7 425.5 239.2 420.0 239.9 411.5 239.8 394.5 238.3M432.6 241.0 434.5 241.1 440.5 242.4 448.5 245.0 450.2 246.0 451.6 247.5 452.0 249.0 451.6 250.5 450.8 251.5 449.7 252.5 448.0 253.5 446.5 254.1 440.5 255.6 433.0 256.6 430.0 256.4 426.5 255.7 416.9 252.5 416.0 251.9 415.1 251.0 414.6 250.0 414.4 249.0 414.6 248.0 415.1 247.0 416.7 245.5 419.5 243.8 422.5 242.7 426.5 241.8ZM615.6 263.5 617.5 263.1 619.0 263.1 621.0 263.7 623.0 264.6 625.0 266.0 626.4 267.5 627.1 269.0 626.8 270.0 625.6 271.5 624.0 272.8 621.0 274.2 619.0 274.8 617.5 274.9 616.0 274.6 613.5 273.8 612.0 273.0 610.5 272.0 609.1 270.5 608.6 269.5 608.6 268.5 609.6 267.0 611.3 265.5 613.5 264.3ZM553.8 271.0 556.0 271.3 559.0 272.7 560.9 274.5 561.7 276.0 561.0 277.5 559.0 279.3 556.0 280.7 554.0 281.1 551.5 280.6 549.0 279.4 547.0 277.5 546.4 276.0 547.2 274.5 549.0 272.9 551.5 271.6ZM621.6 370.0 627.0 370.7 633.5 372.2 647.0 376.6 650.5 378.3 656.3 381.5 658.1 383.0 658.9 384.0 659.0 384.5 658.5 385.5 657.5 386.5 655.0 388.4 652.5 389.8 645.5 392.9 636.5 395.9 624.5 398.6 622.0 398.9 620.5 398.7 612.5 397.3 608.0 396.3 603.0 394.7 592.5 390.4 590.0 389.9 587.5 390.5 579.0 394.6 568.5 398.3 565.0 399.2 558.5 400.6 555.5 400.9 549.5 399.7 544.0 398.4 540.0 397.2 533.0 394.7 529.5 393.2 526.0 391.2 522.9 389.0 521.6 387.5 521.8 387.0 522.6 386.0 525.3 384.0 527.5 382.8 534.5 379.8 544.5 376.7 553.0 374.8 556.5 374.6 562.5 375.4 567.0 376.2 576.0 378.9 584.0 382.1 586.0 382.5 587.0 382.3 588.0 381.8 591.5 379.3 594.5 377.7 602.0 374.8 609.0 372.6 616.0 370.9ZM463.3 382.0 468.0 382.0 480.0 382.4 489.0 383.4 491.5 384.0 492.4 384.5 492.0 385.0 490.5 385.5 488.0 386.0 481.0 386.7 475.0 387.1 465.5 387.3 450.0 386.4 443.3 385.5 441.1 385.0 440.6 384.5 441.4 384.0 443.7 383.5 449.0 382.8Z" stroke="#7e7e7e"/><path d="M611.5 74.0 617.5 73.6 623.0 73.6 629.5 74.1 633.5 74.8 637.1 76.0 639.4 77.5 640.3 78.5 641.0 80.0 641.3 81.0 641.2 82.0 640.4 83.5 639.3 85.0 638.3 86.0 637.0 86.9 634.5 87.9 628.5 89.1 624.0 89.6 616.5 89.7 609.5 89.1 604.5 88.2 601.0 86.9 599.7 86.0 598.8 85.0 597.4 82.0 597.3 81.0 597.8 79.5 598.4 78.5 599.4 77.5 600.8 76.5 602.5 75.7 606.0 74.8ZM548.6 81.0 552.5 80.9 559.0 81.3 563.5 81.9 567.0 82.9 568.2 83.5 569.5 84.5 571.1 86.5 571.9 88.5 571.9 89.5 571.6 90.5 571.1 91.5 570.3 92.5 569.5 93.1 568.0 93.9 563.5 95.1 558.0 95.9 552.0 96.2 545.0 95.8 541.0 95.2 538.0 94.3 536.5 93.5 535.2 92.5 534.3 91.5 533.4 90.0 533.1 89.0 533.0 88.0 533.3 87.0 534.2 85.5 535.2 84.5 536.5 83.7 540.0 82.4 543.5 81.5ZM463.5 107.0 467.5 106.8 471.5 107.0 474.6 107.5 476.1 108.0 476.6 108.5 476.4 109.0 475.6 109.5 471.0 110.3 467.0 110.4 461.5 110.0 458.9 109.5 458.0 109.0 457.8 108.5 458.3 108.0 459.6 107.5ZM643.6 177.0 648.0 177.3 654.5 178.4 657.5 179.1 661.0 180.6 662.8 182.0 663.6 183.0 663.8 183.5 663.6 184.0 662.9 185.0 661.5 186.3 659.5 187.6 655.0 189.8 650.5 191.3 648.0 191.9 642.0 192.9 637.5 192.9 632.0 192.3 625.0 190.7 623.0 190.5 620.7 191.0 614.5 193.3 609.0 194.7 604.5 195.6 599.5 195.8 591.0 194.7 585.5 193.3 583.0 192.3 581.6 191.5 580.5 190.5 580.0 189.5 580.8 188.0 582.0 186.7 584.0 185.2 586.5 183.7 594.5 180.2 597.5 179.3 601.0 178.4 605.5 178.0 610.5 178.2 614.5 178.7 623.0 180.5 625.0 180.7 627.0 180.4 637.0 177.7 640.5 177.1ZM466.5 179.5 469.0 179.2 472.0 179.7 475.0 181.0 477.5 182.7 478.9 184.5 479.4 185.5 479.6 186.5 479.2 188.0 477.8 190.0 476.0 191.5 473.5 192.8 470.5 193.7 468.5 193.9 466.0 193.6 463.5 192.8 461.5 191.9 459.5 190.5 458.2 189.0 457.6 187.5 457.5 186.0 458.2 184.5 459.5 182.9 461.5 181.4 464.0 180.2ZM543.3 197.5 546.5 197.2 551.0 197.3 554.5 197.8 560.5 198.9 563.0 199.7 565.6 201.0 566.5 201.7 567.2 202.5 567.3 203.5 566.8 204.5 565.8 205.5 564.5 206.5 562.5 207.6 556.0 210.2 549.5 212.2 545.5 212.7 541.0 212.7 535.5 212.3 530.0 211.2 525.5 209.8 522.8 208.5 522.0 207.7 521.7 207.0 521.8 206.5 522.5 205.5 523.6 204.5 525.5 203.2 530.5 200.7 537.0 198.6ZM616.0 197.5 617.0 197.2 619.0 198.1 621.0 199.8 623.0 202.0 621.8 203.5 620.0 205.2 618.5 206.2 617.0 206.8 615.5 206.2 614.0 205.2 612.1 203.5 610.9 202.0 613.5 199.1 614.5 198.3ZM615.4 215.5 617.5 215.1 619.0 215.3 622.5 216.7 625.5 218.3 627.5 219.7 629.5 221.6 630.9 223.5 631.0 224.0 630.8 224.5 628.9 227.0 626.0 229.3 622.5 231.3 620.0 232.1 618.0 232.4 616.0 232.1 613.0 231.1 610.0 229.7 608.0 228.2 606.5 226.9 605.3 225.5 604.5 224.0 605.1 223.0 605.9 222.0 609.5 218.8 612.5 216.7ZM394.5 228.6 402.0 226.3 411.0 224.4 425.5 222.3 433.0 221.5 440.0 219.8 454.0 217.6 465.0 216.4 479.5 217.9 486.0 218.7 494.0 220.1 498.5 221.4 502.5 222.8 505.9 224.5 506.9 225.5 506.7 226.0 506.1 226.5 504.1 227.5 500.5 228.7 490.5 231.6 487.0 232.3 480.3 233.0 474.0 234.0 465.0 234.8 450.5 233.3 447.0 233.3 443.5 234.0 433.5 236.9 426.0 238.4 419.0 239.3 411.5 239.2 402.0 238.4 394.5 237.5M432.2 242.0 434.5 242.1 440.0 243.4 446.7 246.0 448.1 247.0 448.9 248.0 449.2 249.0 448.8 250.5 447.4 252.0 444.5 253.3 439.5 254.7 433.0 255.6 430.5 255.4 427.5 254.8 423.0 253.3 419.9 252.0 418.0 250.8 417.2 249.5 417.1 248.5 417.5 247.5 418.8 246.0 421.0 244.6 424.0 243.5 426.5 242.9ZM617.4 263.5 618.5 263.5 620.0 263.8 623.0 265.1 625.4 267.0 626.2 268.0 626.5 269.0 626.2 270.0 625.5 270.9 623.5 272.6 621.0 273.8 619.5 274.3 618.0 274.5 615.0 273.9 612.0 272.6 610.1 271.0 609.4 270.0 609.1 269.0 609.8 267.5 610.8 266.5 612.0 265.5 614.5 264.3ZM552.9 271.5 554.0 271.3 556.0 271.6 557.5 272.3 559.4 273.5 560.8 275.0 561.2 276.0 560.5 277.5 559.0 278.8 557.5 279.7 554.5 280.8 553.0 280.7 551.5 280.3 549.0 278.9 548.0 278.0 547.2 277.0 546.9 276.0 547.0 275.5 547.7 274.5 549.0 273.4 551.0 272.2ZM618.2 371.0 622.0 370.5 627.5 371.3 633.5 372.7 642.5 375.7 648.0 377.8 654.5 381.5 656.6 383.0 657.4 384.0 657.6 384.5 656.7 386.0 654.5 387.8 652.0 389.1 645.0 392.3 636.5 395.3 624.5 398.1 622.0 398.4 620.0 398.1 612.5 396.8 608.0 395.7 603.5 394.3 592.0 389.4 590.5 389.0 589.5 388.9 587.0 389.7 578.5 394.2 568.5 397.8 565.0 398.8 558.5 400.2 555.5 400.4 549.5 399.2 543.5 397.7 540.0 396.6 533.5 394.3 530.0 392.7 527.1 391.0 524.4 389.0 523.2 387.5 523.3 387.0 524.1 386.0 526.5 384.2 535.0 380.2 545.0 377.1 551.0 375.7 555.5 375.0 562.0 375.7 567.5 376.8 576.5 379.7 584.5 383.2 586.0 383.5 587.0 383.5 588.5 382.8 593.0 379.3 597.5 377.1 602.5 375.2 608.5 373.4ZM459.5 382.5 467.0 382.3 479.0 382.8 486.5 383.8 487.4 384.0 488.4 384.5 488.1 385.0 486.4 385.5 478.0 386.5 468.0 386.9 459.0 386.6 449.0 385.7 446.3 385.0 445.7 384.5 446.5 384.0 448.6 383.5Z" stroke="#808080"/><path d="M616.8 74.0 621.5 73.9 626.5 74.2 631.0 74.8 634.5 75.7 637.0 76.8 638.5 78.0 639.2 79.0 639.6 80.0 639.7 81.0 639.6 82.0 638.9 83.5 637.9 85.0 636.0 86.6 633.0 87.7 627.5 88.9 623.0 89.3 615.5 89.3 608.0 88.4 604.1 87.5 602.5 86.8 601.2 86.0 600.2 85.0 599.4 83.5 599.0 82.0 599.0 80.5 599.6 79.0 600.4 78.0 602.4 76.5 605.0 75.6 610.5 74.5ZM546.8 81.5 551.0 81.3 558.0 81.6 563.0 82.2 566.0 83.1 568.3 84.5 569.8 86.5 570.3 88.0 570.5 89.0 570.1 91.0 569.0 92.5 568.0 93.2 566.5 93.8 563.0 94.8 557.0 95.6 551.5 95.8 545.0 95.4 541.5 94.9 539.0 94.1 537.8 93.5 536.5 92.5 535.6 91.5 535.1 90.5 534.6 89.0 534.6 88.0 534.8 87.0 535.3 86.0 536.7 84.5 539.8 83.0 543.0 82.0ZM465.2 107.5 469.9 107.5 472.7 108.0 473.7 108.5 473.4 109.0 470.5 109.7 468.0 109.9 465.0 109.7 461.2 109.0 460.8 108.5 461.9 108.0ZM641.0 177.5 644.0 177.4 647.0 177.6 656.0 179.2 658.0 179.8 660.0 180.7 661.7 182.0 662.6 183.0 662.8 183.5 662.6 184.0 661.9 185.0 660.5 186.3 658.5 187.6 654.0 189.7 650.5 190.8 647.5 191.6 642.0 192.5 637.5 192.4 632.0 191.9 624.5 190.1 622.5 190.0 620.5 190.5 614.5 192.8 609.0 194.3 604.5 195.2 599.5 195.4 591.0 194.2 586.0 192.8 584.0 192.0 582.5 191.2 581.7 190.5 581.1 189.5 581.5 188.5 582.7 187.0 584.7 185.5 587.0 184.1 594.5 180.7 597.5 179.7 601.0 178.9 605.5 178.4 611.0 178.7 617.5 179.8 623.5 181.2 625.0 181.3 627.0 180.9 636.5 178.2ZM465.9 180.0 468.5 179.6 471.0 179.8 474.0 180.9 476.5 182.4 478.0 184.0 478.7 185.0 479.0 186.0 478.8 187.5 477.7 189.5 476.0 191.0 474.0 192.2 471.0 193.2 469.0 193.6 466.5 193.4 464.5 192.8 462.0 191.7 460.2 190.5 458.8 189.0 458.1 187.5 458.0 186.5 458.5 185.0 459.6 183.5 461.5 181.9 463.5 180.8ZM542.3 198.0 545.5 197.6 550.0 197.6 554.5 198.2 559.5 199.2 562.5 200.2 564.5 201.2 565.9 202.5 566.1 203.5 565.7 204.5 564.7 205.5 562.0 207.3 556.0 209.8 550.0 211.7 546.0 212.3 542.5 212.4 536.0 211.9 532.0 211.2 527.5 209.9 524.2 208.5 523.5 207.9 522.9 207.0 523.0 206.5 523.6 205.5 524.7 204.5 526.5 203.2 529.0 201.9 531.5 200.8 537.5 198.8ZM615.5 198.5 617.0 198.0 618.0 198.4 620.0 199.7 622.2 202.0 620.0 204.4 618.5 205.4 617.5 205.9 616.5 205.9 615.0 205.1 613.0 203.5 611.6 202.0 613.5 199.9ZM615.3 216.0 617.0 215.6 618.5 215.7 620.5 216.4 624.5 218.2 627.0 219.9 628.8 221.5 630.3 223.5 630.5 224.0 630.2 224.5 628.5 226.7 626.0 228.8 623.5 230.3 620.5 231.5 618.5 231.9 617.0 231.8 613.5 230.8 611.0 229.7 609.0 228.4 607.3 227.0 605.9 225.5 605.1 224.0 605.7 223.0 606.6 222.0 610.0 218.9 612.5 217.2ZM394.5 229.6 401.0 227.3 410.5 225.1 426.5 222.8 433.5 222.2 440.0 220.5 447.5 219.2 455.5 217.9 465.0 216.9 479.5 218.4 485.5 219.2 493.5 220.8 497.0 221.8 501.0 223.2 503.4 224.5 504.4 225.5 504.1 226.0 503.4 226.5 501.0 227.6 489.5 231.2 486.5 231.8 480.0 232.5 475.0 233.3 466.5 234.3 464.0 234.3 457.5 233.6 449.5 232.6 446.5 232.5 443.5 233.1 437.0 235.2 433.5 236.2 425.5 237.9 420.5 238.6 418.0 238.7 413.0 238.7 406.5 238.2 394.5 236.7M429.6 243.5 432.0 243.1 433.5 243.1 435.6 243.5 440.0 244.9 442.3 246.0 444.7 247.5 445.6 248.5 445.8 249.0 445.8 250.0 445.1 251.0 444.5 251.4 442.1 252.5 438.5 253.5 433.0 254.4 431.0 254.3 429.0 253.9 424.0 252.1 421.9 251.0 420.8 250.0 420.3 249.0 420.2 248.5 420.5 247.5 422.0 246.0 424.0 245.0 426.5 244.1ZM616.8 264.0 618.0 263.8 620.0 264.2 621.5 264.8 623.6 266.0 625.0 267.3 625.8 268.5 625.8 269.5 625.2 270.5 624.0 271.7 622.0 272.9 620.0 273.7 618.0 274.1 616.0 273.8 614.5 273.3 613.0 272.6 611.5 271.6 610.4 270.5 609.8 269.5 609.7 269.0 610.1 268.0 611.5 266.5 613.0 265.4 614.5 264.7ZM552.4 272.0 554.0 271.6 555.0 271.7 556.5 272.2 558.0 272.9 559.4 274.0 560.3 275.0 560.7 276.0 560.3 277.0 559.4 278.0 558.0 279.1 556.5 279.8 555.0 280.3 554.0 280.5 552.5 280.2 550.0 279.2 548.5 278.0 547.7 277.0 547.4 276.0 547.6 275.5 548.3 274.5 549.5 273.5 551.0 272.6ZM618.6 371.5 622.0 371.1 627.5 371.9 633.5 373.3 642.0 376.2 646.0 377.7 648.6 379.0 654.5 382.7 655.5 383.5 656.1 384.5 655.9 385.0 655.2 386.0 653.5 387.3 644.5 391.8 636.0 394.9 625.0 397.4 622.0 397.8 620.5 397.7 613.0 396.3 608.5 395.3 604.0 393.8 596.5 390.6 591.0 387.9 589.5 387.5 588.5 387.7 579.0 393.3 570.0 396.7 565.0 398.3 558.0 399.8 555.5 399.9 551.5 399.2 544.0 397.3 540.5 396.2 534.0 393.8 530.5 392.2 528.0 390.7 525.8 389.0 524.7 387.5 524.8 387.0 525.6 386.0 527.0 384.8 529.0 383.7 535.5 380.6 546.0 377.4 552.5 375.9 556.0 375.4 564.5 376.6 569.0 377.7 576.5 380.4 586.0 384.9 587.5 385.4 588.0 385.2 588.4 384.5 592.5 380.7 594.5 379.3 596.5 378.3 601.5 376.2 607.5 374.2 615.0 372.2ZM459.2 383.0 467.0 382.7 477.5 383.2 481.0 383.7 482.3 384.0 483.3 384.5 483.0 385.0 481.5 385.5 477.0 386.1 467.5 386.5 460.5 386.3 453.7 385.5 451.3 385.0 450.7 384.5 451.8 384.0Z" stroke="#818181"/><path d="M615.2 74.5 620.5 74.3 624.5 74.4 630.0 75.1 633.4 76.0 635.6 77.0 637.3 78.5 637.8 79.5 638.1 80.5 637.8 82.5 636.5 85.0 635.5 86.0 634.6 86.5 631.5 87.6 626.0 88.7 620.5 89.0 615.0 88.8 608.0 87.9 605.0 87.1 603.6 86.5 602.2 85.5 601.4 84.5 600.9 83.5 600.6 82.0 600.7 80.5 601.2 79.0 601.9 78.0 603.5 76.8 605.8 76.0 610.0 75.1ZM545.9 82.0 550.0 81.7 556.5 81.8 561.5 82.4 565.0 83.3 567.1 84.5 568.2 86.0 568.8 87.5 569.0 89.0 568.8 91.0 568.1 92.0 567.5 92.5 565.5 93.5 562.5 94.4 557.0 95.2 552.0 95.4 547.0 95.2 543.5 94.8 540.4 94.0 538.0 92.7 536.7 91.0 536.3 90.0 536.1 88.5 536.2 87.5 536.6 86.5 537.8 85.0 540.3 83.5 543.0 82.5ZM640.1 178.0 643.0 177.8 646.0 177.9 654.5 179.3 657.0 180.0 659.0 180.9 660.6 182.0 661.5 183.0 661.7 183.5 661.6 184.0 661.0 185.0 659.9 186.0 658.0 187.3 654.0 189.2 650.5 190.4 647.5 191.2 641.5 192.1 638.0 192.0 632.0 191.4 624.8 189.5 622.5 189.4 620.5 189.9 614.5 192.3 611.0 193.3 605.0 194.6 600.0 194.9 597.5 194.7 591.5 193.7 588.0 192.8 585.5 192.0 584.0 191.2 583.0 190.5 582.3 189.5 582.5 188.5 583.3 187.5 585.0 186.0 587.0 184.8 594.5 181.2 597.5 180.2 601.0 179.3 605.5 178.9 611.0 179.2 617.5 180.3 623.5 181.8 625.0 181.9 627.0 181.5 636.0 178.8ZM467.7 180.0 469.0 179.9 470.5 180.1 473.0 180.8 475.9 182.5 477.8 184.5 478.4 186.0 478.3 187.5 477.0 189.5 475.5 190.9 474.0 191.7 471.5 192.7 469.5 193.2 467.5 193.2 465.5 192.8 463.0 191.8 460.9 190.5 459.4 189.0 458.7 187.5 458.5 186.5 459.1 185.0 460.2 183.5 461.5 182.4 463.5 181.2 466.0 180.4ZM544.6 198.0 549.0 197.9 554.5 198.6 560.5 200.1 563.5 201.5 564.5 202.4 564.9 203.0 564.9 203.5 564.5 204.5 563.6 205.5 562.5 206.3 558.5 208.3 553.5 210.3 550.0 211.3 546.0 212.0 542.5 212.1 536.5 211.6 530.5 210.3 528.5 209.7 526.0 208.6 525.0 208.0 524.2 207.0 524.4 206.0 525.8 204.5 528.0 203.0 530.5 201.7 534.0 200.3 537.5 199.2ZM616.2 199.0 617.0 198.8 618.5 199.4 620.0 200.6 621.4 202.0 619.0 204.3 618.0 204.9 617.0 205.2 615.0 204.3 613.5 203.1 612.5 202.0 614.0 200.3 615.0 199.6ZM615.3 216.5 617.0 216.1 618.5 216.2 621.5 217.3 624.5 218.8 626.5 220.1 628.6 222.0 629.7 223.5 629.9 224.0 629.6 224.5 628.1 226.5 626.0 228.2 622.5 230.3 620.0 231.1 618.0 231.4 616.5 231.2 613.5 230.3 611.0 229.2 609.0 227.8 607.5 226.5 606.2 225.0 605.7 224.0 607.3 222.0 610.5 219.1 612.5 217.8ZM394.5 230.7 400.0 228.5 410.5 225.8 427.0 223.4 434.0 222.9 440.5 221.2 447.5 219.8 455.5 218.5 464.5 217.4 466.0 217.4 479.0 218.8 485.5 219.9 492.0 221.2 494.5 221.8 499.0 223.5 500.9 224.5 501.5 225.0 501.7 225.5 500.7 226.5 499.0 227.3 492.0 229.7 488.5 230.8 474.5 232.9 466.0 233.8 457.0 233.0 449.0 231.8 445.5 231.8 442.5 232.4 437.5 234.3 434.0 235.3 425.5 237.2 420.5 237.9 418.0 238.1 413.5 238.1 406.0 237.4 394.5 235.6M432.3 244.5 434.5 244.8 440.0 247.0 441.7 248.5 442.0 249.5 441.7 250.0 441.0 250.6 439.5 251.3 433.0 252.9 431.5 252.9 429.5 252.5 426.0 251.0 424.6 250.0 423.9 249.0 424.0 248.0 424.7 247.0 426.2 246.0 427.5 245.4 429.5 244.9ZM616.5 264.5 618.0 264.3 619.0 264.4 620.5 264.8 622.5 265.8 624.0 267.0 624.8 268.0 625.2 269.0 624.9 270.0 624.0 271.0 622.5 272.1 620.5 273.1 618.5 273.7 617.5 273.7 615.5 273.2 612.5 271.8 611.1 270.5 610.5 269.5 610.4 269.0 610.8 268.0 611.6 267.0 613.0 266.0 614.5 265.2ZM552.1 272.5 553.5 272.1 554.5 272.0 556.0 272.4 557.5 273.1 558.8 274.0 559.7 275.0 560.1 276.0 559.7 277.0 558.0 278.6 556.5 279.4 555.0 279.9 554.0 280.1 553.0 280.0 550.5 279.0 548.7 277.5 548.1 276.5 548.0 276.0 548.5 275.0 549.5 274.0ZM619.0 372.0 622.0 371.6 627.5 372.4 633.0 373.8 641.5 376.7 645.0 378.0 647.5 379.3 653.5 383.4 654.4 384.5 653.9 385.5 651.9 387.0 644.0 391.2 636.0 394.3 625.5 396.8 622.0 397.3 619.0 396.9 611.0 395.3 606.0 393.9 597.0 390.1 593.3 388.0 591.9 387.0 591.0 386.0 590.4 385.0 590.4 384.5 590.6 384.0 592.3 382.0 594.0 380.6 596.0 379.3 598.5 378.1 603.5 376.2 609.5 374.2ZM554.9 376.0 556.5 375.9 564.5 377.1 567.5 377.8 570.5 378.8 577.0 381.2 582.0 383.8 583.5 384.7 585.2 386.0 586.0 387.0 586.1 387.5 585.3 388.5 583.9 389.5 579.5 392.2 577.5 393.2 567.0 397.2 558.0 399.3 556.0 399.5 552.0 398.8 544.0 396.7 539.5 395.3 533.0 392.7 529.2 390.5 527.2 389.0 526.3 388.0 526.1 387.5 526.6 386.5 527.6 385.5 529.2 384.5 534.5 381.7 537.0 380.7 545.0 378.1 551.0 376.7ZM460.8 383.5 468.0 383.3 476.7 384.0 478.7 384.5 478.2 385.0 474.9 385.5 468.0 386.0 464.5 385.9 460.0 385.6 457.5 385.0 457.0 384.5 458.0 384.0Z" stroke="#838383"/><path d="M614.8 75.0 620.0 74.7 624.5 74.9 629.5 75.6 633.0 76.7 635.0 78.0 636.1 79.5 636.3 81.5 635.7 84.0 634.6 85.5 632.8 86.5 628.5 87.7 624.5 88.4 619.0 88.5 614.5 88.3 608.5 87.4 605.5 86.5 604.5 86.0 603.4 85.0 602.5 83.5 602.3 82.5 602.2 81.0 602.6 79.5 603.2 78.5 604.5 77.4 606.7 76.5 610.5 75.5ZM545.7 82.5 550.0 82.1 556.0 82.2 560.5 82.7 564.0 83.6 565.7 84.5 567.0 86.0 567.3 87.0 567.6 88.5 567.5 90.5 566.9 91.5 566.4 92.0 564.5 93.1 562.0 93.9 557.0 94.8 553.0 95.0 548.5 94.9 544.5 94.5 541.5 93.7 539.2 92.5 538.1 91.0 537.8 89.0 538.2 87.0 539.1 85.5 541.0 84.0 543.0 83.1ZM639.7 178.5 643.0 178.2 646.0 178.3 654.0 179.7 656.0 180.3 658.0 181.1 659.5 182.0 660.4 183.0 660.7 183.5 660.6 184.0 659.9 185.0 658.8 186.0 657.0 187.2 655.0 188.2 652.5 189.2 647.5 190.7 641.5 191.7 638.0 191.6 631.5 190.8 625.0 188.9 623.0 188.6 621.1 189.0 614.5 191.7 609.5 193.2 604.5 194.2 600.0 194.5 597.5 194.2 591.5 193.1 588.5 192.4 585.2 191.0 584.0 190.2 583.5 189.5 583.4 189.0 583.6 188.5 584.4 187.5 586.0 186.2 588.0 184.9 594.5 181.7 597.5 180.7 601.0 179.8 605.5 179.3 611.5 179.7 618.5 181.2 623.0 182.4 624.5 182.6 626.5 182.3 636.0 179.3ZM467.1 180.5 469.0 180.3 471.5 180.7 474.0 181.8 476.3 183.5 477.5 185.0 477.9 186.5 477.5 188.0 476.4 189.5 475.0 190.7 473.0 191.7 470.5 192.6 468.5 192.8 466.5 192.6 464.0 191.8 462.0 190.7 460.5 189.5 459.7 188.5 459.1 187.0 459.2 186.0 460.0 184.5 461.0 183.4 462.5 182.2 464.5 181.3ZM543.7 198.5 546.5 198.2 550.0 198.4 553.5 198.8 557.5 199.8 560.5 200.8 562.5 201.9 563.5 203.0 563.6 204.0 562.4 205.5 559.0 207.6 553.5 209.8 549.0 211.2 545.5 211.7 542.0 211.7 536.5 211.2 532.0 210.2 528.5 209.0 527.0 208.3 526.0 207.5 525.6 207.0 525.5 206.5 525.7 206.0 526.4 205.0 527.6 204.0 529.5 202.8 534.0 200.8 538.5 199.4ZM615.8 200.0 617.0 199.6 617.5 199.8 619.0 200.6 620.5 202.0 618.5 203.8 617.5 204.3 616.5 204.3 615.0 203.4 613.3 202.0 614.5 200.8ZM615.3 217.0 617.0 216.6 618.5 216.7 623.5 218.8 626.0 220.3 627.9 222.0 629.0 223.5 629.2 224.0 629.0 224.5 627.4 226.5 625.0 228.3 622.5 229.7 620.0 230.6 618.0 230.9 616.5 230.7 613.5 229.8 611.5 228.9 610.0 228.0 608.2 226.5 606.9 225.0 606.4 224.0 607.5 222.5 610.5 219.7 612.5 218.3ZM394.5 232.4 396.7 231.0 399.5 229.8 407.5 227.3 410.5 226.5 427.0 224.2 434.5 223.7 447.0 220.6 455.0 219.1 464.5 217.9 466.0 217.9 478.5 219.3 486.5 220.7 494.0 222.6 497.9 224.5 498.6 225.0 498.9 225.5 497.7 226.5 495.6 227.5 489.0 229.9 485.5 230.7 479.5 231.4 474.5 232.3 466.0 233.3 464.5 233.3 456.0 232.4 448.4 231.0 444.5 230.9 442.0 231.4 437.0 233.6 434.5 234.4 426.0 236.4 420.0 237.3 414.0 237.4 406.0 236.6 397.0 235.0 395.4 234.5 394.5 234.0M429.7 247.0 431.5 246.7 433.1 247.0 434.1 248.0 434.3 249.0 434.2 249.5 433.5 250.2 432.5 250.6 430.5 250.5 429.1 250.0 428.4 249.5 428.0 249.0 428.0 248.5 428.1 248.0 428.6 247.5ZM616.3 265.0 618.0 264.7 619.0 264.9 620.5 265.3 622.0 266.1 623.5 267.3 624.4 268.5 624.5 269.0 624.1 270.0 623.2 271.0 621.7 272.0 620.0 272.8 618.5 273.2 617.5 273.2 616.0 272.9 614.5 272.3 613.0 271.5 611.4 270.0 611.1 269.0 611.2 268.5 611.9 267.5 613.1 266.5 614.5 265.7ZM553.4 272.5 554.5 272.4 556.0 272.8 557.5 273.6 558.5 274.3 559.1 275.0 559.5 276.0 559.4 276.5 558.7 277.5 556.5 279.0 554.0 279.8 552.0 279.3 549.8 278.0 548.6 276.5 548.5 276.0 548.7 275.5 549.6 274.5 550.5 273.8 552.0 272.9ZM619.6 372.5 622.5 372.2 628.5 373.2 634.0 374.7 641.5 377.4 644.5 378.6 647.0 380.0 651.4 383.5 652.3 384.5 651.7 385.5 649.9 387.0 646.0 389.3 643.0 390.8 635.5 393.8 625.5 396.2 622.0 396.7 619.0 396.3 611.0 394.7 606.5 393.4 598.0 389.7 595.5 388.4 593.7 387.0 592.7 386.0 592.0 385.0 591.9 384.5 592.1 384.0 593.2 382.5 595.0 380.9 597.0 379.6 600.0 378.2 610.0 374.7ZM554.6 376.5 556.5 376.4 563.0 377.4 567.0 378.2 570.0 379.2 576.5 381.7 581.0 384.2 583.5 386.0 584.3 387.0 584.4 387.5 583.6 388.5 582.3 389.5 579.0 391.6 577.0 392.7 567.0 396.7 558.0 398.8 556.0 399.0 553.5 398.6 548.0 397.3 541.0 395.2 535.0 392.8 531.4 391.0 529.5 389.7 528.1 388.5 527.5 387.5 527.7 387.0 528.5 386.0 529.9 385.0 534.0 382.7 537.0 381.3 545.0 378.7 551.0 377.2ZM465.2 384.5 467.7 384.5 466.5 384.7Z" stroke="#858585"/><path d="M615.1 75.5 620.0 75.2 624.0 75.3 628.0 76.0 631.3 77.0 633.0 78.0 634.2 79.5 634.5 80.5 634.5 82.0 634.2 84.0 633.0 85.4 631.5 86.2 627.5 87.3 624.0 87.9 619.0 88.0 615.0 87.8 610.2 87.0 606.8 86.0 605.2 85.0 604.2 83.5 604.0 82.5 604.0 81.0 604.2 80.0 604.7 79.0 606.0 77.9 609.0 76.6 611.5 76.0ZM546.1 83.0 550.0 82.6 556.0 82.7 560.0 83.2 563.1 84.0 564.8 85.0 565.8 86.5 566.1 88.5 565.8 90.5 565.2 91.5 564.6 92.0 563.0 92.9 560.5 93.6 556.5 94.3 553.0 94.5 549.5 94.4 545.0 94.0 542.5 93.3 540.9 92.5 540.3 92.0 539.7 91.0 539.4 89.5 539.8 87.5 540.5 86.0 542.0 84.5 544.0 83.5ZM639.4 179.0 642.5 178.7 646.0 178.8 653.5 180.1 655.5 180.7 657.5 181.6 658.8 182.5 659.5 183.5 659.2 184.5 658.3 185.5 655.0 187.6 649.5 189.7 644.5 190.8 642.0 191.2 640.0 191.3 634.0 190.7 631.0 190.1 624.5 188.0 623.0 187.8 621.5 188.1 615.5 190.7 611.0 192.2 605.0 193.7 600.0 194.0 597.5 193.7 589.0 191.8 586.0 190.5 585.0 189.7 584.7 189.0 585.2 188.0 586.8 186.5 592.5 183.2 597.0 181.4 602.0 180.2 606.0 179.8 612.0 180.3 618.5 181.8 623.0 183.3 624.5 183.4 626.0 183.1 634.5 180.2ZM466.7 181.0 469.0 180.7 471.0 181.0 473.0 181.7 475.5 183.4 476.8 185.0 477.3 186.5 476.8 188.0 476.1 189.0 475.0 190.1 473.0 191.3 470.5 192.2 469.0 192.4 467.0 192.3 465.0 191.8 463.0 190.8 461.5 189.8 460.4 188.5 459.9 187.5 459.7 186.5 460.3 185.0 461.1 184.0 462.5 182.8 464.5 181.7ZM543.0 199.0 545.5 198.7 548.5 198.7 552.5 199.1 555.0 199.6 558.5 200.7 560.5 201.6 562.1 203.0 562.3 203.5 562.2 204.0 561.1 205.5 558.0 207.4 552.5 209.7 549.0 210.8 545.5 211.3 542.5 211.3 537.5 210.9 534.0 210.2 530.5 209.1 528.2 208.0 527.1 207.0 526.9 206.5 527.3 205.5 528.2 204.5 529.6 203.5 534.0 201.3 538.5 199.8ZM616.9 200.5 618.0 200.9 619.5 202.0 618.5 202.9 617.5 203.4 617.0 203.5 616.0 203.2 614.3 202.0 615.5 201.0ZM615.3 217.5 617.0 217.1 618.5 217.2 623.5 219.3 625.5 220.6 627.2 222.0 628.4 223.5 628.6 224.0 628.4 224.5 627.0 226.2 625.0 227.8 622.5 229.2 619.5 230.2 618.0 230.3 616.5 230.1 613.5 229.3 611.5 228.3 610.0 227.3 608.5 226.0 607.6 225.0 607.1 224.0 608.2 222.5 611.0 220.0 613.5 218.3ZM464.0 218.5 466.0 218.4 480.0 220.1 487.0 221.6 491.5 222.7 493.6 223.5 495.7 225.0 496.0 225.5 495.7 226.0 494.2 227.0 492.5 227.8 489.0 229.1 486.5 229.8 474.0 231.8 465.5 232.8 456.0 231.8 447.0 230.0 443.5 229.8 441.0 230.4 437.0 232.5 434.0 233.6 425.5 235.7 421.0 236.5 419.0 236.6 413.5 236.5 406.0 235.7 399.9 234.0 398.7 233.5 398.1 233.0 398.2 232.5 398.7 232.0 400.4 231.0 407.0 228.3 410.5 227.3 427.5 225.0 435.0 224.7 447.0 221.3 455.0 219.7ZM616.3 265.5 617.5 265.2 618.5 265.3 621.0 266.1 622.3 267.0 623.3 268.0 623.7 269.0 623.6 269.5 622.8 270.5 621.5 271.5 620.0 272.3 618.5 272.7 616.5 272.5 614.0 271.5 612.2 270.0 611.8 269.0 612.0 268.5 612.7 267.5 613.5 266.8 615.0 266.0ZM553.0 273.0 554.0 272.8 555.0 272.9 556.0 273.2 557.5 274.1 558.8 275.5 559.0 276.0 558.5 277.0 557.0 278.3 554.5 279.3 553.5 279.3 552.5 279.1 550.5 278.0 549.2 276.5 549.1 276.0 549.4 275.5 550.9 274.0ZM620.2 373.0 622.5 372.8 628.5 373.8 633.5 375.2 642.0 378.3 645.0 379.8 647.0 381.2 649.8 384.0 650.1 384.5 650.0 385.0 649.2 386.0 647.4 387.5 644.5 389.3 642.5 390.2 635.5 393.1 625.0 395.7 622.0 396.1 618.5 395.7 611.0 394.1 606.5 392.7 598.0 388.8 596.0 387.6 594.7 386.5 593.5 385.0 593.4 384.5 593.8 383.5 595.2 382.0 597.0 380.6 599.5 379.2 602.0 378.2 610.5 375.2 616.5 373.7ZM554.5 377.0 556.5 376.9 562.5 377.8 565.5 378.4 569.0 379.4 575.0 381.8 578.0 383.4 581.5 385.7 582.3 386.5 582.8 387.5 581.3 389.0 578.0 391.3 570.5 394.8 565.0 396.8 558.0 398.3 556.0 398.5 553.5 398.1 546.5 396.3 541.5 394.7 535.5 392.3 532.5 390.7 529.6 388.5 529.0 387.5 529.2 387.0 530.1 386.0 532.3 384.5 535.0 382.9 537.5 381.8 545.0 379.2 551.0 377.7Z" stroke="#878787"/><path d="M616.5 76.0 620.5 75.7 624.0 75.9 627.0 76.5 629.7 77.5 631.3 78.5 632.4 80.0 632.8 82.5 632.4 84.0 631.4 85.0 629.0 86.1 625.8 87.0 622.5 87.4 618.5 87.4 615.0 87.2 611.8 86.5 608.5 85.3 607.2 84.5 606.2 83.0 606.0 82.0 606.2 80.5 607.0 79.0 608.3 78.0 610.6 77.0 613.0 76.4ZM547.2 83.5 550.5 83.2 556.0 83.3 559.5 83.8 562.0 84.5 563.6 85.5 564.3 86.5 564.5 88.0 564.2 90.0 563.2 91.5 562.0 92.3 559.9 93.0 556.5 93.7 554.0 93.9 551.0 93.9 546.5 93.6 543.9 93.0 542.1 92.0 541.3 91.0 541.2 89.5 541.8 87.0 542.5 85.7 543.5 84.8 545.1 84.0ZM639.2 179.5 641.5 179.2 644.5 179.2 649.5 179.8 653.5 180.7 655.5 181.4 657.5 182.5 658.3 183.5 658.4 184.0 657.7 185.0 656.0 186.4 654.5 187.2 649.5 189.2 644.5 190.3 642.0 190.7 640.0 190.8 634.0 190.2 630.0 189.3 624.5 187.0 623.0 186.7 621.5 187.1 616.0 189.9 612.0 191.4 605.0 193.2 600.5 193.5 597.5 193.1 590.0 191.4 587.5 190.3 586.4 189.5 586.1 189.0 586.5 188.0 587.5 187.0 593.0 183.6 596.5 182.1 602.0 180.7 606.0 180.4 612.0 180.8 618.0 182.4 623.0 184.4 624.0 184.6 625.5 184.2 629.0 182.7 633.0 181.3ZM466.5 181.5 468.5 181.1 470.5 181.3 472.5 182.0 474.5 183.2 475.8 184.5 476.5 186.0 476.5 187.0 475.8 188.5 474.5 189.8 473.0 190.7 471.0 191.6 469.0 192.0 467.5 192.0 466.0 191.7 464.0 190.8 462.5 189.9 461.1 188.5 460.6 187.5 460.4 186.5 460.7 185.5 461.8 184.0 463.0 183.1 464.5 182.2ZM542.5 199.5 544.5 199.2 547.5 199.1 551.0 199.3 554.0 199.9 557.0 200.8 559.4 202.0 560.6 203.0 560.8 203.5 560.8 204.0 559.8 205.5 557.6 207.0 553.5 208.9 549.5 210.2 546.0 210.8 543.0 210.9 539.0 210.6 535.0 209.9 531.5 208.8 529.5 207.8 528.6 207.0 528.3 206.5 528.6 205.5 529.5 204.5 530.8 203.5 534.5 201.6 538.5 200.2ZM616.4 201.5 617.0 201.4 618.3 202.0 617.5 202.5 617.0 202.6 616.5 202.5 615.6 202.0ZM615.4 218.0 617.0 217.6 618.5 217.7 623.0 219.6 625.0 220.8 626.9 222.5 627.9 224.0 627.7 224.5 626.5 225.9 625.0 227.2 623.0 228.4 620.5 229.4 618.5 229.8 617.5 229.8 615.0 229.2 612.5 228.3 611.0 227.4 609.5 226.2 608.4 225.0 607.8 224.0 609.0 222.5 611.5 220.2 613.5 218.8ZM464.7 219.0 466.5 219.0 479.5 220.7 486.0 222.2 492.0 224.1 493.3 225.0 493.6 225.5 493.0 226.2 491.7 227.0 489.4 228.0 485.5 229.2 473.5 231.3 465.5 232.3 456.0 231.1 444.5 228.5 441.0 228.3 439.5 228.7 436.9 231.0 433.9 232.5 425.5 234.8 419.5 235.7 414.0 235.6 407.0 234.7 404.5 233.8 403.4 233.0 403.2 232.5 403.8 231.5 406.0 230.0 408.0 229.1 410.5 228.3 415.0 227.5 428.0 225.9 430.5 225.9 435.0 226.6 436.5 226.6 437.5 226.2 438.1 225.5 440.2 224.5 446.5 222.2 455.5 220.2ZM616.5 266.0 618.0 265.7 619.0 265.9 620.5 266.5 622.4 268.0 622.9 269.0 622.7 269.5 622.0 270.4 621.0 271.1 618.5 272.2 617.0 272.1 614.5 271.1 613.5 270.4 612.8 269.5 612.6 269.0 612.8 268.5 614.3 267.0ZM552.9 273.5 554.5 273.3 556.5 274.0 557.5 274.7 558.1 275.5 558.3 276.0 558.2 276.5 557.5 277.3 556.6 278.0 554.5 278.9 553.0 278.8 551.5 278.1 550.2 277.0 549.8 276.0 550.0 275.5 551.0 274.5ZM620.9 373.5 622.0 373.4 624.5 373.7 629.5 374.7 634.0 376.1 641.5 378.9 644.0 380.2 646.0 381.6 648.1 384.0 648.4 384.5 648.2 385.0 647.0 386.5 645.0 388.0 642.5 389.4 638.5 391.2 634.5 392.7 624.5 395.2 622.0 395.5 618.5 395.1 611.5 393.7 607.0 392.2 598.5 388.2 597.0 387.2 595.7 386.0 595.0 385.0 594.8 384.5 595.3 383.5 596.7 382.0 598.5 380.7 600.5 379.6 603.5 378.3 611.0 375.7 617.0 374.2ZM554.5 377.5 556.5 377.4 562.0 378.2 565.5 378.9 568.5 379.8 574.5 382.3 576.7 383.5 580.1 386.0 580.9 387.0 581.1 387.5 579.7 389.0 577.5 390.7 570.5 394.2 565.0 396.3 558.0 397.7 556.0 398.0 554.0 397.7 548.5 396.3 542.0 394.3 536.0 391.8 533.5 390.4 531.1 388.5 530.5 387.5 530.7 387.0 531.6 386.0 534.0 384.3 536.0 383.2 539.0 381.9 545.5 379.7 551.0 378.2Z" stroke="#898989"/><path d="M619.9 76.5 622.5 76.5 625.0 76.9 626.9 77.5 628.7 78.5 629.7 79.5 630.4 81.0 630.5 82.9 630.0 83.9 628.6 85.0 626.1 86.0 623.6 86.5 620.5 86.7 617.5 86.6 615.0 86.3 612.5 85.5 610.8 84.5 609.4 83.0 608.9 81.5 609.1 80.0 610.0 78.7 611.1 78.0 613.0 77.4ZM547.0 84.5 550.0 84.1 554.5 84.0 557.5 84.3 560.0 84.9 561.4 85.5 562.4 86.5 562.6 87.5 562.4 89.5 562.0 90.5 560.8 91.5 559.0 92.1 555.5 92.9 553.5 93.1 551.0 93.2 545.5 92.5 544.3 92.0 543.3 91.0 543.0 90.0 543.1 89.0 543.7 87.0 544.3 86.0 545.5 85.1ZM639.2 180.0 641.5 179.7 644.5 179.7 649.5 180.3 653.0 181.2 655.0 181.9 656.6 183.0 657.0 183.5 657.1 184.0 656.0 185.5 654.0 186.8 650.5 188.3 647.0 189.3 642.5 190.2 640.5 190.3 637.5 190.1 632.5 189.3 630.0 188.6 627.6 187.5 626.1 186.5 625.7 186.0 625.9 185.5 627.9 184.0 630.5 182.8 636.5 180.7ZM604.0 181.0 608.5 181.1 613.0 181.6 618.0 183.2 620.5 184.5 621.0 185.0 621.1 185.5 620.3 186.5 618.1 188.0 615.5 189.4 612.0 190.8 606.5 192.3 604.0 192.8 600.5 192.9 598.0 192.6 591.5 191.0 588.9 190.0 587.7 189.0 587.7 188.5 588.0 188.0 589.0 187.0 594.0 183.8 598.0 182.3 602.0 181.3ZM466.5 182.0 468.5 181.6 470.0 181.7 472.0 182.3 473.5 183.1 475.0 184.5 475.7 185.5 475.9 186.5 475.4 188.0 474.5 189.1 473.0 190.1 471.5 190.9 469.5 191.5 468.0 191.5 466.5 191.3 465.0 190.8 463.5 190.0 462.3 189.0 461.5 188.0 461.1 187.0 461.2 186.0 461.7 185.0 463.0 183.7 464.5 182.8ZM546.3 199.5 550.0 199.7 554.0 200.4 557.0 201.6 559.0 203.0 559.4 204.0 559.3 204.5 558.5 205.5 556.5 206.9 553.5 208.3 550.0 209.6 547.5 210.2 545.0 210.5 541.5 210.4 537.5 209.9 534.5 209.2 531.5 207.9 530.5 207.3 529.8 206.5 530.0 205.5 530.8 204.5 532.5 203.3 535.5 201.8 538.0 200.8 540.0 200.3 544.5 199.6ZM615.6 218.5 617.0 218.2 618.0 218.2 619.5 218.6 622.0 219.7 624.0 220.8 625.5 221.9 626.6 223.0 627.3 224.0 626.2 225.5 624.5 226.9 622.5 228.0 620.5 228.8 618.5 229.2 617.5 229.2 615.0 228.7 613.0 227.9 611.5 227.1 610.1 226.0 609.1 225.0 608.6 224.0 609.7 222.5 612.0 220.5 614.0 219.2ZM461.9 220.0 466.0 219.5 479.0 221.3 487.0 223.5 489.5 224.5 490.4 225.0 490.8 225.5 490.4 226.0 488.8 227.0 485.0 228.5 470.5 231.1 466.5 231.6 465.0 231.7 455.5 230.3 449.0 228.6 446.0 227.7 443.3 226.5 442.7 226.0 442.5 225.5 444.6 224.0 447.5 222.9 455.5 220.9ZM424.2 227.5 428.0 227.2 430.5 227.4 433.0 228.2 434.3 229.0 434.6 229.5 434.5 230.0 434.1 230.5 432.5 231.5 426.5 233.4 421.0 234.6 416.5 234.6 413.5 234.4 409.5 233.7 407.5 233.0 406.9 232.5 406.8 232.0 407.6 231.0 408.5 230.4 410.0 229.8 415.5 228.6ZM616.9 266.5 618.5 266.4 620.5 267.3 621.7 268.5 621.9 269.0 621.7 269.5 620.5 270.7 618.5 271.5 617.0 271.5 615.0 270.7 613.7 269.5 613.5 269.0 613.7 268.5 615.0 267.3ZM552.9 274.0 554.0 273.7 555.0 273.8 556.0 274.3 557.4 275.5 557.6 276.0 557.4 276.5 556.0 277.8 554.5 278.4 553.5 278.4 552.0 277.9 551.0 277.0 550.5 276.0 551.2 275.0ZM621.9 374.0 627.5 374.8 633.5 376.7 642.0 380.1 644.0 381.2 645.5 382.5 646.3 383.5 646.8 384.5 646.7 385.0 646.0 386.0 644.9 387.0 643.0 388.2 637.5 390.8 634.5 391.9 626.0 394.3 622.0 395.0 620.0 394.7 612.5 393.3 607.5 391.7 599.0 387.4 597.5 386.3 596.5 385.0 596.3 384.5 596.5 384.0 598.0 382.3 600.0 380.8 603.0 379.3 612.0 376.1 617.5 374.7ZM554.5 378.0 556.5 377.9 561.5 378.7 565.0 379.4 568.0 380.3 573.5 382.7 576.0 384.0 578.5 386.0 579.3 387.0 579.4 387.5 578.2 389.0 576.5 390.3 570.0 393.8 564.5 395.8 558.0 397.2 556.0 397.4 553.0 396.9 547.0 395.3 542.5 393.8 537.0 391.4 534.4 390.0 533.0 389.0 532.2 388.0 531.9 387.5 532.1 387.0 533.0 386.0 535.0 384.6 539.5 382.3 543.5 380.9 549.0 379.2Z" stroke="#8b8b8b"/><path d="M617.4 78.0 620.0 77.6 622.0 77.6 624.0 77.9 625.3 78.5 626.4 79.5 626.9 80.5 627.1 82.5 626.8 83.5 626.0 84.3 625.0 84.8 622.0 85.5 618.0 85.6 616.5 85.3 615.0 84.7 614.1 84.0 613.5 83.0 612.7 81.0 612.7 80.0 613.0 79.5 613.7 79.0ZM550.9 85.5 554.5 85.3 557.0 85.6 558.1 86.0 559.0 86.5 559.3 87.0 559.4 88.0 558.8 89.0 558.0 89.8 555.9 91.0 554.5 91.6 551.5 92.0 547.5 91.4 546.3 91.0 545.8 90.5 545.6 90.0 545.7 89.0 546.3 87.5 547.0 86.6 548.0 86.1ZM639.4 180.5 641.0 180.2 644.0 180.2 649.0 180.8 652.0 181.6 654.0 182.3 655.1 183.0 655.8 184.0 655.0 185.2 653.1 186.5 650.0 187.8 646.5 188.9 642.5 189.7 640.5 189.8 637.5 189.6 633.5 188.9 631.0 188.2 629.0 187.3 627.9 186.5 627.5 186.0 627.7 185.5 628.7 184.5 631.0 183.3 636.5 181.3ZM601.7 182.0 603.5 181.6 605.5 181.5 612.0 182.1 614.5 182.8 617.0 183.8 618.3 184.5 618.9 185.0 619.1 185.5 618.5 186.5 616.4 188.0 614.0 189.3 611.5 190.3 604.5 192.1 601.0 192.4 598.5 192.1 591.5 190.1 590.3 189.5 589.7 189.0 589.4 188.5 590.0 187.5 591.1 186.5 594.5 184.3 597.0 183.3ZM466.5 182.5 468.5 182.1 470.0 182.2 471.5 182.7 473.0 183.5 474.2 184.5 475.1 186.0 475.1 187.0 474.6 188.0 473.6 189.0 472.5 189.8 471.0 190.5 469.5 190.9 468.0 191.1 466.5 190.8 464.0 189.7 463.1 189.0 462.3 188.0 461.9 187.0 461.9 186.0 462.5 185.0 463.5 184.0 465.0 183.1ZM545.2 200.0 549.0 200.1 553.0 200.8 555.5 201.7 557.5 203.0 558.0 204.0 557.6 205.0 556.0 206.4 553.5 207.7 551.0 208.8 548.0 209.6 545.5 210.0 542.5 210.0 539.0 209.6 535.5 208.9 533.0 207.8 531.5 206.5 531.3 206.0 531.5 205.5 532.2 204.5 533.6 203.5 536.0 202.2 539.5 200.9ZM615.8 219.0 618.0 218.7 621.0 219.8 624.5 221.8 625.8 223.0 626.5 224.0 625.5 225.4 624.0 226.6 622.0 227.7 620.0 228.4 617.5 228.7 615.5 228.3 613.5 227.5 611.0 226.0 610.0 225.0 609.3 224.0 610.5 222.5 612.5 220.7 614.0 219.8ZM462.8 220.5 466.0 220.1 478.5 221.9 481.5 222.7 485.2 224.0 487.1 225.0 487.6 225.5 487.3 226.0 486.0 227.0 483.5 227.9 473.0 230.1 467.5 230.9 466.0 231.1 463.5 230.9 455.5 229.5 451.0 228.3 447.6 227.0 446.0 226.0 445.6 225.5 445.9 225.0 446.6 224.5 448.0 223.9 454.5 222.0ZM423.4 229.0 427.7 229.0 429.4 229.5 429.8 230.0 429.4 230.5 428.5 231.0 424.0 232.6 421.5 233.2 419.5 233.4 415.5 232.9 414.2 232.5 413.3 232.0 413.2 231.5 415.2 230.5 420.0 229.3ZM616.2 267.5 617.5 267.1 618.5 267.1 620.1 268.0 620.8 269.0 620.1 270.0 619.0 270.6 618.0 270.9 617.0 270.8 615.4 270.0 614.6 269.0 615.0 268.3ZM553.0 274.5 554.0 274.2 555.5 274.6 556.6 275.5 556.8 276.0 556.6 276.5 555.5 277.5 554.5 277.9 553.5 277.9 552.5 277.5 551.8 277.0 551.3 276.0 552.0 275.1ZM619.1 375.0 622.0 374.6 626.0 375.1 629.0 375.9 633.0 377.3 639.5 379.8 642.5 381.4 643.9 382.5 644.9 383.5 645.4 384.5 645.2 385.0 644.4 386.0 642.5 387.5 637.0 390.2 634.0 391.3 628.0 393.2 623.5 394.2 621.5 394.3 617.0 393.6 613.0 392.7 608.5 391.3 605.5 389.9 599.5 386.5 598.1 385.0 597.9 384.5 598.1 384.0 598.9 383.0 600.5 381.6 604.0 379.7 612.0 376.8ZM554.7 378.5 556.5 378.4 561.5 379.2 564.5 379.8 567.5 380.8 571.0 382.3 575.0 384.4 577.0 386.0 577.7 387.0 577.9 387.5 577.2 388.5 575.5 390.0 570.5 392.8 565.0 395.1 560.0 396.3 556.5 396.9 555.0 396.7 549.0 395.3 544.0 393.7 538.0 391.1 535.5 389.7 534.5 389.0 533.6 388.0 533.4 387.5 533.6 387.0 534.5 386.0 536.0 384.9 540.5 382.6 549.5 379.7Z" stroke="#8d8d8d"/><path d="M639.7 181.0 643.5 180.7 648.0 181.2 652.5 182.5 653.5 183.0 654.4 184.0 653.8 185.0 652.4 186.0 649.5 187.3 646.5 188.3 641.0 189.3 638.5 189.2 636.0 188.8 633.0 188.0 631.0 187.3 629.7 186.5 629.3 186.0 629.3 185.5 630.5 184.5 632.6 183.5 637.0 181.7ZM602.4 182.5 604.0 182.2 606.0 182.2 612.0 182.8 614.2 183.5 616.1 184.5 617.2 185.5 617.1 186.0 615.5 187.5 613.5 188.7 611.0 189.8 608.0 190.7 605.0 191.5 603.0 191.7 600.5 191.7 598.5 191.4 592.6 189.5 591.3 188.5 591.3 188.0 593.0 186.2 595.5 184.6 598.0 183.7ZM466.7 183.0 468.0 182.7 469.5 182.7 471.0 183.1 472.0 183.5 473.3 184.5 474.0 185.5 474.3 186.5 474.0 187.5 473.2 188.5 472.0 189.4 469.5 190.4 468.5 190.5 467.0 190.4 464.8 189.5 463.1 188.0 462.7 187.0 462.7 186.0 463.4 185.0 464.0 184.4 465.0 183.7ZM545.0 200.5 548.5 200.6 552.0 201.1 554.5 202.0 556.0 203.0 556.6 204.0 556.2 205.0 555.2 206.0 553.0 207.3 550.5 208.4 548.0 209.1 545.5 209.6 543.5 209.6 540.0 209.3 537.0 208.6 534.5 207.6 533.1 206.5 532.9 206.0 533.0 205.5 533.7 204.5 536.5 202.6 540.0 201.4ZM616.2 219.5 618.0 219.3 621.5 220.7 624.0 222.2 625.0 223.0 625.7 224.0 625.0 225.0 623.5 226.2 621.5 227.3 620.0 227.8 618.5 228.1 617.5 228.1 615.5 227.7 614.0 227.2 611.5 225.6 610.1 224.0 611.3 222.5 613.0 221.1 614.5 220.1ZM463.8 221.0 466.5 220.8 478.5 222.8 482.0 224.0 484.0 225.0 484.5 225.5 484.3 226.0 483.6 226.5 481.5 227.3 472.5 229.5 466.5 230.4 463.0 230.2 455.5 228.6 453.0 227.9 449.8 226.5 449.1 226.0 448.7 225.5 449.2 225.0 451.4 224.0 455.5 222.6ZM617.6 268.0 618.1 268.0 619.1 268.5 619.4 269.0 619.1 269.5 618.0 270.0 616.5 269.5 616.1 269.0 616.5 268.5ZM553.4 275.0 554.5 274.9 555.5 275.5 555.9 276.0 555.6 276.5 555.0 277.0 554.0 277.3 553.0 277.0 552.4 276.5 552.3 276.0 552.6 275.5ZM619.9 375.5 622.0 375.2 624.5 375.5 627.5 376.1 630.0 376.9 638.0 380.2 640.5 381.3 642.8 383.0 643.8 384.5 643.3 385.5 642.2 386.5 640.5 387.6 638.0 388.8 631.5 391.4 627.0 392.8 624.0 393.5 622.0 393.7 618.0 393.2 614.0 392.3 609.5 390.8 606.0 389.3 601.0 386.3 600.1 385.5 599.5 384.5 600.1 383.5 601.0 382.5 602.5 381.4 607.5 379.2 614.5 376.8ZM554.9 379.0 556.5 378.9 561.0 379.7 564.0 380.3 567.0 381.3 570.5 382.8 574.0 384.8 575.5 386.0 576.2 387.0 576.4 387.5 575.8 388.5 574.5 389.6 570.0 392.3 564.5 394.7 560.0 395.8 557.0 396.2 555.5 396.2 549.5 394.8 544.5 393.2 536.8 389.5 535.0 388.0 534.8 387.5 535.0 387.0 535.9 386.0 537.4 385.0 542.0 382.7 549.5 380.3Z" stroke="#909090"/><path d="M640.3 181.5 644.0 181.4 648.0 181.9 651.5 183.1 652.7 184.0 652.7 184.5 651.5 185.5 649.5 186.5 647.5 187.3 644.0 188.2 640.5 188.7 638.5 188.5 636.0 188.1 632.5 186.8 631.3 186.0 631.3 185.5 632.5 184.5 635.0 183.3 638.0 182.1ZM603.4 183.0 606.5 182.9 611.5 183.5 614.0 184.5 615.2 185.5 615.2 186.0 614.4 187.0 612.5 188.3 607.5 190.2 605.0 190.8 603.0 191.1 601.0 191.1 599.0 190.8 594.1 189.0 593.4 188.5 593.2 188.0 593.4 187.5 594.5 186.3 596.5 185.1 599.0 184.2ZM467.1 183.5 468.5 183.2 469.5 183.3 471.0 183.7 472.0 184.3 472.7 185.0 473.3 186.0 473.4 186.5 473.0 187.5 471.3 189.0 469.0 189.9 467.0 189.8 465.0 188.9 463.7 187.5 463.5 186.5 463.6 186.0 464.4 185.0 465.0 184.5ZM542.0 201.5 544.5 201.1 546.0 201.0 548.5 201.2 551.0 201.6 553.0 202.2 554.3 203.0 555.1 204.0 555.0 204.5 554.3 205.5 552.5 206.8 550.5 207.8 548.0 208.6 545.5 209.0 544.0 209.1 541.5 208.9 539.0 208.5 537.0 207.9 535.5 207.1 534.8 206.5 534.5 206.0 534.5 205.5 535.2 204.5 537.3 203.0 539.5 202.1ZM616.9 220.0 618.5 220.1 621.5 221.3 623.5 222.5 624.9 224.0 624.1 225.0 623.0 225.8 621.5 226.6 619.5 227.4 617.5 227.6 616.0 227.3 614.0 226.5 612.0 225.2 611.0 224.0 611.7 223.0 613.5 221.5 615.5 220.4ZM465.9 221.5 477.5 223.7 479.8 224.5 480.7 225.0 481.1 225.5 480.7 226.0 479.5 226.5 474.0 228.2 470.5 229.0 466.0 229.7 462.0 229.2 454.5 227.1 453.0 226.3 452.4 225.5 453.8 224.5 456.5 223.4 463.5 221.8ZM553.9 276.0 554.2 276.0ZM620.9 376.0 622.0 375.9 625.5 376.4 627.5 376.8 630.0 377.7 639.0 381.7 641.0 383.0 641.9 384.0 642.1 384.5 641.5 385.5 640.3 386.5 636.0 388.8 629.5 391.3 623.5 392.9 622.0 393.1 616.5 392.2 613.0 391.2 609.0 389.7 605.5 388.1 602.4 386.0 601.4 385.0 601.2 384.5 601.7 383.5 602.8 382.5 604.4 381.5 610.5 378.9 616.5 376.9ZM555.4 379.5 557.0 379.5 561.0 380.2 563.5 380.8 566.5 381.8 569.5 383.2 572.6 385.0 574.4 386.5 574.9 387.5 574.3 388.5 573.2 389.5 568.5 392.3 564.0 394.3 560.0 395.3 557.0 395.7 555.5 395.7 549.5 394.2 545.0 392.7 537.7 389.0 536.6 388.0 536.3 387.5 536.6 387.0 538.5 385.3 542.5 383.3 550.0 380.7Z" stroke="#929292"/><path d="M639.0 182.5 640.5 182.1 642.0 182.0 646.0 182.3 648.0 182.7 649.5 183.3 650.6 184.0 650.7 184.5 650.3 185.0 648.6 186.0 645.5 187.1 641.5 188.0 638.5 187.8 636.5 187.4 635.0 186.8 633.7 186.0 633.5 185.5 633.9 185.0 635.5 184.0ZM468.0 184.0 469.5 184.0 470.8 184.5 471.9 185.5 472.3 186.5 471.8 187.5 471.0 188.2 470.0 188.8 468.5 189.2 467.0 189.0 465.8 188.5 464.8 187.5 464.5 186.5 465.0 185.6 465.6 185.0 466.5 184.5ZM602.5 184.0 604.0 183.7 605.5 183.6 609.5 184.1 612.0 184.8 613.0 185.5 613.3 186.0 612.6 187.0 611.5 187.7 609.5 188.7 607.0 189.6 603.5 190.3 600.0 190.1 598.0 189.5 595.9 188.5 595.4 188.0 595.4 187.5 596.4 186.5 597.5 185.8ZM542.6 202.0 545.5 201.6 548.0 201.8 550.0 202.1 552.5 203.1 553.4 204.0 553.5 204.5 552.8 205.5 551.4 206.5 549.5 207.4 547.5 208.0 545.5 208.5 544.0 208.5 540.0 208.0 537.2 207.0 536.2 206.0 536.1 205.5 536.7 204.5 538.1 203.5 540.0 202.7ZM615.7 221.0 617.5 220.6 619.0 220.9 622.3 222.5 623.5 223.4 623.9 224.0 623.5 224.6 622.3 225.5 619.5 226.7 617.5 227.0 615.0 226.3 613.0 225.2 611.9 224.0 612.5 223.1 613.5 222.2ZM464.2 222.5 466.0 222.3 468.5 222.8 475.1 224.5 476.2 225.0 476.7 225.5 476.2 226.0 473.9 227.0 469.5 228.3 466.0 228.9 463.0 228.5 457.6 226.5 456.6 226.0 456.2 225.5 456.7 225.0 458.0 224.4ZM618.9 377.0 622.0 376.5 625.5 377.1 628.0 377.7 638.0 382.4 639.6 383.5 640.2 384.5 640.0 385.0 638.9 386.0 635.0 388.2 630.5 390.2 625.0 391.9 622.5 392.4 621.5 392.4 617.0 391.6 614.0 390.8 609.0 388.7 606.0 387.2 604.0 385.9 602.9 384.5 603.1 384.0 604.1 383.0 608.0 380.9 614.5 378.2ZM553.3 380.5 555.5 380.1 557.0 380.1 561.0 380.8 564.5 381.8 568.0 383.3 570.5 384.7 572.5 386.2 573.4 387.5 573.0 388.2 572.0 389.1 567.5 391.9 563.5 393.8 560.5 394.6 556.0 395.1 552.0 394.2 547.0 392.7 544.0 391.5 539.5 389.0 538.3 388.0 538.0 387.5 538.2 387.0 540.0 385.5 542.5 384.2 549.0 381.7Z" stroke="#959595"/><path d="M640.1 183.0 642.5 182.8 645.1 183.0 647.1 183.5 648.1 184.0 648.5 184.5 647.3 185.5 644.5 186.6 641.5 187.2 639.0 187.1 637.0 186.5 636.2 186.0 635.7 185.5 636.0 185.0 637.0 184.3ZM604.2 184.5 607.0 184.7 610.0 185.5 610.8 186.0 610.8 186.5 609.5 187.5 606.5 188.9 603.5 189.5 600.5 189.2 599.0 188.6 598.0 188.0 597.8 187.5 598.9 186.5 602.0 185.1ZM467.6 185.0 469.0 184.9 470.0 185.2 470.8 186.0 471.0 186.5 470.8 187.0 469.5 188.0 468.5 188.3 467.5 188.2 466.5 187.7 465.9 187.0 465.8 186.5 466.5 185.6ZM543.6 202.5 546.0 202.4 549.0 202.8 550.9 203.5 551.5 204.0 551.7 204.5 551.5 205.0 550.4 206.0 549.0 206.8 547.0 207.4 544.5 207.8 541.0 207.4 539.6 207.0 538.5 206.4 538.1 206.0 537.9 205.5 538.1 205.0 539.0 204.1 540.1 203.5ZM616.4 221.5 618.0 221.3 619.5 221.8 621.8 223.0 622.8 224.0 621.5 225.2 619.0 226.2 617.5 226.4 615.5 225.9 613.9 225.0 612.8 224.0 614.3 222.5ZM464.1 223.5 466.0 223.2 467.3 223.5 470.3 224.5 472.1 225.5 471.7 226.0 470.8 226.5 467.5 227.6 466.0 227.9 463.5 227.6 461.2 226.5 460.2 225.5 460.6 225.0 461.4 224.5ZM619.9 377.5 622.5 377.3 625.5 377.8 628.0 378.5 636.5 382.9 637.5 383.6 638.2 384.5 637.9 385.0 636.7 386.0 632.0 388.7 628.5 390.1 624.5 391.3 622.5 391.7 621.5 391.7 617.0 390.9 614.5 390.1 607.0 386.6 605.5 385.5 604.8 384.5 605.1 384.0 606.2 383.0 610.5 380.7 615.5 378.6ZM553.9 381.0 556.0 380.6 557.0 380.7 560.5 381.4 563.5 382.2 566.5 383.5 569.2 385.0 571.1 386.5 571.7 387.5 571.4 388.0 570.4 389.0 566.5 391.6 563.5 393.1 560.5 394.0 556.0 394.5 552.5 393.7 547.5 392.2 544.5 390.9 541.4 389.0 540.2 388.0 539.8 387.5 540.1 387.0 541.5 385.8 543.9 384.5 549.5 382.2Z" stroke="#979797"/><path d="M640.3 184.0 641.5 183.8 643.0 183.8 644.2 184.0 645.4 184.5 645.3 185.0 644.0 185.6 642.0 186.1 640.5 186.2 639.5 186.0 638.5 185.5 638.4 185.0ZM602.6 186.0 604.0 185.6 605.5 185.6 607.1 186.0 607.8 186.5 607.6 187.0 605.8 188.0 604.5 188.4 603.0 188.4 601.5 188.0 600.8 187.5 601.0 187.0ZM543.1 203.5 545.0 203.2 547.2 203.5 548.7 204.0 549.3 204.5 549.2 205.0 548.0 206.0 545.5 206.9 544.0 207.0 542.5 206.8 541.0 206.2 540.2 205.5 540.3 205.0 540.8 204.5ZM615.8 222.5 617.5 222.0 618.5 222.2 620.4 223.0 621.6 224.0 620.5 224.9 619.0 225.5 618.0 225.7 616.5 225.5 615.0 224.9 614.0 224.0 614.5 223.3ZM464.0 225.0 466.0 224.6 467.2 225.0 467.7 225.5 467.3 226.0 466.5 226.4 465.2 226.5 464.0 226.1 463.5 225.7 463.4 225.5ZM621.3 378.0 622.0 377.9 624.5 378.3 628.0 379.4 634.2 383.0 635.5 384.0 635.8 384.5 635.6 385.0 634.5 386.0 631.0 388.2 627.5 389.6 623.5 390.8 622.0 391.0 620.5 390.8 617.0 390.1 614.5 389.2 609.0 386.3 607.8 385.5 607.0 384.5 607.9 383.5 609.3 382.5 613.5 380.3 617.5 378.8ZM554.6 381.5 556.0 381.3 557.5 381.4 561.0 382.1 563.5 382.9 565.5 383.8 567.5 385.0 569.3 386.5 569.9 387.5 568.6 389.0 565.5 391.3 563.0 392.6 560.5 393.4 556.0 393.9 551.5 392.7 548.0 391.6 545.5 390.5 543.2 389.0 542.0 388.0 541.7 387.5 542.0 387.0 544.0 385.5 549.0 383.2 551.5 382.3Z" stroke="#9a9a9a"/><path d="M544.2 205.0 545.0 204.8 545.3 205.0 545.0 205.3ZM617.0 223.0 618.5 223.0 619.5 223.5 620.1 224.0 619.5 224.5 618.5 224.9 617.5 224.9 616.5 224.7 615.4 224.0 616.0 223.4ZM619.8 379.0 622.5 378.7 625.0 379.2 627.5 380.1 630.0 381.5 632.8 383.5 633.6 384.5 633.4 385.0 631.9 386.5 629.5 387.9 626.5 389.1 623.0 390.1 622.0 390.2 620.0 389.9 617.5 389.4 615.5 388.7 611.4 386.5 610.1 385.5 609.3 384.5 609.6 384.0 610.6 383.0 613.0 381.5 616.5 379.9ZM555.6 382.0 557.0 382.1 560.0 382.6 563.5 383.7 566.5 385.5 567.6 386.5 568.1 387.5 567.0 389.0 564.4 391.0 562.0 392.3 559.5 392.9 556.0 393.2 551.0 391.8 548.0 390.7 546.0 389.7 544.4 388.5 543.7 387.5 544.0 387.0 545.5 385.9 550.0 383.6 552.5 382.7Z" stroke="#9d9d9d"/><path d="M621.6 379.5 624.0 379.9 627.0 381.0 629.5 382.5 631.3 384.0 631.6 384.5 631.1 385.5 629.9 386.5 628.2 387.5 623.5 389.1 622.0 389.4 621.0 389.3 618.0 388.6 615.5 387.7 612.7 386.0 611.7 385.0 611.4 384.5 611.6 384.0 612.6 383.0 615.5 381.3 618.5 380.1ZM554.3 383.0 556.5 382.7 559.5 383.3 562.0 384.0 564.9 385.5 566.0 386.5 566.6 387.5 565.5 389.0 564.0 390.3 562.0 391.4 560.0 392.1 556.0 392.5 550.5 390.9 548.5 390.0 547.0 389.1 545.9 388.0 545.7 387.5 546.6 386.5 549.5 384.7 551.5 383.8Z" stroke="#a0a0a0"/><path d="M620.8 380.5 622.0 380.3 623.0 380.5 626.5 381.9 628.2 383.0 629.3 384.0 629.6 384.5 629.4 385.0 628.4 386.0 626.8 387.0 624.5 387.9 622.0 388.5 618.5 387.8 616.0 386.7 614.8 386.0 613.7 385.0 613.4 384.5 613.6 384.0 614.7 383.0 616.5 381.9 618.5 381.1ZM555.8 383.5 559.5 384.1 562.5 385.1 564.5 386.5 565.1 387.5 564.9 388.0 563.5 389.4 561.9 390.5 560.0 391.2 558.0 391.6 555.5 391.6 552.0 390.5 550.0 389.7 548.9 389.0 547.9 388.0 547.6 387.5 548.0 387.0 549.5 385.8 551.5 384.7 554.0 383.9Z" stroke="#a0a0a0"/><path d="M620.8 381.5 622.0 381.3 622.5 381.4 625.0 382.5 627.1 384.0 627.4 384.5 627.2 385.0 626.5 385.7 625.1 386.5 622.0 387.5 619.5 386.9 617.3 386.0 615.9 385.0 615.6 384.5 615.9 384.0 618.0 382.5ZM555.1 384.5 556.5 384.4 560.5 385.4 562.5 386.3 563.2 387.0 563.5 387.5 562.9 388.5 562.0 389.2 560.5 390.0 559.0 390.5 556.0 390.8 553.0 389.9 550.5 388.7 549.8 388.0 549.5 387.5 550.3 386.5 551.5 385.7 553.0 385.1Z" stroke="#a0a0a0"/><path d="M620.1 383.0 621.5 382.6 622.5 382.7 624.0 383.5 624.9 384.5 624.0 385.5 622.5 386.2 622.0 386.3 620.6 386.0 619.0 385.2 618.2 384.5 619.0 383.6ZM555.2 385.5 556.0 385.3 558.8 386.0 560.5 386.7 561.5 387.5 560.6 388.5 559.0 389.2 556.0 389.8 555.0 389.5 552.6 388.5 551.9 388.0 551.6 387.5 552.6 386.5Z" stroke="#a0a0a0"/></g><g fill="#3aaee4" fill-opacity="0.55"><ellipse cx="467" cy="108.6" rx="18.5" ry="8.3" transform="rotate(0 467 108.6)"/><ellipse cx="466.7" cy="357.2" rx="15" ry="7" transform="rotate(0 466.7 357.2)"/><path transform="rotate(0 462.5 383.8)" d="M439.0 383.8Q449.575 378.685 462.5 374.5Q475.425 378.685 486.0 383.8Q475.425 388.915 462.5 393.1Q449.575 388.915 439.0 383.8Z"/><ellipse cx="605.3" cy="190.3" rx="14.5" ry="7.3" transform="rotate(-8 605.3 190.3)"/><ellipse cx="634.6" cy="184.3" rx="14.5" ry="6.8" transform="rotate(-6 634.6 184.3)"/><path transform="rotate(-3 457 226)" d="M417 226Q435.0 219.125 457 213.5Q479.0 219.125 497 226Q479.0 232.875 457 238.5Q435.0 232.875 417 226Z"/></g><g fill="none" stroke-width="0.8" stroke-linejoin="round"><path d="M459.6 99.0 463.0 98.7 467.0 98.6 477.0 99.2 485.0 100.2 491.0 101.6 493.9 103.0 495.0 104.0 495.7 105.0 496.1 107.0 495.8 111.0 495.0 112.5 494.1 113.5 492.7 114.5 491.0 115.3 487.5 116.3 480.3 117.5 478.2 118.0 477.2 118.5 476.8 119.0 476.3 121.5 475.5 123.0 474.0 124.6 472.0 125.8 469.5 126.8 467.0 127.2 464.5 127.1 462.5 126.7 460.0 125.5 457.5 123.5 456.0 121.5 455.0 118.5 454.3 118.0 452.5 117.5 446.0 116.2 442.4 115.0 440.7 114.0 439.7 113.0 439.1 112.0 438.7 110.5 438.9 107.5 439.5 105.5 440.6 104.0 443.0 102.3 445.5 101.2 448.0 100.6 453.5 99.7ZM399.1 118.0 400.5 117.7 402.0 118.1 403.0 119.0 403.9 120.5 404.2 122.0 404.0 123.7 403.2 125.0 402.0 125.9 400.5 126.1 399.0 125.6 398.0 124.8 397.2 123.5 396.8 122.0 397.0 120.5 397.8 119.0ZM636.4 122.5 638.0 122.2 640.0 122.3 642.0 122.8 643.5 123.5 644.7 124.5 645.3 125.5 645.4 127.0 645.0 128.0 644.0 129.0 643.3 129.5 642.0 130.0 640.5 130.3 637.5 130.1 636.0 129.7 634.4 129.0 633.5 128.3 632.9 127.5 632.5 126.5 632.6 125.5 633.1 124.5 634.0 123.6 635.0 123.0ZM491.9 157.0 496.0 157.2 497.5 157.7 498.7 158.5 499.4 160.0 499.5 162.0 499.3 163.0 498.6 164.0 497.5 164.6 495.5 165.1 490.0 165.4 486.5 165.1 485.0 164.5 484.3 164.0 483.8 163.0 483.7 161.5 483.9 159.5 484.6 158.5 485.5 157.9 487.0 157.4ZM394.5 219.1 399.4 217.5 406.0 214.7 417.9 211.5 427.0 208.3 433.5 206.8 443.0 203.5 449.0 200.5 451.0 199.2 452.0 198.0 452.3 196.5 452.4 193.0 452.8 190.5 453.7 188.0 455.3 185.0 456.9 183.0 458.5 181.7 460.5 180.5 462.5 179.9 470.0 179.4 472.0 179.5 473.5 179.9 479.0 182.1 482.0 182.9 487.5 187.6 489.0 188.4 491.0 188.9 493.5 188.9 497.0 188.7 502.0 187.9 507.5 187.5 512.0 186.7 519.0 186.9 528.5 186.5 535.5 187.6 545.0 187.6 547.5 187.9 559.5 190.8 566.5 193.4 568.0 193.6 570.0 193.6 573.5 192.8 581.5 190.0 583.4 189.0 587.5 186.2 590.5 184.7 595.0 182.8 599.0 181.8 608.5 180.3 615.5 180.4 617.0 180.2 624.5 177.2 628.0 176.3 631.5 175.7 636.0 175.2 639.5 175.2 650.0 176.3 653.0 176.0 658.1 175.0 658.8 174.5 659.0 174.0 658.9 167.5 659.2 165.5 659.9 163.5 660.8 161.5 662.6 158.5 664.5 156.1 666.0 154.7 666.7 155.5 667.6 158.0 668.2 160.5 668.4 163.0 668.2 165.5 667.8 168.0 666.9 171.0 665.3 174.5 665.5 175.5 667.2 177.5 667.3 178.5 666.8 179.5 665.9 180.5 663.5 182.1 660.5 183.4 655.5 184.7 650.0 188.7 647.0 190.2 644.0 191.2 640.0 192.3 636.0 192.9 632.0 193.2 626.5 193.0 625.0 193.1 623.8 193.5 618.5 196.3 614.5 197.8 607.0 199.8 598.6 201.0 595.8 202.0 590.2 204.5 588.5 205.5 587.8 206.5 587.3 208.0 584.9 211.0 576.8 219.0 572.5 222.5 566.0 226.4 557.0 230.6 546.0 235.3 544.0 235.8 538.0 236.1 534.5 236.7 526.7 239.5 524.7 240.5 523.0 241.7 521.1 243.5 519.4 246.0 518.5 248.5 517.5 253.0 517.4 255.0 517.7 256.0 518.5 256.9 520.0 258.1 520.5 259.0 520.7 260.0 520.4 262.5 519.0 266.0 518.0 267.3 515.5 269.8 513.2 272.5 510.4 275.0 509.5 276.0 509.0 277.0 506.1 284.5 504.9 286.5 503.2 288.0 499.5 290.5 498.4 291.5 497.4 293.0 495.2 297.5 493.5 299.6 492.0 300.7 488.5 302.1 487.3 303.0 486.7 304.0 486.6 306.5 486.1 307.5 484.7 309.0 482.0 310.7 476.5 312.8 473.5 313.8 470.5 314.4 467.0 314.7 459.0 312.9 457.0 312.3 453.5 310.4 452.0 309.1 451.1 308.0 450.6 307.0 450.6 306.0 451.5 304.5 453.8 301.5 454.2 300.5 454.2 299.5 453.2 296.5 450.5 291.0 448.2 283.0 447.0 277.7 445.2 273.5 445.1 272.5 445.3 271.5 446.9 268.5 447.4 267.0 447.3 265.0 446.5 259.0 445.5 256.5 442.9 253.0 441.0 251.3 439.0 250.3 437.5 249.9 435.0 249.7 430.5 249.8 423.0 250.5 420.5 251.0 417.5 252.0 416.9 252.5 416.9 253.0 417.7 255.5 417.7 257.0 417.2 258.5 416.0 260.0 414.5 261.2 412.5 262.2 409.5 263.2 405.0 264.4 403.9 265.0 403.7 265.5 403.9 266.0 406.0 268.2 406.9 269.5 407.5 271.0 407.9 273.0 408.1 276.0 407.9 278.0 407.2 280.0 406.3 281.5 404.5 283.5 402.5 285.3 401.0 286.4 399.5 287.0 398.5 287.1 397.5 286.8 396.0 286.1 394.5 285.0M394.5 267.2 396.4 265.5 396.8 264.5 396.1 263.5 394.5 262.5M598.5 271.0 602.0 270.7 607.5 270.8 610.0 271.0 611.5 271.5 612.2 272.0 612.6 273.0 612.4 274.5 611.9 275.5 611.2 276.0 609.0 276.7 603.0 276.9 599.0 276.5 597.6 276.0 596.9 275.5 596.4 274.5 596.3 273.5 596.4 272.5 596.7 272.0 597.3 271.5ZM461.8 346.0 465.0 345.6 468.0 345.6 472.5 346.4 477.5 347.6 481.5 349.1 484.5 350.7 487.1 352.5 488.8 354.5 489.3 355.5 489.6 357.0 489.4 358.0 489.0 359.0 487.5 361.0 485.0 363.5 483.5 364.6 478.9 367.5 478.4 368.5 478.1 371.0 478.3 372.0 478.7 372.5 479.5 373.0 482.3 374.0 492.5 376.9 506.5 379.6 509.0 380.3 511.3 381.5 512.4 382.5 512.9 383.5 512.6 384.5 511.6 385.5 509.5 386.8 507.0 387.9 504.5 388.7 495.5 390.1 482.0 393.9 478.5 394.7 471.5 395.7 466.0 396.3 463.0 396.3 458.0 395.8 451.5 394.8 446.0 393.7 442.5 392.8 438.0 391.2 435.0 389.9 432.7 388.5 430.7 386.5 430.1 385.5 429.7 384.0 429.7 383.0 430.1 382.0 430.7 381.0 431.7 380.0 434.5 378.3 439.0 376.3 445.0 374.1 452.5 372.5 453.7 372.0 454.2 371.5 454.5 371.0 454.6 368.5 454.5 367.5 454.2 367.0 453.0 366.0 449.0 363.8 446.9 362.5 445.3 361.0 444.2 359.5 443.7 358.0 443.7 357.0 443.9 356.0 444.7 354.5 445.9 353.0 447.5 351.6 451.5 349.3 456.5 347.3ZM603.4 379.5 606.0 379.5 612.0 380.3 618.5 380.4 629.5 381.3 632.2 382.0 634.4 383.0 636.6 384.5 637.1 385.5 636.9 386.0 636.1 386.5 633.0 387.3 628.0 389.1 625.0 389.6 619.0 389.5 613.0 389.7 605.0 390.4 590.5 389.1 586.6 388.0 583.8 386.5 583.2 386.0 583.1 385.5 583.3 385.0 584.4 384.0 586.8 382.5 589.8 381.5ZM554.6 382.5 564.0 382.1 567.0 382.2 571.5 383.1 574.8 384.0 577.4 385.0 578.0 385.5 577.8 386.0 573.6 388.0 570.5 389.2 567.0 390.1 561.5 390.7 556.0 391.0 553.0 390.8 549.5 390.1 546.0 389.0 544.3 388.0 543.9 387.5 543.6 386.5 543.9 386.0 544.9 385.0 547.0 383.9 550.0 383.1Z" stroke="#2a3c9a" stroke-width="0.78"/><path d="M461.9 99.0 467.0 98.8 477.0 99.4 484.0 100.3 488.0 101.1 490.5 101.9 493.0 103.2 493.9 104.0 494.5 105.0 494.8 106.0 494.9 107.5 494.7 110.0 494.4 111.5 493.8 112.5 492.9 113.5 491.4 114.5 490.0 115.2 486.5 116.2 479.0 117.5 477.0 118.0 476.2 118.5 475.9 119.0 475.5 121.0 474.8 122.5 473.0 124.3 471.0 125.4 469.0 126.1 466.5 126.4 464.5 126.3 462.5 125.8 460.5 124.7 458.4 123.0 457.0 121.0 456.1 118.5 455.5 118.0 453.9 117.5 447.0 116.1 443.5 115.0 441.9 114.0 440.8 113.0 440.2 112.0 439.9 110.5 440.2 107.5 440.7 105.5 441.8 104.0 444.0 102.3 446.5 101.3 449.0 100.7 455.0 99.7ZM399.8 119.0 400.5 118.9 401.5 119.2 402.4 120.0 403.0 121.2 403.2 122.5 403.0 123.5 402.5 124.2 401.5 124.9 400.5 125.0 399.2 124.5 398.3 123.5 397.9 122.5 397.8 121.5 398.1 120.5 398.8 119.5ZM637.2 123.5 638.5 123.3 640.0 123.5 641.5 124.0 642.3 124.5 643.0 125.3 643.3 126.0 643.3 127.0 643.0 127.5 642.5 128.1 641.5 128.7 639.5 129.1 637.5 128.9 635.4 128.0 634.5 127.0 634.3 126.5 634.4 125.5 635.5 124.2ZM487.3 158.0 489.5 157.7 493.5 157.5 495.0 157.6 496.6 158.0 497.5 158.5 498.3 159.5 498.5 161.5 498.1 163.0 497.0 164.0 495.5 164.5 494.0 164.7 489.0 164.8 487.0 164.6 486.0 164.2 485.2 163.5 484.9 163.0 484.8 162.0 485.0 160.0 485.5 159.0 486.1 158.5ZM394.5 220.3 400.0 218.6 406.5 215.8 420.0 212.1 427.0 209.6 434.0 207.9 444.1 204.5 452.8 201.0 454.0 200.0 454.6 199.0 454.6 197.5 454.0 194.0 454.0 192.0 454.3 190.0 455.3 187.5 456.8 185.0 458.5 183.2 460.5 181.8 462.5 181.1 465.5 180.8 469.5 180.6 471.5 180.9 473.5 181.5 482.0 185.5 486.5 190.4 487.5 191.0 489.0 191.5 491.0 191.5 496.5 191.0 503.0 189.4 511.5 188.6 527.5 188.1 534.5 188.9 541.0 188.9 546.5 189.2 557.5 191.8 565.0 194.4 567.0 194.7 569.0 194.7 571.0 194.4 573.5 193.7 581.5 190.6 583.5 189.5 587.5 186.6 590.0 185.2 594.5 183.3 598.5 182.1 608.0 180.6 617.0 180.6 618.5 180.1 622.5 178.2 625.5 177.2 629.0 176.3 633.0 175.7 639.5 175.5 650.0 176.6 652.0 176.5 658.5 175.4 659.3 175.0 659.7 174.0 659.5 169.0 659.8 165.5 661.2 162.0 663.4 158.5 665.0 156.6 665.5 156.2 666.0 156.1 666.7 157.5 667.2 159.0 667.6 161.0 667.8 163.0 667.7 165.0 667.2 168.0 666.4 170.5 664.7 174.0 664.4 175.0 664.8 176.0 666.2 177.5 666.4 178.5 665.6 180.0 664.4 181.0 663.0 181.9 660.0 183.2 655.1 184.5 654.0 185.2 651.5 187.4 649.5 188.7 646.0 190.3 643.0 191.3 639.0 192.2 635.0 192.8 631.0 192.9 626.0 192.7 624.5 192.9 618.0 196.2 613.5 197.8 606.0 199.7 598.0 200.7 590.5 203.3 584.7 205.0 583.7 205.5 583.2 206.0 583.1 206.5 583.4 208.0 583.1 209.0 582.3 210.5 581.1 212.0 575.9 216.5 573.8 219.0 572.1 220.5 565.0 225.2 555.5 229.8 545.5 233.8 543.0 234.3 536.5 234.7 534.0 235.1 524.4 238.5 522.4 239.5 520.9 240.5 518.8 242.5 515.2 246.5 514.3 248.0 513.8 249.5 513.1 254.5 513.1 256.0 513.5 258.3 515.1 262.5 515.1 263.5 514.7 265.0 512.6 268.5 511.0 270.5 510.0 271.3 507.0 273.2 505.8 274.5 505.0 276.5 503.4 282.5 502.3 285.0 501.0 286.5 497.3 289.5 496.0 290.8 495.1 292.5 493.9 295.5 492.5 297.4 491.0 298.3 488.0 299.0 486.6 299.5 485.1 300.5 484.1 301.5 483.6 302.5 483.6 303.0 484.6 305.5 484.8 306.5 484.0 308.0 482.0 309.6 475.0 312.7 471.0 313.7 467.5 314.0 466.0 313.8 459.5 312.5 457.0 311.7 454.5 310.3 452.8 309.0 451.6 307.5 451.3 306.5 451.7 305.5 455.4 301.0 455.8 300.0 455.8 299.0 454.8 296.0 451.8 289.5 450.3 283.0 449.8 276.5 449.2 272.5 449.9 267.0 449.5 259.5 449.1 257.0 448.4 255.0 447.5 253.5 446.4 252.5 444.9 251.5 442.4 250.0 440.0 249.0 437.5 248.5 434.5 248.2 431.5 248.4 425.5 249.0 418.5 250.3 413.0 251.0 411.9 251.5 412.0 252.0 415.0 254.5 415.6 255.5 415.7 256.5 415.4 258.0 414.7 259.0 413.7 260.0 412.2 261.0 409.0 262.3 401.0 263.9 400.0 263.8 399.0 263.5 394.5 261.2M394.5 251.5 394.9 251.0 394.9 250.5 394.5 250.1M394.5 268.7 397.0 266.8 399.0 265.7 400.0 265.7 401.5 266.4 404.0 268.2 405.5 270.0 406.5 272.5 406.9 276.0 406.5 278.5 405.5 280.5 403.0 283.4 400.5 285.3 399.0 285.8 398.0 285.6 396.0 284.6 394.5 283.3M599.8 271.5 607.0 271.5 609.5 271.8 610.6 272.5 610.8 273.5 610.6 274.5 610.3 275.0 609.6 275.5 607.8 276.0 603.0 276.2 600.0 276.0 598.7 275.5 598.1 275.0 597.7 273.5 597.8 272.5 598.3 272.0ZM464.2 346.0 467.0 345.9 470.5 346.4 475.0 347.3 479.5 348.8 482.5 350.2 485.0 351.7 487.2 353.5 488.2 355.0 488.7 356.5 488.6 357.5 488.1 359.0 486.7 361.0 485.3 362.5 483.5 364.0 478.5 367.0 477.6 368.0 477.3 369.0 477.2 371.5 477.6 372.5 479.5 373.5 490.8 377.0 505.5 380.2 508.0 380.9 509.8 382.0 510.5 383.0 510.5 384.0 509.9 385.0 508.7 386.0 507.5 386.7 503.5 388.2 495.0 389.7 479.0 394.2 472.0 395.4 466.0 396.0 462.5 395.9 457.0 395.3 451.0 394.3 446.0 393.3 442.5 392.3 438.5 390.9 435.6 389.5 433.4 388.0 431.6 386.0 431.1 385.0 430.9 384.0 431.0 383.0 431.3 382.0 432.0 381.0 433.1 380.0 436.0 378.2 441.5 375.8 446.0 374.3 453.8 372.5 454.8 372.0 455.2 371.5 455.4 370.5 455.6 368.5 455.4 367.5 455.2 367.0 454.0 366.0 450.0 363.8 447.5 362.2 446.2 361.0 445.1 359.5 444.7 358.5 444.5 357.0 444.9 355.5 445.9 354.0 447.3 352.5 449.0 351.2 453.5 348.8 458.5 347.2 462.0 346.3ZM602.1 380.5 605.5 380.3 612.0 381.3 618.0 381.4 622.5 381.9 628.0 382.2 629.5 382.6 631.0 383.4 631.6 384.0 631.8 385.0 631.2 386.0 629.0 387.4 627.0 388.2 625.0 388.6 619.0 388.5 613.5 388.6 607.0 389.4 605.0 389.5 592.0 388.3 589.1 387.5 587.4 386.5 587.1 386.0 586.9 385.0 587.2 384.5 588.0 383.7 589.5 382.9 592.0 382.2ZM562.0 383.0 565.0 382.9 567.5 383.3 570.8 384.5 572.1 385.5 572.3 386.0 572.1 386.5 571.0 387.5 569.0 388.5 567.3 389.0 562.5 389.8 556.5 390.2 554.0 390.1 551.5 389.7 549.4 389.0 547.6 388.0 546.8 387.0 547.0 386.0 547.5 385.4 549.0 384.6 550.7 384.0 555.0 383.3Z" stroke="#2b41a0" stroke-width="0.78"/><path d="M458.9 99.5 462.0 99.2 466.0 99.0 474.5 99.4 482.5 100.3 486.5 101.1 489.0 101.9 490.6 102.5 492.0 103.4 492.7 104.0 493.3 105.0 493.6 107.0 493.4 110.0 493.1 111.5 492.6 112.5 491.7 113.5 490.5 114.3 489.0 115.0 486.5 115.8 477.6 117.5 475.8 118.0 475.1 118.5 474.4 121.0 473.5 122.5 472.0 123.8 470.5 124.6 469.0 125.2 467.0 125.5 465.0 125.5 463.5 125.1 461.5 124.2 459.4 122.5 458.3 121.0 457.3 118.5 456.7 118.0 455.3 117.5 447.5 115.8 444.5 114.8 443.1 114.0 442.0 113.0 441.4 112.0 441.1 111.0 441.2 108.5 441.8 106.0 442.2 105.0 443.0 104.0 444.5 102.7 446.5 101.8 448.5 101.2 453.5 100.2ZM399.8 121.5 400.0 121.2 400.5 121.1 401.0 121.4 401.3 122.0 401.0 122.8 400.5 123.0 400.0 122.8 399.6 122.0ZM491.1 158.5 494.5 158.4 496.2 159.0 496.7 159.5 497.0 160.5 496.8 162.0 496.5 162.7 495.3 163.5 492.5 164.0 489.0 164.0 488.0 163.8 487.0 163.4 486.5 162.7 486.4 162.0 486.6 160.5 487.1 159.5 488.5 158.8ZM394.5 221.5 400.5 219.6 406.5 217.1 421.0 213.1 427.5 210.8 435.0 209.0 453.0 203.1 455.6 202.0 457.0 201.0 457.5 200.0 457.5 199.0 455.9 195.0 455.5 193.0 455.6 191.0 456.1 189.0 457.4 186.5 459.0 184.5 461.0 183.1 463.0 182.4 466.5 182.0 470.0 182.3 472.5 183.0 476.0 184.6 479.0 186.4 482.0 188.9 484.5 193.7 485.5 194.5 487.0 194.9 488.5 194.9 490.0 194.6 504.5 190.9 519.5 189.8 524.0 189.7 533.0 190.2 540.0 190.2 545.5 190.7 555.5 192.8 563.5 195.6 565.5 195.9 568.0 195.9 570.5 195.5 573.0 194.8 581.5 191.3 583.5 190.2 587.5 187.1 590.5 185.3 595.0 183.4 599.0 182.3 608.5 180.8 617.0 180.9 618.4 180.5 622.0 178.7 625.0 177.6 628.5 176.7 632.0 176.1 636.0 175.7 639.5 175.7 644.0 176.1 649.0 176.9 650.5 177.0 658.1 176.0 659.5 175.7 660.4 175.0 660.5 174.5 660.1 170.0 660.3 166.0 661.4 163.0 662.7 160.5 664.2 158.5 665.5 157.3 666.0 158.0 666.7 160.0 667.1 163.5 666.9 166.5 666.2 169.0 665.2 171.5 663.4 175.0 663.6 176.0 665.0 177.4 665.3 178.0 665.4 178.5 665.0 179.5 663.5 181.0 661.5 182.1 654.5 184.3 651.0 187.3 648.5 188.9 646.5 189.8 643.5 190.9 637.5 192.2 632.0 192.7 626.0 192.4 624.4 192.5 623.2 193.0 620.0 194.9 617.0 196.3 611.0 198.2 606.0 199.4 599.7 200.0 596.7 200.5 589.5 202.7 581.5 204.3 580.5 204.8 579.8 205.5 579.6 206.5 579.9 208.5 579.4 210.0 578.6 211.0 573.1 216.0 569.6 220.0 567.0 222.1 564.5 223.7 555.5 228.2 545.5 231.9 541.0 233.0 535.5 233.4 533.5 233.7 523.5 237.0 520.1 238.5 515.5 241.6 514.0 242.9 512.5 244.9 511.4 247.0 510.7 249.0 510.4 252.0 510.4 255.0 511.6 262.5 511.4 264.5 510.5 266.6 509.5 268.0 508.5 268.8 503.9 270.5 503.0 271.2 502.0 272.4 501.1 274.0 500.5 276.0 500.3 281.0 499.6 283.0 498.5 284.5 495.0 287.7 493.9 289.0 492.9 290.5 491.0 294.0 489.8 295.0 487.5 295.8 486.0 296.6 482.0 299.9 480.5 299.9 479.5 300.5 479.3 301.0 479.8 302.0 482.0 304.1 483.0 305.5 483.3 306.5 482.9 307.5 482.0 308.5 480.0 309.7 477.0 311.3 474.5 312.3 471.0 313.2 467.5 313.4 459.5 311.9 457.5 311.3 455.0 310.0 453.3 308.5 452.3 307.0 452.3 306.0 452.9 305.0 456.9 301.0 457.5 300.0 457.6 299.0 456.6 296.0 453.6 290.0 452.8 286.5 452.1 281.5 451.7 273.0 452.1 258.5 451.0 252.0 450.5 251.0 449.5 250.1 448.0 249.5 444.5 248.8 439.5 247.5 436.5 247.1 434.0 247.0 425.5 247.8 418.0 249.4 409.5 250.0 407.5 250.3 406.4 250.5 405.8 251.0 406.3 251.5 411.5 254.0 412.7 255.0 413.3 256.0 413.4 257.0 413.1 258.0 412.4 259.0 411.5 259.8 410.0 260.7 408.0 261.3 401.0 262.5 398.5 261.8 394.5 259.8M394.5 253.4 399.2 250.5 398.9 250.0 394.5 248.9M394.5 270.4 396.5 268.6 398.5 267.5 399.5 267.3 401.0 267.8 403.0 269.2 404.4 271.0 405.3 273.5 405.5 276.0 405.2 278.0 404.2 280.0 402.0 282.5 399.9 284.0 399.0 284.3 397.5 283.8 396.0 282.8 394.5 281.0M463.4 346.5 466.5 346.2 469.5 346.6 474.5 347.6 478.0 348.7 481.5 350.2 484.0 351.7 486.2 353.5 487.3 355.0 487.7 356.5 487.6 358.0 486.9 359.5 485.4 361.5 483.9 363.0 482.5 364.1 478.1 366.5 476.7 367.5 476.4 368.0 476.3 369.0 476.2 371.5 476.5 372.5 477.1 373.0 478.2 373.5 490.6 377.5 499.0 379.4 506.0 381.3 507.3 382.0 508.2 383.0 508.3 384.0 507.7 385.0 505.6 386.5 503.0 387.5 495.0 389.1 480.0 393.6 471.0 395.2 465.5 395.7 462.5 395.6 455.5 394.8 450.0 393.8 445.5 392.8 442.0 391.7 438.5 390.2 436.2 389.0 434.5 387.7 433.3 386.5 432.7 385.5 432.3 384.5 432.3 383.5 432.5 382.5 433.0 381.5 434.5 380.0 438.0 377.9 443.0 375.7 447.5 374.3 453.7 373.0 455.1 372.5 455.8 372.0 456.2 371.5 456.5 368.0 456.5 367.5 456.0 366.7 455.2 366.0 451.0 363.8 448.5 362.2 447.1 361.0 445.9 359.5 445.4 358.0 445.3 357.0 445.8 355.5 446.3 354.5 448.5 352.3 452.5 349.8 455.0 348.7 458.0 347.7ZM603.4 381.5 606.5 381.6 612.5 383.0 617.5 382.8 622.0 383.6 626.0 383.8 627.5 384.2 627.8 384.5 628.1 385.0 627.9 385.5 627.0 386.3 625.0 387.0 620.5 386.8 613.0 387.0 608.0 388.1 606.0 388.3 603.0 388.2 593.6 387.0 591.7 386.5 590.9 386.0 590.6 385.5 590.7 385.0 591.0 384.6 591.9 384.0 593.3 383.5 597.8 382.5ZM553.8 384.5 556.5 384.1 564.5 384.1 566.0 384.3 567.0 384.7 568.0 385.5 568.3 386.0 568.2 386.5 567.5 387.2 566.5 387.8 565.0 388.2 558.0 389.1 554.5 389.1 553.0 388.8 551.5 388.3 550.4 387.5 550.1 387.0 550.1 386.5 550.4 386.0 551.0 385.5Z" stroke="#2d45a7" stroke-width="0.78"/><path d="M461.0 99.5 467.0 99.2 476.0 99.7 483.0 100.7 486.0 101.4 488.5 102.2 490.9 103.5 492.0 105.0 492.3 107.0 492.1 110.0 491.8 111.5 491.3 112.5 490.4 113.5 488.0 114.9 485.5 115.6 476.1 117.5 474.5 118.0 473.9 118.5 473.3 120.5 472.5 121.9 471.5 122.8 470.0 123.7 468.5 124.2 466.5 124.5 465.0 124.4 463.5 123.9 462.0 123.1 460.5 121.9 459.5 120.5 458.7 118.5 458.1 118.0 456.8 117.5 448.5 115.7 445.5 114.7 444.3 114.0 443.2 113.0 442.6 112.0 442.3 111.0 442.4 108.5 443.2 105.5 444.1 104.0 445.5 102.9 447.5 101.9 450.5 101.1 455.5 100.2ZM463.0 184.0 466.0 183.7 469.0 184.2 474.0 186.0 477.0 187.8 478.5 189.5 479.2 191.5 479.2 194.5 478.9 196.0 478.5 196.7 477.5 197.4 474.1 198.5 471.0 200.1 469.0 200.4 467.0 200.1 465.0 199.4 461.0 197.6 459.5 196.6 458.1 195.0 457.5 193.5 457.2 192.0 457.5 190.0 458.4 188.0 459.8 186.0 461.5 184.6ZM394.5 222.7 400.1 221.0 407.0 218.3 421.0 214.4 426.5 212.6 435.0 210.5 447.5 206.3 457.5 203.5 459.0 203.4 464.5 204.4 466.5 204.4 468.3 204.0 471.5 202.7 475.5 202.0 477.4 201.0 480.0 198.0 482.0 196.8 482.9 197.5 484.0 197.8 486.0 197.8 488.5 197.5 490.5 197.0 501.5 193.3 504.5 192.6 513.0 192.0 520.0 191.1 530.0 191.6 539.0 191.5 542.0 191.9 554.0 194.1 556.5 194.8 561.0 196.7 563.0 197.2 566.0 197.4 570.0 196.8 574.0 195.6 582.0 191.9 583.5 190.9 587.0 187.9 589.5 186.3 594.5 183.9 598.5 182.7 608.0 181.2 611.5 181.1 616.0 181.3 617.5 181.2 622.5 178.9 625.5 177.7 629.0 176.8 633.0 176.2 637.0 175.9 640.5 176.0 650.5 177.4 660.5 176.1 661.4 175.5 661.5 175.0 660.9 171.5 660.8 168.0 661.2 165.5 662.1 163.0 663.5 160.6 665.0 158.9 665.5 159.0 665.9 160.0 666.3 161.5 666.4 163.5 666.1 167.0 665.3 169.5 664.1 172.0 662.2 175.0 662.1 175.5 662.2 176.0 664.1 178.0 664.2 178.5 664.0 179.5 663.0 180.6 661.0 181.8 655.2 183.5 654.1 184.0 650.8 187.0 648.0 188.8 643.0 190.7 639.0 191.7 636.5 192.1 632.0 192.4 625.5 192.1 624.0 192.2 623.0 192.6 619.5 194.8 617.5 195.7 613.5 197.2 610.0 198.2 605.0 199.2 596.8 200.0 589.5 201.8 582.0 202.8 579.5 203.5 577.6 204.5 576.7 205.5 576.5 206.5 576.7 208.5 576.3 209.5 575.5 210.5 570.0 215.8 566.9 220.0 565.0 221.6 563.0 222.8 555.5 226.6 546.5 229.7 540.0 231.6 534.5 232.1 532.0 232.6 521.0 236.0 517.5 237.3 513.5 238.3 512.0 239.0 511.1 240.0 510.5 241.0 507.8 247.0 507.4 248.5 507.3 250.5 507.5 253.5 509.0 261.0 509.0 262.5 508.5 264.1 507.5 265.5 506.5 266.2 505.0 266.7 502.0 267.2 501.0 267.7 500.0 268.7 499.0 270.4 497.9 273.0 497.1 275.5 496.2 279.5 495.6 281.0 492.5 284.9 490.5 288.5 489.0 290.4 484.7 294.0 482.0 296.8 480.0 296.8 478.5 297.1 477.0 298.0 476.1 299.0 476.0 300.0 476.6 301.0 481.1 305.0 481.8 306.0 482.0 306.5 481.5 307.5 479.8 309.0 477.0 310.6 474.0 311.9 470.5 312.7 467.5 312.8 459.5 311.3 457.5 310.6 455.5 309.5 454.2 308.5 453.2 307.0 453.1 306.5 453.2 306.0 453.8 305.0 455.5 303.3 459.1 300.5 459.5 300.0 459.8 299.0 459.6 298.0 459.1 297.0 455.4 291.0 454.8 289.5 454.5 288.0 454.0 280.5 453.7 273.5 454.1 268.5 454.1 264.5 454.6 259.0 453.6 251.0 453.0 249.6 452.0 248.6 451.0 248.0 449.5 247.5 444.5 247.2 438.0 246.0 434.5 245.8 426.0 246.6 418.0 248.4 407.5 249.1 403.0 249.2 394.5 248.3M399.3 252.5 401.0 252.1 402.5 252.3 405.5 253.2 408.5 254.4 409.6 255.0 410.6 256.0 410.9 257.0 410.6 258.0 409.6 259.0 408.5 259.6 406.5 260.3 403.5 260.9 401.0 261.2 399.5 260.9 398.0 260.2 396.7 259.5 395.4 258.5 394.8 257.5 394.7 256.5 395.0 255.5 396.0 254.3 397.5 253.3ZM398.4 269.0 399.0 268.8 400.1 269.0 401.1 269.5 402.2 270.5 403.3 272.5 403.8 275.5 403.6 277.5 402.5 279.5 400.5 281.6 399.0 282.4 397.5 281.7 395.9 280.0 395.0 278.0 394.5 275.5 394.7 273.5 395.2 272.0 396.5 270.4ZM462.8 347.0 465.5 346.7 468.0 346.8 473.0 347.7 477.0 348.8 480.5 350.2 483.0 351.7 485.3 353.5 486.4 355.0 486.8 356.5 486.6 358.0 485.7 360.0 484.1 362.0 481.5 364.2 479.5 365.3 476.7 366.5 475.4 367.5 475.1 368.5 475.0 372.0 475.2 372.5 475.7 373.0 476.7 373.5 490.3 378.0 498.5 379.9 503.3 381.5 504.5 382.1 505.6 383.0 505.8 384.0 505.2 385.0 503.9 386.0 502.0 386.8 494.5 388.6 480.0 393.2 472.0 394.7 465.5 395.4 462.5 395.3 457.5 394.7 452.0 393.8 447.0 392.7 443.5 391.7 440.0 390.3 437.6 389.0 435.6 387.5 434.1 385.5 433.7 384.5 433.7 383.5 433.9 382.5 434.4 381.5 436.5 379.6 439.5 377.8 444.0 375.8 447.5 374.7 455.2 373.0 456.3 372.5 456.9 372.0 457.3 371.0 457.6 368.5 457.4 367.0 456.4 366.0 451.0 363.1 448.1 361.0 447.2 360.0 446.4 358.5 446.2 357.5 446.3 356.5 446.9 355.0 448.0 353.5 449.8 352.0 452.0 350.6 456.5 348.7 459.5 347.7ZM604.0 383.5 605.5 383.6 606.8 384.0 607.5 384.6 607.7 385.0 607.5 385.5 606.5 386.0 605.0 386.2 602.5 386.0 600.9 385.5 600.4 385.0 600.6 384.5 601.5 384.0ZM555.9 386.0 558.2 386.0 559.1 386.5 558.4 387.0 556.0 387.3 555.1 387.0 555.0 386.5Z" stroke="#2e4aad" stroke-width="0.78"/><path d="M464.3 99.5 472.0 99.7 478.0 100.2 484.0 101.3 488.0 102.6 490.1 104.0 490.9 105.5 491.0 106.5 490.7 110.0 490.3 112.0 489.1 113.5 488.0 114.2 486.5 114.8 480.5 116.3 474.6 117.5 473.1 118.0 472.4 118.5 471.7 120.5 470.9 121.5 469.0 122.6 467.0 123.1 465.0 123.0 462.7 122.0 461.2 120.5 460.2 118.5 459.6 118.0 458.4 117.5 450.0 115.7 446.6 114.5 445.5 113.9 444.4 113.0 443.8 112.0 443.5 110.5 443.7 108.0 444.2 106.0 444.9 104.5 445.9 103.5 448.0 102.3 452.0 101.2 460.0 99.8ZM664.8 160.5 665.0 160.4 665.3 161.0 665.7 163.0 665.6 165.0 665.3 167.0 664.0 170.5 662.5 172.8 662.0 172.6 661.7 171.0 661.6 168.5 661.7 166.5 662.2 164.5 662.9 163.0 664.0 161.2ZM462.8 186.5 464.0 186.2 465.0 186.2 466.4 186.5 467.4 187.0 473.2 191.0 473.6 192.0 473.4 193.0 472.5 194.0 470.4 195.5 469.0 196.3 468.0 196.6 467.0 196.7 465.5 196.4 462.4 195.0 461.1 194.0 460.5 193.3 460.0 192.2 459.9 191.0 460.2 189.5 461.0 188.0 462.0 187.0ZM394.5 224.1 400.8 222.0 407.0 219.7 421.5 215.7 426.0 214.2 432.0 212.9 445.5 208.3 451.0 206.7 458.5 205.2 464.5 206.3 466.5 206.5 477.5 205.1 480.0 203.9 482.0 202.1 483.5 201.9 489.5 200.0 498.0 196.3 501.0 195.3 504.0 194.7 513.0 193.7 519.5 192.6 529.0 193.2 538.0 192.9 553.5 195.6 556.5 196.6 561.0 198.6 562.5 199.0 565.0 199.2 569.0 198.9 571.0 198.6 572.5 198.0 578.6 194.5 582.5 192.6 584.0 191.4 587.0 188.4 588.5 187.3 591.0 185.8 595.5 183.8 599.5 182.7 605.5 181.7 609.0 181.4 617.5 181.6 618.5 181.3 622.5 179.2 626.5 177.7 630.5 176.8 635.5 176.3 638.5 176.2 641.0 176.4 650.5 177.8 657.0 177.1 661.1 177.0 661.5 177.0 662.5 177.8 662.9 178.5 662.9 179.0 662.4 180.0 660.5 181.4 653.9 183.5 653.0 184.2 650.8 186.5 648.5 188.1 645.0 189.8 641.5 190.9 637.5 191.7 633.5 192.2 630.5 192.2 625.5 191.8 624.0 191.8 622.5 192.4 618.5 194.9 615.5 196.2 612.0 197.4 606.5 198.7 597.0 199.5 587.5 201.2 581.0 201.7 576.5 202.6 573.0 202.4 572.0 202.5 571.5 202.8 571.0 203.4 570.8 204.5 571.0 205.6 572.4 208.5 572.1 209.5 570.9 211.5 567.5 215.7 564.7 219.5 562.5 221.2 555.0 225.2 547.0 227.7 543.5 228.7 539.5 230.2 537.5 230.6 533.5 230.9 530.1 231.5 523.0 233.6 514.0 235.7 511.5 236.4 509.4 237.5 506.0 240.8 502.0 242.4 501.0 243.6 500.6 244.5 500.4 246.0 500.6 249.5 501.5 254.5 501.4 255.5 501.0 256.5 499.5 258.1 498.5 259.9 497.3 264.5 494.6 271.0 492.7 278.0 491.8 280.0 490.0 283.2 488.4 287.0 487.0 288.8 482.0 293.2 480.0 293.0 478.0 293.6 474.5 296.0 473.1 297.5 472.4 298.5 472.4 299.0 472.5 299.5 473.0 300.0 477.0 302.7 479.7 305.0 480.4 306.0 480.6 306.5 480.5 307.0 479.7 308.0 477.5 309.6 475.0 310.9 472.5 311.8 470.0 312.2 467.5 312.2 460.0 310.9 458.0 310.2 456.5 309.4 455.0 308.2 454.2 307.0 454.0 306.5 454.2 306.0 455.3 304.5 457.0 303.1 461.9 300.0 462.3 299.5 462.5 298.5 462.2 297.5 461.5 296.5 459.0 294.1 457.3 292.0 456.2 290.0 455.8 288.5 455.7 286.5 456.2 282.5 456.3 279.0 456.0 273.0 456.7 268.5 456.7 263.5 457.4 259.5 457.5 258.0 456.3 250.5 455.6 249.0 454.3 247.5 452.5 246.5 450.5 245.9 444.0 245.7 438.0 244.8 434.5 244.6 425.5 245.5 419.5 247.2 416.0 247.7 404.5 248.4 398.5 248.2 394.5 247.7M399.9 254.0 401.0 253.7 402.0 253.8 405.1 255.0 406.5 256.0 406.9 256.5 407.1 257.0 406.9 257.5 405.8 258.5 403.0 259.5 401.0 259.7 399.5 259.2 398.0 258.0 397.7 257.5 397.5 256.5 397.9 255.5 398.3 255.0ZM398.4 271.0 399.0 270.7 399.5 270.8 400.5 271.5 401.4 273.0 401.7 274.5 401.6 276.0 401.1 277.5 400.0 279.0 399.0 279.6 398.1 279.0 397.5 278.2 396.9 277.0 396.6 275.5 396.6 274.0 396.9 273.0 397.5 271.9ZM462.4 347.5 464.5 347.2 467.0 347.1 473.5 348.3 477.0 349.3 479.5 350.3 482.0 351.7 484.0 353.2 485.1 354.5 485.8 356.0 485.9 357.5 485.1 359.5 483.8 361.5 481.5 363.6 479.5 364.7 475.2 366.5 474.0 367.4 473.7 368.5 473.8 372.5 474.2 373.0 475.1 373.5 480.5 375.1 486.9 377.5 492.0 379.2 497.8 380.5 500.4 381.5 502.1 382.5 502.7 383.0 503.0 384.0 502.4 385.0 501.5 385.7 500.0 386.3 493.9 388.0 480.0 392.8 472.5 394.3 465.5 395.1 462.0 394.9 456.5 394.2 451.5 393.4 447.0 392.3 444.0 391.4 441.0 390.1 438.5 388.7 437.0 387.5 436.1 386.5 435.5 385.5 435.1 384.5 435.1 383.5 435.3 382.5 435.9 381.5 437.5 379.9 441.0 377.7 444.5 376.1 447.5 375.2 455.0 373.5 456.6 373.0 457.6 372.5 458.1 372.0 458.4 371.0 458.8 368.0 458.5 366.8 457.7 366.0 452.5 363.4 449.1 361.0 448.1 360.0 447.2 358.5 447.0 357.5 447.1 356.5 447.7 355.0 448.5 354.0 450.0 352.6 452.0 351.2 454.0 350.2 456.5 349.1Z" stroke="#304eb3" stroke-width="0.78"/><path d="M460.9 100.0 467.0 99.7 475.5 100.2 482.0 101.2 486.2 102.5 487.5 103.1 488.7 104.0 489.5 105.5 489.6 106.5 489.3 110.5 488.9 112.0 488.2 113.0 487.6 113.5 485.5 114.5 479.5 116.2 472.8 117.5 471.2 118.0 470.4 118.5 469.5 119.9 468.9 120.5 467.9 121.0 466.5 121.2 465.0 121.1 464.0 120.6 463.0 119.8 462.1 118.5 461.4 118.0 460.1 117.5 452.0 115.7 448.1 114.5 447.0 113.9 445.8 113.0 445.1 112.0 444.8 111.0 444.8 109.5 445.3 106.5 445.8 105.0 446.6 104.0 448.5 102.7 451.0 101.8 456.0 100.7ZM664.4 162.5 664.5 162.4 664.6 162.5 664.8 164.0 664.6 166.5 664.0 168.3 663.0 170.3 662.7 170.0 662.5 169.5 662.6 166.5 663.4 164.0ZM636.4 176.5 642.0 176.8 650.5 178.4 658.0 177.8 660.1 178.0 661.2 178.5 661.4 179.0 661.3 179.5 660.3 180.5 658.2 181.5 654.5 182.5 653.5 183.0 652.5 183.9 650.7 186.0 649.5 187.0 647.5 188.3 644.5 189.6 640.5 190.9 635.0 191.8 630.5 191.9 625.0 191.4 623.5 191.5 622.3 192.0 619.0 194.2 615.5 195.8 611.0 197.3 605.0 198.6 592.5 199.5 585.5 200.1 578.5 199.8 577.6 199.5 577.2 199.0 577.4 198.0 578.7 196.5 579.9 195.5 583.5 193.1 586.1 190.0 587.6 188.5 591.0 186.2 595.0 184.3 599.0 183.1 607.5 181.8 611.0 181.7 617.5 182.1 619.0 181.5 623.0 179.3 627.5 177.7 632.0 176.9ZM394.5 225.5 408.0 220.8 422.0 217.0 426.0 215.7 432.0 214.4 450.0 208.1 452.5 207.6 458.5 206.7 466.5 208.0 472.0 207.6 476.5 207.7 478.0 207.6 480.0 206.8 482.0 205.5 485.0 204.6 491.6 202.0 497.5 198.8 499.5 197.9 503.0 197.1 514.0 195.3 519.0 194.1 521.0 194.1 525.5 194.7 528.5 194.8 531.5 194.8 536.0 194.4 538.0 194.5 544.0 195.8 550.5 196.7 553.5 197.5 557.0 198.7 561.5 201.1 565.0 202.0 566.1 202.5 567.2 204.0 568.7 207.5 569.1 209.0 568.7 210.5 567.5 212.5 565.3 215.5 563.0 218.1 560.7 220.0 554.5 223.6 547.5 226.0 543.0 227.0 538.5 229.0 527.5 230.3 522.5 231.8 517.0 232.8 509.5 235.0 508.0 235.6 504.5 237.4 500.0 239.0 498.0 240.5 496.5 242.5 495.7 245.0 494.9 251.0 494.9 256.0 494.3 259.0 493.4 261.5 491.0 265.2 489.5 268.5 488.7 272.0 488.5 276.0 488.2 278.0 485.6 285.5 484.5 286.9 482.0 288.8 480.5 287.5 479.5 287.2 479.0 287.7 477.5 290.5 476.0 292.2 474.0 293.8 469.0 297.0 467.4 298.5 467.3 299.0 467.7 299.5 468.7 300.0 472.5 301.3 475.5 302.7 477.9 304.5 479.2 306.0 479.4 306.5 479.2 307.0 478.4 308.0 477.5 308.7 475.0 310.2 472.0 311.3 469.5 311.7 467.0 311.6 460.0 310.2 458.0 309.5 456.5 308.5 455.5 307.5 455.1 306.5 455.2 306.0 456.0 305.0 457.5 303.7 460.0 302.3 465.1 300.0 465.8 299.5 466.1 299.0 465.8 298.0 464.7 296.5 463.4 295.5 460.5 293.8 458.6 292.0 457.3 290.0 456.9 288.5 456.8 287.5 457.0 286.0 458.6 282.0 458.9 280.5 459.0 277.5 458.6 273.5 458.6 272.0 459.2 268.5 459.5 264.0 460.8 259.5 461.0 258.0 460.8 256.0 459.2 250.0 458.4 248.5 457.0 247.0 454.3 245.5 451.0 244.6 444.0 244.5 438.0 243.6 434.5 243.5 426.0 244.2 424.0 244.7 419.0 246.4 411.5 247.2 405.0 247.8 402.0 247.9 398.0 247.8 394.5 247.3M462.1 348.0 464.5 347.6 467.0 347.5 469.5 347.9 473.5 348.8 476.5 349.7 479.0 350.7 481.4 352.0 483.3 353.5 484.5 355.0 485.0 356.5 484.9 358.0 484.0 360.0 482.5 362.0 480.5 363.6 478.5 364.6 474.6 366.0 472.8 367.0 472.2 368.0 472.3 372.5 472.7 373.0 473.5 373.5 474.8 374.0 480.5 375.6 491.0 379.6 497.7 381.5 498.7 382.0 499.9 383.0 500.1 384.0 499.9 384.5 499.0 385.3 497.4 386.0 480.0 392.3 473.0 393.8 466.0 394.7 463.5 394.7 459.0 394.2 453.0 393.3 448.5 392.3 445.0 391.2 442.5 390.2 440.3 389.0 438.3 387.5 437.4 386.5 436.8 385.5 436.5 384.5 436.4 383.5 436.7 382.5 437.2 381.5 439.4 379.5 442.5 377.6 445.5 376.3 449.0 375.3 456.6 373.5 458.1 373.0 458.9 372.5 459.3 372.0 460.1 368.0 460.0 367.0 459.6 366.5 458.2 365.5 453.5 363.3 450.5 361.3 449.1 360.0 448.4 359.0 448.0 358.0 447.9 357.0 448.2 356.0 449.0 354.5 450.5 353.0 452.5 351.6 456.5 349.7Z" stroke="#3153b9" stroke-width="0.78"/><path d="M464.1 100.0 467.5 100.0 477.0 100.7 482.0 101.7 485.7 103.0 487.2 104.0 488.1 105.5 488.2 106.5 487.9 110.5 487.5 112.0 486.7 113.0 485.5 113.8 481.5 115.2 477.5 116.2 466.5 118.2 463.5 117.8 454.0 115.8 451.0 115.0 448.6 114.0 447.8 113.5 446.8 112.5 446.3 111.5 446.2 110.5 446.3 108.0 446.7 106.0 447.1 105.0 447.9 104.0 450.0 102.7 453.5 101.7 458.5 100.6ZM633.4 177.0 637.0 176.7 640.0 176.8 645.0 177.6 651.0 179.1 652.5 179.1 656.5 178.8 658.0 179.0 658.5 179.3 658.7 179.5 658.5 180.0 657.9 180.5 656.8 181.0 654.0 181.8 653.0 182.3 650.6 185.5 649.5 186.5 647.0 188.2 644.5 189.3 639.5 190.8 634.0 191.6 630.0 191.6 624.7 191.0 623.5 191.0 622.2 191.5 618.0 194.3 615.0 195.7 610.0 197.3 605.0 198.3 595.0 198.8 587.5 198.5 584.5 198.0 583.5 197.5 583.2 197.0 583.2 196.0 585.7 191.5 587.2 189.5 590.0 187.3 592.5 185.8 595.0 184.7 597.5 183.8 600.0 183.2 607.0 182.1 611.0 182.0 616.5 182.5 618.0 182.4 619.0 182.0 622.0 180.2 625.5 178.7 629.0 177.6ZM394.5 227.0 402.0 224.2 408.5 222.2 420.3 219.0 426.5 217.1 433.0 215.5 447.5 210.2 450.5 209.2 452.5 208.9 459.0 208.2 466.0 209.3 471.5 209.3 477.0 209.8 479.0 209.7 480.5 209.2 482.0 208.2 485.5 207.0 501.0 200.3 507.0 198.5 514.5 197.2 519.5 195.9 521.0 195.8 527.5 196.4 537.5 196.2 543.5 197.5 549.0 198.4 553.5 199.6 555.5 200.2 557.0 200.9 561.0 203.9 564.0 205.7 565.5 207.2 566.3 209.0 566.0 210.5 565.2 212.0 563.9 214.0 562.5 215.5 555.6 221.0 552.5 222.8 547.0 224.6 542.5 225.5 537.5 227.6 527.0 228.6 522.0 229.9 517.0 230.8 512.0 232.6 507.0 234.0 503.5 235.4 499.0 236.8 496.5 238.0 493.4 240.0 492.2 241.5 491.7 243.0 491.0 250.0 491.1 254.5 490.9 256.0 490.2 257.5 488.2 260.0 487.6 261.5 486.6 268.5 484.5 274.5 483.7 279.0 483.0 281.0 482.0 282.5 479.3 278.0 478.5 277.2 478.0 276.9 477.5 276.8 476.5 277.0 475.0 278.0 473.6 280.0 473.4 281.5 473.7 282.5 475.3 284.5 476.1 286.0 476.5 288.0 476.1 289.5 475.0 291.3 473.0 292.9 470.0 294.3 467.5 295.1 466.5 295.2 463.0 293.8 461.0 292.8 459.9 292.0 459.0 291.0 458.4 290.0 458.0 288.5 457.9 287.5 458.3 286.0 459.0 284.7 460.7 282.5 461.3 281.0 461.5 279.0 461.5 272.0 461.9 265.5 462.3 263.5 463.7 259.5 464.0 257.5 464.0 256.0 462.9 249.5 462.0 248.1 460.6 247.0 456.8 245.0 454.0 244.0 452.0 243.5 449.5 243.3 444.0 243.4 438.5 242.5 435.0 242.3 431.5 242.4 426.0 243.1 424.0 243.5 420.0 245.1 418.0 245.6 405.0 247.4 399.5 247.5 397.0 247.3 394.5 246.9M464.4 301.5 466.5 301.1 467.5 301.1 470.5 301.6 473.0 302.4 475.0 303.3 477.0 304.8 478.0 306.0 478.1 306.5 478.0 307.0 477.0 308.1 475.0 309.5 473.0 310.4 470.5 311.0 468.0 311.1 466.0 310.9 462.0 310.1 459.5 309.3 457.8 308.5 456.7 307.5 456.2 306.5 456.4 306.0 457.5 304.7 459.5 303.4 462.0 302.2ZM465.0 348.0 467.0 348.0 469.5 348.3 473.5 349.3 477.5 350.6 480.0 351.8 481.7 353.0 483.2 354.5 483.9 356.0 484.1 357.5 483.7 359.0 482.5 361.0 481.0 362.5 478.5 364.0 472.8 366.0 471.0 367.0 470.6 367.5 470.5 368.5 470.6 372.0 471.1 373.0 473.0 374.0 478.0 375.3 480.5 376.1 487.0 378.9 495.5 382.0 497.0 383.0 497.2 383.5 497.2 384.0 496.8 384.5 495.2 385.5 490.8 387.5 480.0 391.8 476.5 392.8 472.0 393.6 466.0 394.4 463.0 394.3 458.0 393.7 452.5 392.8 448.5 391.8 445.5 390.9 443.0 389.8 440.9 388.5 439.1 387.0 438.3 386.0 437.9 385.0 437.7 384.0 437.8 383.0 438.2 382.0 439.0 381.0 441.0 379.3 443.5 377.8 446.0 376.7 449.0 375.7 458.3 373.5 459.7 373.0 460.4 372.5 460.8 372.0 461.5 368.0 461.4 367.0 461.0 366.5 459.6 365.5 454.0 362.9 451.2 361.0 449.7 359.5 449.1 358.5 448.9 357.5 448.9 356.5 449.3 355.5 450.5 354.0 452.0 352.6 454.0 351.4 456.5 350.2 459.5 349.2 462.5 348.4Z" stroke="#3357c0" stroke-width="0.78"/><path d="M461.5 100.5 467.0 100.2 475.0 100.8 480.5 101.7 484.0 103.0 485.7 104.0 486.1 104.5 486.7 105.5 486.7 107.0 486.4 110.5 486.1 111.5 485.5 112.5 484.2 113.5 480.6 115.0 476.0 116.2 468.5 117.4 465.0 117.4 461.0 116.8 455.0 115.6 450.5 114.1 449.4 113.5 448.5 112.7 448.0 112.0 447.6 111.0 447.5 109.5 447.8 106.5 448.2 105.5 448.8 104.5 450.5 103.3 453.0 102.3 457.5 101.2ZM631.6 177.5 637.0 177.0 641.5 177.3 644.5 177.9 647.5 178.6 650.5 179.8 651.9 180.5 652.1 181.0 651.9 182.0 651.0 184.0 649.9 185.5 647.5 187.5 644.0 189.1 638.5 190.7 634.0 191.3 629.5 191.3 624.0 190.5 623.0 190.6 622.0 190.9 618.0 193.8 615.0 195.3 609.0 197.2 604.0 198.1 596.0 198.4 591.5 197.9 588.0 196.9 586.8 196.0 586.2 195.0 586.0 194.0 586.2 192.5 586.8 191.0 587.9 189.5 589.5 188.1 591.0 187.1 595.5 184.8 599.5 183.7 608.0 182.4 611.5 182.4 616.9 183.0 618.0 183.0 619.0 182.6 622.5 180.4 625.0 179.2 628.0 178.2ZM394.5 228.5 403.0 225.3 433.0 216.9 439.5 214.4 450.5 210.5 459.0 209.5 465.5 210.6 471.5 210.8 477.0 211.7 479.5 211.8 486.5 209.6 493.0 206.1 499.0 204.0 506.0 201.1 510.0 200.0 515.5 199.1 520.0 197.9 521.5 197.8 526.5 198.2 537.0 198.1 539.5 198.6 553.5 202.2 555.5 202.9 557.5 204.2 561.9 208.0 562.7 209.0 562.9 209.5 562.7 210.5 562.2 212.0 561.2 213.5 560.4 214.5 555.7 218.0 553.2 220.5 550.0 222.2 546.5 223.3 541.5 224.2 537.0 225.9 526.5 227.0 521.5 228.2 517.0 228.9 511.0 231.4 506.7 232.5 503.0 233.8 497.1 235.5 493.4 237.0 491.0 238.4 489.0 240.5 487.9 243.0 487.1 247.5 486.7 253.0 485.0 257.9 484.4 260.5 484.0 267.5 483.3 269.5 482.0 271.8 479.0 269.5 478.5 268.5 480.0 264.6 480.3 262.0 479.7 259.0 478.0 253.7 476.5 250.4 475.3 248.5 474.0 247.2 472.6 246.5 471.0 246.3 467.5 246.9 466.5 246.9 465.3 246.0 464.2 245.5 461.0 245.0 452.5 242.5 450.0 242.2 444.5 242.3 438.5 241.2 435.5 241.0 432.0 241.2 425.5 242.0 423.5 242.5 418.0 244.6 410.0 245.9 405.0 246.9 402.5 247.2 399.5 247.2 396.5 246.9 394.5 246.4M466.4 260.5 467.0 260.2 468.5 260.3 469.8 260.5 470.5 261.0 470.6 262.0 470.2 265.0 470.4 266.0 470.8 267.0 471.5 267.7 474.6 268.5 475.3 269.0 475.5 269.5 475.5 270.0 474.5 272.5 471.2 278.0 470.3 280.5 470.4 281.5 470.7 282.0 473.7 285.0 474.7 286.5 475.1 288.0 474.7 289.5 473.7 291.0 472.0 292.2 469.5 293.3 466.5 293.7 463.0 292.7 461.0 291.6 459.6 290.0 459.2 289.0 459.0 288.0 459.4 286.5 460.0 285.5 463.2 282.5 464.0 281.0 464.3 277.5 465.1 273.0 464.5 268.0 464.6 266.0 465.0 264.0ZM463.7 302.5 467.0 302.0 469.5 302.3 472.0 302.8 474.0 303.7 475.3 304.5 476.4 305.5 476.9 306.5 476.3 307.5 474.5 308.9 472.5 309.8 470.5 310.3 468.5 310.5 466.5 310.4 461.5 309.3 458.7 308.0 457.7 307.0 457.5 306.5 458.1 305.5 459.5 304.4 461.5 303.3ZM464.6 348.5 467.0 348.4 469.5 348.8 473.5 349.8 477.5 351.2 479.5 352.3 481.5 353.8 482.5 355.0 483.1 356.5 483.1 358.0 482.6 359.5 481.6 361.0 480.0 362.5 477.5 363.8 470.7 366.0 468.8 367.0 468.4 367.5 468.2 368.0 468.6 370.0 468.6 372.0 468.8 372.5 470.0 373.5 471.2 374.0 478.0 375.8 480.5 376.7 491.6 382.0 493.2 383.0 493.6 383.5 493.6 384.0 493.3 384.5 492.2 385.5 488.5 387.6 481.5 390.7 479.0 391.7 471.5 393.3 468.0 393.9 465.0 394.0 461.5 393.8 455.0 392.9 448.0 391.2 445.5 390.3 443.5 389.4 441.5 388.0 440.0 386.5 439.3 385.5 439.0 384.5 439.0 383.5 439.3 382.5 439.8 381.5 440.7 380.5 443.0 378.8 446.0 377.3 449.0 376.3 460.2 373.5 461.6 373.0 462.4 372.5 462.7 372.0 462.8 370.0 463.3 368.0 463.1 367.0 462.7 366.5 461.1 365.5 456.0 363.2 452.5 361.1 451.2 360.0 450.5 359.0 450.0 358.0 449.8 357.0 450.3 355.5 451.0 354.5 452.6 353.0 454.5 351.7 456.5 350.8 459.5 349.7 462.5 348.8Z" stroke="#3987d7" stroke-width="0.78"/><path d="M465.5 100.5 471.5 100.8 476.5 101.3 480.5 102.3 483.3 103.5 484.5 104.5 485.2 106.0 484.8 110.5 484.2 112.0 482.4 113.5 480.5 114.4 478.5 115.1 473.0 116.3 468.0 117.0 463.5 116.8 458.0 115.9 454.0 114.8 451.0 113.5 450.3 113.0 449.4 112.0 449.0 111.0 448.9 110.0 449.2 106.5 449.6 105.5 450.3 104.5 452.5 103.2 456.5 101.8 461.5 100.8ZM634.4 177.5 639.0 177.4 644.5 178.2 648.3 179.5 649.5 180.2 650.4 181.0 650.7 182.0 650.6 183.0 650.3 184.0 649.2 185.5 647.0 187.3 643.0 189.2 638.5 190.4 636.0 190.8 633.0 191.1 629.0 191.0 623.5 190.0 622.5 190.0 621.5 190.5 618.0 193.3 614.0 195.3 609.0 196.9 604.0 197.8 596.5 197.9 593.0 197.6 590.5 196.9 589.0 196.1 587.8 195.0 587.2 194.0 587.1 193.0 587.4 191.5 587.9 190.5 589.0 189.2 590.4 188.0 592.5 186.7 596.5 184.8 601.0 183.7 608.0 182.7 611.5 182.7 617.0 183.5 618.5 183.5 619.5 183.0 622.5 180.8 626.0 179.2 629.5 178.2ZM394.5 229.9 402.5 226.9 420.6 222.0 433.9 218.0 440.0 215.6 444.5 214.1 449.0 212.3 451.0 211.8 459.5 210.9 466.0 211.8 471.5 212.2 477.0 213.5 479.0 213.6 489.5 212.5 490.5 212.1 491.4 211.5 493.5 209.2 495.0 208.1 500.5 206.0 506.0 203.3 509.5 202.3 516.0 201.1 520.5 200.0 526.5 200.2 534.5 200.1 536.5 200.3 539.0 200.8 548.5 203.6 555.0 205.8 557.0 206.9 558.4 208.0 559.3 209.0 559.7 210.0 559.2 212.0 558.0 213.7 554.1 216.5 550.5 219.8 548.0 221.1 545.5 221.9 541.0 222.6 536.5 224.0 525.5 225.5 521.0 226.6 517.0 227.3 515.0 228.0 510.5 230.1 501.5 232.8 496.4 234.0 492.0 235.5 488.6 237.5 486.0 239.5 484.4 241.0 482.8 243.5 482.0 246.3 481.6 244.5 481.0 243.5 480.0 242.7 479.0 242.5 471.5 242.9 466.5 243.6 461.0 243.4 458.0 242.9 452.0 241.3 450.0 241.1 444.5 241.1 439.0 239.9 436.0 239.7 432.0 239.9 425.0 240.9 423.0 241.5 418.0 243.6 410.0 245.0 404.0 246.7 401.5 246.9 398.5 246.8 396.5 246.6 394.5 246.0M465.7 283.0 466.5 282.6 468.5 283.1 471.0 284.4 472.9 286.0 473.5 287.0 473.7 288.5 473.3 289.5 472.5 290.5 471.5 291.3 470.0 292.0 468.5 292.4 466.5 292.6 463.5 291.8 461.4 290.5 460.6 289.5 460.3 288.5 460.4 287.5 460.8 286.5 462.5 284.9ZM465.1 303.0 466.5 302.8 468.5 302.9 472.0 303.7 474.5 305.0 475.4 306.0 475.6 306.5 474.9 307.5 473.6 308.5 472.0 309.2 470.0 309.7 466.5 309.7 462.0 308.6 460.6 308.0 459.5 307.3 459.0 306.5 459.2 306.0 460.2 305.0 461.5 304.2 463.5 303.4ZM464.5 349.0 467.0 348.9 471.5 349.8 476.0 351.2 479.0 352.8 481.1 354.5 482.0 356.0 482.3 357.0 482.2 358.0 481.4 360.0 480.0 361.6 477.5 363.2 474.5 364.2 466.5 366.4 465.0 366.4 463.5 365.9 457.5 363.3 454.5 361.7 452.4 360.0 451.2 358.5 450.9 357.0 451.1 356.0 451.7 355.0 453.5 353.2 456.0 351.6 461.0 349.8ZM462.6 373.5 464.5 373.1 466.5 373.1 479.5 376.8 482.5 378.3 489.0 382.0 490.1 383.0 490.4 383.5 490.5 384.5 489.7 385.5 488.4 386.5 480.0 390.8 475.0 392.2 469.0 393.4 464.5 393.7 460.0 393.2 453.5 392.2 450.0 391.3 446.5 390.1 444.5 389.2 443.0 388.2 441.6 387.0 440.9 386.0 440.4 385.0 440.3 383.5 440.8 382.0 441.5 381.0 443.0 379.7 444.5 378.7 448.0 377.2 454.5 375.3Z" stroke="#3eb2e8" stroke-width="1.0"/><path d="M462.9 101.0 467.0 100.8 473.5 101.3 478.0 102.1 481.0 103.2 482.8 104.5 483.4 106.0 483.2 110.0 482.8 111.5 481.5 113.0 480.0 113.9 478.5 114.5 473.0 115.9 468.0 116.6 464.0 116.5 460.0 115.8 456.0 114.9 453.0 113.6 452.0 113.0 451.0 112.0 450.4 110.5 450.4 109.0 450.5 107.0 450.9 106.0 451.5 105.0 453.5 103.6 456.1 102.5 459.5 101.6ZM632.6 178.0 638.0 177.7 642.5 178.2 646.5 179.3 648.0 180.0 649.3 181.0 649.8 182.0 649.8 183.0 649.3 184.5 648.5 185.5 647.4 186.5 646.0 187.4 642.0 189.1 637.5 190.3 632.5 190.8 629.0 190.6 623.5 189.5 622.0 189.4 621.0 189.9 618.0 192.7 614.5 194.7 609.5 196.4 606.0 197.2 604.0 197.4 597.5 197.6 593.5 197.2 591.5 196.5 590.0 195.8 588.6 194.5 588.1 193.5 588.0 192.5 588.2 191.5 588.7 190.5 589.5 189.5 590.6 188.5 592.5 187.1 596.5 185.2 599.5 184.3 602.0 183.9 608.5 183.0 612.0 183.1 617.5 184.1 619.0 184.1 619.5 183.9 622.3 181.5 624.5 180.3 628.5 178.7ZM394.5 231.4 399.5 229.3 402.5 228.2 407.8 227.0 427.4 221.5 435.2 219.0 440.5 216.9 444.8 215.5 449.0 213.8 451.0 213.3 455.0 213.0 459.0 212.2 460.0 212.2 471.0 213.6 476.5 214.9 478.5 215.2 480.5 215.2 486.5 214.9 490.0 215.1 491.5 214.9 493.0 214.1 495.5 211.6 496.9 210.5 501.5 208.4 507.0 205.2 509.5 204.4 520.5 202.1 523.0 202.1 527.5 202.4 533.0 202.3 535.0 202.5 538.5 203.3 547.5 205.9 552.0 208.4 555.5 209.5 556.0 210.0 556.0 210.5 555.5 211.4 555.0 211.7 553.0 212.5 552.0 213.1 549.5 216.1 548.0 217.5 546.5 218.6 544.7 219.5 540.4 220.5 536.5 221.7 531.5 222.4 524.5 223.9 520.5 225.1 516.0 226.0 509.5 229.0 502.0 231.3 494.4 233.0 491.5 233.9 484.2 237.5 482.0 238.8 479.5 239.1 475.0 240.5 467.0 241.8 461.0 242.2 458.0 241.8 451.5 240.1 445.0 240.0 438.5 238.5 434.0 238.3 424.0 239.7 417.5 242.6 409.5 244.2 405.5 245.8 403.5 246.3 400.5 246.6 398.0 246.4 396.0 246.0 394.5 245.4M465.3 285.0 466.5 284.6 467.5 284.7 469.0 285.1 470.8 286.0 471.5 286.7 472.0 287.5 472.1 288.5 471.6 289.5 470.5 290.4 469.5 290.8 467.0 291.4 465.0 291.1 463.0 290.1 462.1 289.0 462.0 288.5 462.1 287.5 462.5 286.9 463.4 286.0ZM464.5 304.0 467.0 303.7 470.5 304.1 473.0 305.2 473.9 306.0 474.1 306.5 473.8 307.0 473.0 307.7 472.0 308.3 470.5 308.8 467.5 309.1 464.5 308.5 461.8 307.5 461.1 307.0 460.8 306.5 461.0 306.0 462.1 305.0ZM464.7 349.5 467.0 349.4 471.0 350.2 475.5 351.7 478.5 353.3 480.4 355.0 481.2 356.5 481.3 358.0 480.5 360.0 479.0 361.5 476.5 362.9 472.0 364.3 466.5 365.5 464.5 365.3 462.5 364.7 457.5 362.6 455.0 361.2 453.1 359.5 452.1 358.0 452.0 356.5 452.4 355.5 453.2 354.5 455.0 353.0 457.5 351.6 461.5 350.2ZM463.4 374.0 465.5 373.9 468.0 374.2 476.5 376.4 479.0 377.2 482.4 379.0 486.5 382.0 487.9 383.5 488.0 384.5 487.3 385.5 485.4 387.0 482.5 388.9 480.0 390.2 475.0 391.7 468.0 393.1 464.0 393.3 456.5 392.3 451.5 391.2 447.0 389.7 444.0 388.0 442.9 387.0 441.9 385.5 441.6 384.5 441.6 383.0 442.4 381.5 443.3 380.5 446.0 378.7 451.0 376.8 457.0 375.1Z" stroke="#3eb2e8" stroke-width="1.0"/><path d="M462.1 101.5 467.0 101.1 472.5 101.6 476.5 102.3 479.8 103.5 481.0 104.5 481.7 106.0 481.5 110.0 481.0 111.5 479.7 113.0 477.5 114.2 472.5 115.6 468.5 116.2 465.5 116.2 461.5 115.7 457.5 114.7 455.0 113.7 453.3 112.5 452.3 111.0 452.1 110.0 452.1 108.5 452.3 107.0 452.6 106.0 454.0 104.5 455.6 103.5 458.5 102.3ZM631.4 178.5 636.5 178.0 640.5 178.3 645.5 179.4 647.0 180.1 648.2 181.0 648.9 182.0 649.0 183.0 648.8 184.0 648.2 185.0 647.2 186.0 645.8 187.0 642.0 188.8 639.0 189.6 636.5 190.1 631.5 190.5 627.5 190.1 622.5 188.6 621.5 188.4 621.0 188.6 620.6 189.0 619.1 191.0 618.0 192.0 616.5 193.1 614.5 194.2 612.0 195.2 608.5 196.3 604.0 197.1 597.5 197.2 594.0 196.7 592.5 196.3 590.9 195.5 589.7 194.5 589.1 193.5 588.9 192.5 589.0 191.5 589.5 190.5 590.3 189.5 593.0 187.3 595.0 186.2 597.0 185.4 602.0 184.2 606.0 183.6 609.0 183.4 613.0 183.7 618.5 185.1 619.5 185.1 620.0 184.8 621.9 182.5 624.5 180.7 628.0 179.3ZM394.5 233.7 397.8 231.5 401.5 230.0 407.5 228.5 417.0 225.7 428.9 222.5 444.9 217.0 449.0 215.3 451.0 214.7 455.5 214.4 459.0 213.5 461.0 213.6 470.0 214.8 475.5 216.1 478.0 216.5 487.0 216.7 491.5 217.3 493.5 217.3 494.7 217.0 495.5 216.5 497.4 214.0 498.0 213.5 503.0 211.3 504.2 210.5 507.0 208.0 508.5 207.2 518.5 204.6 521.5 204.2 523.5 204.2 528.0 205.0 533.0 205.3 539.0 206.6 541.5 207.4 545.0 208.9 546.0 209.5 546.7 210.5 546.0 212.0 543.5 215.0 541.4 216.5 538.5 217.8 535.5 218.5 531.5 218.4 529.5 218.6 524.5 221.0 522.4 222.5 521.3 223.0 515.0 224.6 510.5 227.1 508.5 227.9 501.0 230.3 492.0 232.1 484.5 235.0 482.0 236.2 474.5 238.6 468.0 240.3 461.0 241.0 459.5 240.9 457.0 240.5 451.5 238.9 445.0 238.6 439.0 237.3 434.0 236.9 424.0 238.0 422.5 238.5 419.0 240.6 417.0 241.5 413.5 242.4 408.0 243.3 405.0 245.4 402.5 246.0 399.0 246.1 396.0 245.5 395.1 245.0 394.7 244.5 394.5 244.0 394.5 242.5M465.8 287.0 466.5 286.8 468.0 287.0 468.8 287.5 469.1 288.0 469.1 288.5 468.6 289.0 467.6 289.5 465.9 289.5 465.1 289.0 464.8 288.5 465.0 287.6ZM464.9 305.0 467.0 304.6 469.5 304.9 471.1 305.5 471.9 306.0 472.2 306.5 471.8 307.0 471.1 307.5 469.5 308.0 467.5 308.1 466.0 307.9 464.0 307.3 462.9 306.5 463.5 305.7ZM465.1 350.0 467.5 350.0 471.0 350.8 475.0 352.3 477.5 353.6 479.2 355.0 480.1 356.5 480.3 358.0 479.7 359.5 478.4 361.0 476.0 362.4 471.5 363.8 466.5 364.9 465.0 364.7 463.0 364.2 458.5 362.3 456.1 361.0 454.2 359.5 453.3 358.0 453.1 356.5 453.9 355.0 455.5 353.5 458.0 352.1 462.0 350.6ZM463.8 374.5 466.5 374.6 468.5 374.9 476.5 376.9 479.5 378.1 482.0 379.6 484.6 382.0 485.5 383.5 485.4 385.0 484.7 386.0 483.1 387.5 481.5 388.7 479.5 389.7 477.0 390.7 473.0 391.7 467.5 392.7 463.5 392.9 456.0 391.8 451.5 390.7 447.0 389.0 445.3 388.0 444.1 387.0 443.4 386.0 442.9 385.0 442.8 383.5 443.1 382.5 443.7 381.5 444.7 380.5 447.5 378.8 453.0 376.7 458.5 375.3Z" stroke="#3eb2e8" stroke-width="1.0"/><path d="M461.8 102.0 465.5 101.6 469.5 101.7 474.5 102.4 477.8 103.5 479.2 104.5 480.0 106.0 479.7 109.5 479.2 111.5 477.7 113.0 475.7 114.0 472.0 115.2 468.5 115.7 465.5 115.8 462.0 115.3 458.9 114.5 456.6 113.5 454.8 112.0 454.2 110.5 454.2 108.0 454.7 106.0 455.9 104.5 457.4 103.5 459.5 102.6ZM634.5 178.5 638.0 178.4 641.5 178.8 645.0 179.8 647.2 181.0 647.6 181.5 648.1 182.5 648.0 184.0 646.9 185.5 645.0 186.9 642.5 188.1 639.0 189.3 635.5 189.9 631.5 190.2 628.5 189.9 625.5 189.1 622.5 187.7 621.2 186.5 621.1 186.0 621.2 185.0 621.9 183.5 622.8 182.5 624.5 181.3 626.5 180.3 629.0 179.4 631.5 178.8ZM606.2 184.0 610.0 183.8 613.5 184.2 616.5 185.1 618.9 186.5 619.5 187.5 619.5 188.5 619.2 189.5 617.7 191.5 615.5 193.1 612.5 194.6 609.0 195.7 605.0 196.6 602.0 196.8 597.0 196.7 594.0 196.2 591.5 195.0 590.1 193.5 589.8 192.0 590.3 190.5 591.6 189.0 594.0 187.3 596.0 186.2 599.0 185.2ZM394.5 235.7 398.0 233.8 402.0 232.0 403.7 231.0 408.0 229.9 419.5 226.3 430.5 223.5 439.5 220.3 444.5 218.8 449.0 216.8 451.0 216.2 456.0 215.8 459.5 215.0 461.5 215.0 469.0 216.0 476.0 217.5 487.5 218.4 493.5 219.5 497.6 220.0 499.6 219.5 503.0 217.3 506.8 216.5 507.2 216.0 507.1 213.5 507.3 213.0 508.9 211.0 510.0 210.2 511.0 209.8 514.5 209.0 518.2 207.5 520.0 207.0 522.0 206.8 523.7 207.0 525.0 207.5 528.5 209.5 531.0 210.6 533.0 211.2 535.5 211.2 536.4 211.5 536.2 212.0 535.5 212.4 533.5 212.4 532.0 212.8 526.0 216.4 523.5 217.4 522.0 217.5 521.0 217.4 518.0 216.4 516.0 216.1 513.0 216.4 510.4 217.0 509.5 217.6 509.4 218.0 509.6 219.0 510.6 220.5 513.0 223.0 512.9 223.5 509.0 225.9 505.1 227.5 501.0 228.8 491.0 230.8 473.0 237.3 467.0 239.2 461.0 239.9 459.5 239.8 457.0 239.4 452.5 237.8 450.0 237.2 445.0 237.0 439.5 236.0 435.0 235.5 428.5 235.7 424.5 235.2 423.0 235.2 421.5 235.6 421.0 236.0 420.2 237.5 419.8 238.0 418.5 239.0 416.8 240.0 415.0 240.7 412.5 241.4 406.5 242.1 404.8 242.5 404.6 243.0 404.9 244.0 404.6 244.5 404.0 245.0 402.5 245.5 400.5 245.7 398.0 245.5 396.5 244.9 396.0 244.5 395.9 244.0 396.2 243.5 398.4 242.0 397.7 241.5 394.5 240.3M466.9 306.5 468.1 306.5ZM466.2 350.5 468.5 350.7 471.5 351.6 474.5 352.8 477.0 354.3 478.3 355.5 479.1 357.0 479.2 358.0 478.5 359.5 477.0 360.9 474.5 362.2 470.5 363.4 466.5 364.2 464.5 364.0 462.5 363.4 459.0 361.8 456.5 360.3 455.1 359.0 454.3 357.5 454.5 356.0 455.5 354.6 457.5 353.2 461.0 351.7 464.0 350.8ZM463.9 375.0 468.0 375.3 476.0 377.3 479.0 378.5 481.3 380.0 482.3 381.0 483.4 382.5 483.7 383.5 483.8 384.5 483.5 385.5 482.8 386.5 481.8 387.5 480.0 388.7 476.5 390.2 471.0 391.7 467.0 392.4 463.5 392.4 456.0 391.3 452.0 390.3 449.0 389.2 447.0 388.2 445.5 387.0 444.7 386.0 444.1 384.5 444.1 383.5 444.5 382.5 445.6 381.0 447.5 379.7 451.5 377.8 456.0 376.3 459.0 375.7Z" stroke="#3eb2e8" stroke-width="1.0"/><path d="M465.7 102.0 468.5 102.1 473.0 102.7 475.6 103.5 477.2 104.5 477.9 105.5 478.2 107.0 477.6 110.5 476.8 112.0 475.6 113.0 473.0 114.2 470.5 115.0 467.5 115.4 465.0 115.3 462.0 114.8 459.6 114.0 457.8 113.0 456.9 112.0 456.4 110.5 456.5 107.0 456.7 106.0 457.3 105.0 458.4 104.0 460.5 103.0 463.0 102.3ZM633.2 179.0 636.0 178.8 638.5 178.8 641.5 179.3 644.0 180.0 645.5 180.7 646.6 181.5 647.2 182.5 647.1 184.0 646.0 185.5 644.0 186.9 641.0 188.3 638.0 189.1 634.5 189.7 631.5 189.8 628.5 189.4 626.0 188.8 624.0 187.8 622.6 186.5 622.4 186.0 622.2 185.0 622.8 183.5 624.5 181.9 627.5 180.3 630.5 179.4ZM605.3 184.5 609.0 184.2 612.5 184.6 615.5 185.4 617.4 186.5 617.9 187.0 618.3 188.0 618.2 189.5 617.2 191.0 615.0 192.8 612.5 194.1 609.0 195.3 605.5 196.1 602.5 196.4 598.0 196.3 595.0 195.9 592.8 195.0 592.0 194.5 591.1 193.5 590.7 192.0 591.2 190.5 592.5 189.0 594.5 187.5 596.0 186.7 598.5 185.8 601.0 185.2ZM457.7 217.0 459.5 216.5 460.5 216.5 467.0 217.0 474.5 218.6 481.5 219.2 487.5 220.1 498.0 222.4 500.0 222.5 503.5 222.1 505.5 222.3 507.0 222.7 508.6 223.5 508.2 224.0 507.4 224.5 504.0 225.9 497.0 228.1 490.5 229.1 486.5 230.8 481.0 232.5 476.9 234.0 467.5 237.7 461.0 238.7 459.0 238.5 457.0 238.1 452.0 236.2 449.5 235.5 444.0 235.3 434.0 234.0 428.5 233.9 422.7 233.0 414.0 232.3 413.0 231.9 411.9 230.5 412.9 230.0 421.0 227.2 424.5 226.2 429.5 225.4 432.0 224.7 438.5 222.2 444.5 220.5 450.5 217.8 452.0 217.5 456.0 217.3ZM410.9 233.0 412.5 232.7 413.0 232.7 413.5 233.0 414.5 233.8 416.0 235.5 416.8 237.0 416.8 237.5 415.8 238.5 413.0 239.8 411.0 240.3 409.0 240.5 405.0 240.7 402.6 240.5 400.0 240.1 398.0 239.5 397.0 239.0 396.1 238.0 396.0 237.5 397.1 236.5 398.5 235.7 400.0 235.1 405.0 234.0ZM399.0 243.5 400.5 243.4 401.6 243.5 402.5 244.0 402.4 244.5 401.0 245.0 399.0 244.9 398.0 244.5 398.0 244.0ZM463.8 351.5 466.0 351.1 468.0 351.3 471.0 352.1 474.0 353.5 476.2 355.0 477.6 356.5 477.9 357.5 477.5 359.0 476.0 360.4 473.9 361.5 470.5 362.7 467.0 363.5 465.5 363.5 464.0 363.2 462.0 362.4 459.5 361.2 457.5 359.9 456.1 358.5 455.6 357.0 455.8 356.0 456.6 355.0 458.5 353.7 461.5 352.3ZM464.2 375.5 468.0 375.8 475.5 377.8 478.5 379.0 480.5 380.5 481.4 381.5 482.0 382.5 482.3 383.5 482.4 384.5 482.1 385.5 481.4 386.5 480.4 387.5 479.0 388.5 476.0 389.8 471.0 391.2 467.5 391.9 464.0 392.0 457.5 391.1 453.5 390.2 451.0 389.3 448.4 388.0 447.0 387.0 446.1 386.0 445.5 384.5 445.7 383.0 446.7 381.5 449.0 379.8 452.5 378.1 456.5 376.7 459.5 376.1Z" stroke="#3eb2e8" stroke-width="1.35"/><path d="M466.3 102.5 469.0 102.7 472.5 103.3 474.3 104.0 475.6 105.0 476.2 106.5 475.7 110.0 475.1 111.5 473.5 113.0 472.0 113.8 470.0 114.5 468.0 114.8 466.0 114.8 463.5 114.5 461.5 113.9 459.8 113.0 458.9 112.0 458.4 110.5 458.4 107.0 458.6 106.0 459.2 105.0 460.3 104.0 462.0 103.2 464.0 102.7ZM632.5 179.5 635.5 179.2 638.0 179.2 640.5 179.6 643.0 180.3 644.7 181.0 645.9 182.0 646.3 183.0 646.1 184.0 645.0 185.5 643.5 186.6 641.0 187.8 638.0 188.7 635.0 189.3 632.5 189.4 630.0 189.3 627.5 188.7 625.0 187.6 623.7 186.5 623.3 185.5 623.5 184.0 624.7 182.5 627.0 181.1 629.5 180.1ZM604.7 185.0 608.0 184.7 611.0 184.8 614.0 185.5 616.0 186.5 616.6 187.0 617.2 188.0 617.2 189.5 616.3 191.0 614.5 192.5 612.5 193.6 609.5 194.7 606.0 195.6 603.0 196.0 599.0 195.9 596.0 195.5 594.0 194.9 593.0 194.3 592.2 193.5 591.8 192.5 591.9 191.0 592.9 189.5 594.7 188.0 596.5 187.0 598.5 186.2 601.0 185.6ZM458.1 218.5 459.5 218.2 466.0 218.3 468.5 218.6 474.0 219.8 481.0 220.3 489.5 222.4 495.0 223.4 497.2 224.0 498.3 224.5 497.2 225.5 495.5 226.4 490.0 227.3 485.5 229.5 477.5 232.0 467.0 236.4 461.0 237.4 459.0 237.3 457.0 236.8 452.0 234.7 449.0 233.9 441.0 233.4 433.5 232.4 427.5 232.0 421.5 231.0 418.5 230.0 419.1 229.5 420.3 229.0 423.2 228.0 425.5 227.4 431.5 226.5 439.0 223.6 444.0 222.4 451.0 219.3 453.0 218.9ZM409.4 236.0 411.0 236.2 412.3 237.0 412.4 237.5 412.0 237.8 410.3 238.5 408.5 238.7 405.0 238.6 402.8 238.0 402.3 237.5 405.0 236.5ZM464.8 352.0 466.5 351.8 468.0 351.9 470.5 352.7 472.5 353.7 474.5 355.0 475.9 356.5 476.3 357.5 476.0 358.5 475.0 359.7 473.0 360.9 470.5 361.9 467.5 362.7 466.0 362.8 464.5 362.6 463.0 362.1 460.9 361.0 458.6 359.5 457.7 358.5 457.2 357.5 457.2 356.5 458.0 355.4 459.9 354.0 462.5 352.7ZM460.3 376.5 464.0 376.0 467.5 376.2 470.0 376.8 476.8 379.0 479.0 380.3 480.5 382.0 480.9 383.0 481.1 384.0 480.7 385.5 480.1 386.5 479.0 387.5 476.5 388.9 472.0 390.4 467.5 391.4 464.5 391.6 461.5 391.2 456.0 390.3 452.1 389.0 449.4 387.5 447.7 386.0 447.1 384.5 447.2 383.5 447.7 382.5 448.5 381.5 449.7 380.5 452.5 378.9 456.5 377.3Z" stroke="#3eb2e8" stroke-width="1.35"/><path d="M463.9 103.5 466.5 103.1 468.5 103.3 471.5 104.0 473.3 105.0 474.0 106.0 474.1 107.5 473.6 110.5 472.7 112.0 471.5 113.0 470.4 113.5 468.7 114.0 467.0 114.2 465.0 114.1 463.5 113.7 462.0 113.1 461.3 112.5 460.6 111.5 460.3 110.5 460.2 107.5 460.5 106.0 461.1 105.0 461.6 104.5ZM632.1 180.0 635.0 179.7 637.5 179.7 639.5 179.9 641.5 180.4 643.5 181.2 644.6 182.0 645.2 183.0 645.1 184.0 644.0 185.5 642.5 186.5 640.5 187.5 638.0 188.3 635.0 188.8 632.5 189.0 630.0 188.8 628.0 188.3 626.1 187.5 624.9 186.5 624.4 185.5 624.3 185.0 624.5 184.0 625.8 182.5 627.5 181.4 629.5 180.6ZM604.3 185.5 608.0 185.2 611.0 185.4 613.5 186.0 615.3 187.0 616.0 188.0 616.2 188.5 616.1 189.5 615.2 191.0 613.5 192.4 611.0 193.7 608.0 194.7 605.5 195.3 603.0 195.5 599.0 195.4 596.5 195.0 594.5 194.3 593.1 193.0 592.8 192.0 593.2 190.5 593.9 189.5 595.5 188.2 597.0 187.3 599.0 186.6 602.0 185.8ZM458.3 220.0 459.5 219.8 466.0 219.7 468.0 219.9 473.5 221.1 480.0 221.4 483.0 222.2 490.1 225.0 488.5 225.8 486.0 227.5 484.5 228.3 477.5 230.4 466.5 234.9 460.5 236.0 459.0 235.9 456.5 235.2 450.8 233.0 448.0 232.3 439.0 231.6 432.0 230.3 427.0 229.9 425.0 229.5 426.4 229.0 432.0 228.0 439.0 225.4 444.0 224.2 450.0 221.3 452.0 220.6 454.0 220.3ZM464.3 353.0 466.0 352.6 467.5 352.6 469.5 353.1 471.0 353.8 472.7 355.0 474.0 356.5 474.3 357.5 474.0 358.5 473.1 359.5 471.5 360.5 469.5 361.3 467.5 361.9 466.5 362.0 465.0 361.9 462.5 360.9 459.9 359.0 459.2 358.0 459.0 357.0 459.5 356.0 460.5 355.0 462.5 353.8ZM460.9 377.0 464.0 376.6 467.5 376.8 470.5 377.6 476.1 379.5 477.8 380.5 479.2 382.0 479.6 383.0 479.7 384.0 479.4 385.5 478.1 387.0 475.5 388.5 471.0 390.1 467.5 390.8 464.5 391.0 462.5 390.9 456.5 389.8 453.5 388.8 451.2 387.5 449.5 386.0 448.9 384.5 449.0 383.5 449.4 382.5 450.2 381.5 451.4 380.5 453.9 379.0 457.0 377.8Z" stroke="#46b6e9" stroke-width="1.35"/><path d="M464.3 104.5 466.5 104.0 468.0 104.2 470.5 105.0 471.5 105.8 472.0 107.0 471.9 109.0 471.5 110.6 470.5 112.0 469.0 112.9 467.0 113.3 464.7 113.0 463.6 112.5 463.0 112.0 462.2 110.5 462.2 107.0 462.8 105.5ZM632.2 180.5 637.0 180.2 640.5 180.8 642.0 181.3 643.1 182.0 643.9 183.0 643.9 184.0 643.3 185.0 642.1 186.0 640.2 187.0 638.0 187.8 635.5 188.3 633.0 188.5 631.0 188.4 629.0 188.0 627.5 187.5 626.1 186.5 625.5 185.5 625.4 185.0 625.7 184.0 626.4 183.0 628.0 181.9 630.0 181.0ZM604.3 186.0 607.5 185.8 610.0 185.9 612.0 186.3 613.7 187.0 614.8 188.0 615.0 188.5 615.0 189.5 614.2 191.0 613.0 192.0 611.2 193.0 609.0 193.8 606.0 194.7 603.5 195.0 600.5 195.0 597.5 194.6 595.7 194.0 594.4 193.0 593.9 192.0 594.0 191.0 595.0 189.5 596.2 188.5 598.0 187.5 600.0 186.8ZM457.3 221.5 459.5 221.3 466.0 221.0 468.0 221.3 473.0 222.5 479.5 222.8 481.5 223.3 483.3 224.0 485.3 225.0 485.3 225.5 484.1 226.5 483.0 227.1 477.5 228.8 472.5 230.9 466.5 233.1 460.5 234.5 459.0 234.4 456.5 233.8 448.5 231.0 445.0 230.3 438.5 229.4 436.8 229.0 436.4 228.5 439.5 227.3 444.5 225.9 449.0 223.5 451.5 222.4 454.0 221.8ZM465.9 353.5 467.0 353.4 468.5 353.7 470.1 354.5 471.4 355.5 472.1 356.5 472.3 357.5 472.0 358.3 471.4 359.0 469.0 360.4 466.5 361.1 465.0 360.9 464.0 360.5 461.9 359.0 461.1 357.5 461.1 357.0 461.6 356.0 463.5 354.5ZM461.8 377.5 464.5 377.2 467.5 377.4 470.5 378.3 475.0 379.9 476.8 381.0 477.8 382.0 478.3 383.5 478.1 385.0 477.0 386.5 474.7 388.0 471.0 389.4 467.5 390.3 465.0 390.5 463.0 390.4 457.5 389.4 454.7 388.5 452.3 387.0 451.0 385.5 450.8 384.0 451.2 382.5 452.0 381.5 453.1 380.5 455.5 379.1 458.0 378.2Z" stroke="#4ebaea" stroke-width="1.35"/><path d="M465.6 106.0 466.5 105.7 467.5 105.8 468.5 106.5 468.9 107.5 468.9 109.0 468.5 110.4 468.0 111.1 467.0 111.6 466.2 111.5 465.5 111.1 464.8 110.0 464.7 107.5 465.0 106.5ZM632.7 181.0 636.5 180.8 639.5 181.2 641.0 181.8 642.0 182.5 642.4 183.0 642.5 184.0 641.9 185.0 640.7 186.0 637.5 187.3 635.5 187.8 633.0 188.0 631.0 187.8 629.5 187.5 628.0 186.8 627.0 186.0 626.7 185.0 626.9 184.0 627.7 183.0 629.2 182.0 631.0 181.3ZM604.9 186.5 607.5 186.4 610.0 186.6 611.6 187.0 613.0 187.7 613.6 188.5 613.8 189.0 613.6 190.0 612.9 191.0 611.6 192.0 609.6 193.0 607.0 193.9 605.0 194.3 603.0 194.5 600.5 194.4 598.0 194.0 596.5 193.4 595.5 192.5 595.2 191.5 595.5 190.5 596.2 189.5 597.5 188.5 600.5 187.3ZM462.7 222.5 466.5 222.5 472.5 223.9 479.5 224.7 481.7 225.5 480.7 226.0 476.5 227.4 472.0 229.5 465.5 231.6 460.5 233.0 458.5 232.8 453.5 231.4 445.8 228.5 444.9 228.0 449.5 224.9 452.5 223.6 455.5 223.0 459.5 222.6ZM465.2 355.0 466.0 354.7 467.0 354.6 468.0 354.8 469.0 355.3 470.1 356.5 470.2 357.5 470.0 358.0 468.9 359.0 467.0 359.8 466.0 359.8 464.5 359.3 463.4 358.0 463.3 357.0 463.9 356.0ZM463.1 378.0 465.5 377.9 468.0 378.3 470.5 379.0 474.0 380.5 475.6 381.5 476.4 382.5 476.8 383.5 476.5 385.0 475.3 386.5 473.5 387.6 470.5 388.8 467.0 389.7 464.5 389.9 463.0 389.7 458.0 388.8 455.5 387.9 454.0 387.0 452.8 385.5 452.5 384.5 452.6 383.5 453.3 382.0 454.9 380.5 457.0 379.4 459.5 378.6Z" stroke="#57beec" stroke-width="1.35"/><path d="M634.8 181.5 637.0 181.6 638.5 181.8 640.0 182.5 640.6 183.0 640.9 183.5 640.7 184.5 640.0 185.3 639.0 186.0 636.0 187.0 632.5 187.3 630.0 186.8 629.0 186.3 628.2 185.5 628.1 185.0 628.3 184.0 629.5 182.8 632.0 181.8ZM602.2 187.5 606.0 187.1 609.5 187.4 611.5 188.1 612.0 188.6 612.3 189.5 611.9 190.5 610.8 191.5 607.5 193.0 604.0 193.8 602.0 193.8 600.0 193.6 598.5 193.2 597.2 192.5 596.7 191.5 596.9 190.5 597.7 189.5 599.0 188.6ZM458.6 224.0 464.0 223.8 466.0 223.9 474.4 226.0 473.0 227.0 471.5 227.8 464.5 230.2 460.5 231.4 459.0 231.4 456.0 230.8 452.5 229.6 449.0 228.0 448.9 227.5 450.5 226.2 452.5 225.2 455.0 224.5ZM461.8 379.0 464.0 378.6 466.5 378.8 469.0 379.4 471.6 380.5 473.4 381.5 474.5 382.5 474.9 383.5 474.7 385.0 473.5 386.3 471.5 387.5 469.0 388.5 466.5 389.0 463.5 389.1 459.0 388.2 456.9 387.5 455.3 386.5 454.6 385.5 454.3 384.0 454.7 382.5 456.0 381.1 457.5 380.2 459.0 379.6Z" stroke="#5fc2ed" stroke-width="1.35"/><path d="M633.5 182.5 636.0 182.5 637.5 182.8 638.7 183.5 638.9 184.0 638.8 184.5 637.7 185.5 635.5 186.2 633.0 186.4 631.0 186.0 630.2 185.5 629.9 185.0 629.9 184.5 630.1 184.0 631.5 183.0ZM604.2 188.0 607.5 188.1 609.0 188.5 609.9 189.0 610.2 189.5 610.2 190.0 609.9 190.5 608.7 191.5 606.0 192.6 603.0 193.1 601.5 193.0 600.0 192.6 598.9 192.0 598.5 191.5 598.6 190.5 599.0 189.9 600.0 189.2 602.0 188.4ZM457.7 225.5 460.0 225.1 464.5 225.3 467.0 225.8 468.6 226.5 466.7 227.5 463.5 228.8 460.5 229.7 459.5 229.7 455.0 228.8 452.7 228.0 452.0 227.5 454.0 226.4ZM461.5 380.0 464.0 379.5 465.0 379.6 467.0 379.9 469.0 380.5 470.9 381.5 472.1 382.5 472.7 383.5 472.7 384.5 472.5 385.0 471.6 386.0 470.0 387.0 468.0 387.7 466.0 388.2 463.5 388.2 460.0 387.4 458.0 386.7 457.0 386.0 456.3 385.0 456.1 384.0 456.4 383.0 457.1 382.0 458.0 381.3 459.5 380.6Z" stroke="#67c6ee" stroke-width="1.35"/><path d="M602.4 189.5 604.0 189.2 605.5 189.3 606.5 189.7 606.8 190.0 606.8 190.5 606.3 191.0 605.0 191.6 603.5 191.9 602.5 191.8 601.5 191.5 601.0 191.0 601.0 190.5 601.5 190.0ZM458.6 227.0 460.0 226.7 461.6 227.0 460.0 227.6 459.4 227.5ZM462.3 381.0 464.5 380.7 466.3 381.0 467.6 381.5 468.5 382.0 469.5 383.0 469.9 384.0 469.6 385.0 468.5 386.0 467.5 386.5 465.0 387.1 463.2 387.0 460.0 385.9 459.0 385.2 458.6 384.5 458.5 383.5 458.8 383.0 460.0 381.9Z" stroke="#70caf0" stroke-width="1.35"/><path d="M462.9 383.0 464.0 382.5 465.0 382.8 465.7 383.5 465.8 384.0 465.6 384.5 464.5 385.2 464.0 385.2 463.3 385.0 462.6 384.5 462.4 384.0 462.4 383.5Z" stroke="#78cef1" stroke-width="1.35"/></g></g><g><ellipse cx="165" cy="288" rx="12" ry="3.6" fill="#eef4f8" stroke="#b4bcc4" stroke-width="0.6"/><ellipse cx="165" cy="288" rx="9.0" ry="2.7" fill="none" stroke="#b4bcc4" stroke-width="0.6"/><ellipse cx="165" cy="288" rx="6.0" ry="1.8" fill="none" stroke="#b4bcc4" stroke-width="0.6"/><ellipse cx="165" cy="288" rx="3.0" ry="1.3" fill="none" stroke="#b4bcc4" stroke-width="0.6"/><ellipse cx="165.5" cy="129.5" rx="9" ry="3" fill="#eef4f8" stroke="#b4bcc4" stroke-width="0.6"/><ellipse cx="165.5" cy="129.5" rx="6.0" ry="2.0" fill="none" stroke="#b4bcc4" stroke-width="0.6"/><ellipse cx="165.5" cy="129.5" rx="3.0" ry="1.0" fill="none" stroke="#b4bcc4" stroke-width="0.6"/><ellipse cx="467" cy="108.7" rx="16" ry="2.6" fill="#e4eef4" stroke="#b0b8c0" stroke-width="0.6"/><ellipse cx="467" cy="108.7" rx="12.8" ry="2.1" fill="none" stroke="#b0b8c0" stroke-width="0.6"/><ellipse cx="467" cy="108.7" rx="9.6" ry="1.6" fill="none" stroke="#b0b8c0" stroke-width="0.6"/><ellipse cx="467" cy="108.7" rx="6.4" ry="1.0" fill="none" stroke="#b0b8c0" stroke-width="0.6"/><ellipse cx="467" cy="108.7" rx="3.2" ry="0.9" fill="none" stroke="#b0b8c0" stroke-width="0.6"/><ellipse cx="466.7" cy="357.2" rx="14" ry="2.6" fill="#ffffff" stroke="#9fd4ee" stroke-width="0.6"/><ellipse cx="466.7" cy="357.2" rx="11.2" ry="2.1" fill="none" stroke="#9fd4ee" stroke-width="0.6"/><ellipse cx="466.7" cy="357.2" rx="8.4" ry="1.6" fill="none" stroke="#9fd4ee" stroke-width="0.6"/><ellipse cx="466.7" cy="357.2" rx="5.6" ry="1.0" fill="none" stroke="#9fd4ee" stroke-width="0.6"/><ellipse cx="466.7" cy="357.2" rx="2.8" ry="0.9" fill="none" stroke="#9fd4ee" stroke-width="0.6"/><ellipse cx="465.5" cy="383.6" rx="16" ry="3.6" fill="#dde8ee" stroke="#aab0b8" stroke-width="0.6"/><ellipse cx="465.5" cy="383.6" rx="12.8" ry="2.9" fill="none" stroke="#aab0b8" stroke-width="0.6"/><ellipse cx="465.5" cy="383.6" rx="9.6" ry="2.2" fill="none" stroke="#aab0b8" stroke-width="0.6"/><ellipse cx="465.5" cy="383.6" rx="6.4" ry="1.4" fill="none" stroke="#aab0b8" stroke-width="0.6"/><ellipse cx="465.5" cy="383.6" rx="3.2" ry="1.3" fill="none" stroke="#aab0b8" stroke-width="0.6"/></g><g fill="none"><path d="M69.6 64.0L265.6 64.0" stroke="#262626" stroke-width="1.25"/><path d="M69.6 413.5L265.6 413.5" stroke="#262626" stroke-width="1.25"/><path d="M69.6 64.0L69.6 271.0" stroke="#262626" stroke-width="1.25"/><path d="M69.6 300.0L69.6 413.5" stroke="#262626" stroke-width="1.25"/><path d="M265.6 114.5L265.6 261.7" stroke="#262626" stroke-width="1.25"/><path d="M265.6 285.6L265.6 350.4" stroke="#262626" stroke-width="1.25"/><path d="M265.6 376.7L265.6 413.5" stroke="#262626" stroke-width="1.25"/><path d="M75.1 64.0L75.1 60.5" stroke="#262626" stroke-width="1.25"/><path d="M75.1 413.5L75.1 416.5" stroke="#262626" stroke-width="1.25"/><path d="M102.1 64.0L102.1 60.5" stroke="#262626" stroke-width="1.25"/><path d="M102.1 413.5L102.1 416.5" stroke="#262626" stroke-width="1.25"/><path d="M129.2 64.0L129.2 60.5" stroke="#262626" stroke-width="1.25"/><path d="M129.2 413.5L129.2 416.5" stroke="#262626" stroke-width="1.25"/><path d="M156.2 64.0L156.2 60.5" stroke="#262626" stroke-width="1.25"/><path d="M156.2 413.5L156.2 416.5" stroke="#262626" stroke-width="1.25"/><path d="M183.3 64.0L183.3 60.5" stroke="#262626" stroke-width="1.25"/><path d="M183.3 413.5L183.3 416.5" stroke="#262626" stroke-width="1.25"/><path d="M210.3 64.0L210.3 60.5" stroke="#262626" stroke-width="1.25"/><path d="M210.3 413.5L210.3 416.5" stroke="#262626" stroke-width="1.25"/><path d="M237.4 64.0L237.4 60.5" stroke="#262626" stroke-width="1.25"/><path d="M237.4 413.5L237.4 416.5" stroke="#262626" stroke-width="1.25"/><path d="M264.4 64.0L264.4 60.5" stroke="#262626" stroke-width="1.25"/><path d="M264.4 413.5L264.4 416.5" stroke="#262626" stroke-width="1.25"/><path d="M69.6 67.1L66.6 67.1" stroke="#262626" stroke-width="1.25"/><path d="M69.6 80.6L66.6 80.6" stroke="#262626" stroke-width="1.25"/><path d="M69.6 94.2L66.6 94.2" stroke="#262626" stroke-width="1.25"/><path d="M69.6 107.7L66.6 107.7" stroke="#262626" stroke-width="1.25"/><path d="M69.6 121.2L64.3 121.2" stroke="#262626" stroke-width="1.25"/><path d="M265.6 121.2L269.6 121.2" stroke="#262626" stroke-width="1.25"/><path d="M69.6 134.7L66.6 134.7" stroke="#262626" stroke-width="1.25"/><path d="M265.6 134.7L268.1 134.7" stroke="#262626" stroke-width="1.25"/><path d="M69.6 148.2L66.6 148.2" stroke="#262626" stroke-width="1.25"/><path d="M265.6 148.2L268.1 148.2" stroke="#262626" stroke-width="1.25"/><path d="M69.6 161.8L66.6 161.8" stroke="#262626" stroke-width="1.25"/><path d="M265.6 161.8L268.1 161.8" stroke="#262626" stroke-width="1.25"/><path d="M69.6 175.3L66.6 175.3" stroke="#262626" stroke-width="1.25"/><path d="M265.6 175.3L268.1 175.3" stroke="#262626" stroke-width="1.25"/><path d="M69.6 188.8L64.3 188.8" stroke="#262626" stroke-width="1.25"/><path d="M265.6 188.8L269.6 188.8" stroke="#262626" stroke-width="1.25"/><path d="M69.6 202.3L66.6 202.3" stroke="#262626" stroke-width="1.25"/><path d="M265.6 202.3L268.1 202.3" stroke="#262626" stroke-width="1.25"/><path d="M69.6 215.8L66.6 215.8" stroke="#262626" stroke-width="1.25"/><path d="M265.6 215.8L268.1 215.8" stroke="#262626" stroke-width="1.25"/><path d="M69.6 229.4L66.6 229.4" stroke="#262626" stroke-width="1.25"/><path d="M265.6 229.4L268.1 229.4" stroke="#262626" stroke-width="1.25"/><path d="M69.6 242.9L66.6 242.9" stroke="#262626" stroke-width="1.25"/><path d="M265.6 242.9L268.1 242.9" stroke="#262626" stroke-width="1.25"/><path d="M69.6 256.4L64.3 256.4" stroke="#262626" stroke-width="1.25"/><path d="M265.6 256.4L269.6 256.4" stroke="#262626" stroke-width="1.25"/><path d="M69.6 269.9L66.6 269.9" stroke="#262626" stroke-width="1.25"/><path d="M265.6 297.0L268.1 297.0" stroke="#262626" stroke-width="1.25"/><path d="M69.6 310.5L66.6 310.5" stroke="#262626" stroke-width="1.25"/><path d="M265.6 310.5L268.1 310.5" stroke="#262626" stroke-width="1.25"/><path d="M69.6 324.0L64.3 324.0" stroke="#262626" stroke-width="1.25"/><path d="M265.6 324.0L269.6 324.0" stroke="#262626" stroke-width="1.25"/><path d="M69.6 337.5L66.6 337.5" stroke="#262626" stroke-width="1.25"/><path d="M265.6 337.5L268.1 337.5" stroke="#262626" stroke-width="1.25"/><path d="M69.6 351.0L66.6 351.0" stroke="#262626" stroke-width="1.25"/><path d="M69.6 364.6L66.6 364.6" stroke="#262626" stroke-width="1.25"/><path d="M69.6 378.1L66.6 378.1" stroke="#262626" stroke-width="1.25"/><path d="M265.6 378.1L268.1 378.1" stroke="#262626" stroke-width="1.25"/><path d="M69.6 391.6L64.3 391.6" stroke="#262626" stroke-width="1.25"/><path d="M265.6 391.6L269.6 391.6" stroke="#262626" stroke-width="1.25"/><path d="M69.6 405.1L66.6 405.1" stroke="#262626" stroke-width="1.25"/><path d="M265.6 405.1L268.1 405.1" stroke="#262626" stroke-width="1.25"/><path d="M400.4 58.2H664.5V420.6H400.4Z" stroke="#262626" stroke-width="1.25" fill="none"/><path d="M400.4 58.2L400.4 55.0" stroke="#262626" stroke-width="1.25"/><path d="M400.4 420.6L400.4 417.4" stroke="#262626" stroke-width="1.25"/><path d="M408.3 58.2L408.3 56.4" stroke="#262626" stroke-width="1.25"/><path d="M408.3 420.6L408.3 418.8" stroke="#262626" stroke-width="1.25"/><path d="M416.3 58.2L416.3 56.4" stroke="#262626" stroke-width="1.25"/><path d="M416.3 420.6L416.3 418.8" stroke="#262626" stroke-width="1.25"/><path d="M424.2 58.2L424.2 56.4" stroke="#262626" stroke-width="1.25"/><path d="M424.2 420.6L424.2 418.8" stroke="#262626" stroke-width="1.25"/><path d="M432.2 58.2L432.2 56.4" stroke="#262626" stroke-width="1.25"/><path d="M432.2 420.6L432.2 418.8" stroke="#262626" stroke-width="1.25"/><path d="M440.1 58.2L440.1 55.0" stroke="#262626" stroke-width="1.25"/><path d="M440.1 420.6L440.1 417.4" stroke="#262626" stroke-width="1.25"/><path d="M448.0 58.2L448.0 56.4" stroke="#262626" stroke-width="1.25"/><path d="M448.0 420.6L448.0 418.8" stroke="#262626" stroke-width="1.25"/><path d="M456.0 58.2L456.0 56.4" stroke="#262626" stroke-width="1.25"/><path d="M456.0 420.6L456.0 418.8" stroke="#262626" stroke-width="1.25"/><path d="M463.9 58.2L463.9 56.4" stroke="#262626" stroke-width="1.25"/><path d="M463.9 420.6L463.9 418.8" stroke="#262626" stroke-width="1.25"/><path d="M471.9 58.2L471.9 56.4" stroke="#262626" stroke-width="1.25"/><path d="M471.9 420.6L471.9 418.8" stroke="#262626" stroke-width="1.25"/><path d="M479.8 58.2L479.8 55.0" stroke="#262626" stroke-width="1.25"/><path d="M479.8 420.6L479.8 417.4" stroke="#262626" stroke-width="1.25"/><path d="M487.7 58.2L487.7 56.4" stroke="#262626" stroke-width="1.25"/><path d="M487.7 420.6L487.7 418.8" stroke="#262626" stroke-width="1.25"/><path d="M495.7 58.2L495.7 56.4" stroke="#262626" stroke-width="1.25"/><path d="M495.7 420.6L495.7 418.8" stroke="#262626" stroke-width="1.25"/><path d="M503.6 58.2L503.6 56.4" stroke="#262626" stroke-width="1.25"/><path d="M503.6 420.6L503.6 418.8" stroke="#262626" stroke-width="1.25"/><path d="M511.6 58.2L511.6 56.4" stroke="#262626" stroke-width="1.25"/><path d="M511.6 420.6L511.6 418.8" stroke="#262626" stroke-width="1.25"/><path d="M519.5 58.2L519.5 55.0" stroke="#262626" stroke-width="1.25"/><path d="M519.5 420.6L519.5 417.4" stroke="#262626" stroke-width="1.25"/><path d="M527.4 58.2L527.4 56.4" stroke="#262626" stroke-width="1.25"/><path d="M527.4 420.6L527.4 418.8" stroke="#262626" stroke-width="1.25"/><path d="M535.4 58.2L535.4 56.4" stroke="#262626" stroke-width="1.25"/><path d="M535.4 420.6L535.4 418.8" stroke="#262626" stroke-width="1.25"/><path d="M543.3 58.2L543.3 56.4" stroke="#262626" stroke-width="1.25"/><path d="M543.3 420.6L543.3 418.8" stroke="#262626" stroke-width="1.25"/><path d="M551.3 58.2L551.3 56.4" stroke="#262626" stroke-width="1.25"/><path d="M551.3 420.6L551.3 418.8" stroke="#262626" stroke-width="1.25"/><path d="M559.2 58.2L559.2 55.0" stroke="#262626" stroke-width="1.25"/><path d="M559.2 420.6L559.2 417.4" stroke="#262626" stroke-width="1.25"/><path d="M567.1 58.2L567.1 56.4" stroke="#262626" stroke-width="1.25"/><path d="M567.1 420.6L567.1 418.8" stroke="#262626" stroke-width="1.25"/><path d="M575.1 58.2L575.1 56.4" stroke="#262626" stroke-width="1.25"/><path d="M575.1 420.6L575.1 418.8" stroke="#262626" stroke-width="1.25"/><path d="M583.0 58.2L583.0 56.4" stroke="#262626" stroke-width="1.25"/><path d="M583.0 420.6L583.0 418.8" stroke="#262626" stroke-width="1.25"/><path d="M591.0 58.2L591.0 56.4" stroke="#262626" stroke-width="1.25"/><path d="M591.0 420.6L591.0 418.8" stroke="#262626" stroke-width="1.25"/><path d="M598.9 58.2L598.9 55.0" stroke="#262626" stroke-width="1.25"/><path d="M598.9 420.6L598.9 417.4" stroke="#262626" stroke-width="1.25"/><path d="M606.8 58.2L606.8 56.4" stroke="#262626" stroke-width="1.25"/><path d="M606.8 420.6L606.8 418.8" stroke="#262626" stroke-width="1.25"/><path d="M614.8 58.2L614.8 56.4" stroke="#262626" stroke-width="1.25"/><path d="M614.8 420.6L614.8 418.8" stroke="#262626" stroke-width="1.25"/><path d="M622.7 58.2L622.7 56.4" stroke="#262626" stroke-width="1.25"/><path d="M622.7 420.6L622.7 418.8" stroke="#262626" stroke-width="1.25"/><path d="M630.7 58.2L630.7 56.4" stroke="#262626" stroke-width="1.25"/><path d="M630.7 420.6L630.7 418.8" stroke="#262626" stroke-width="1.25"/><path d="M638.6 58.2L638.6 55.0" stroke="#262626" stroke-width="1.25"/><path d="M638.6 420.6L638.6 417.4" stroke="#262626" stroke-width="1.25"/><path d="M646.5 58.2L646.5 56.4" stroke="#262626" stroke-width="1.25"/><path d="M646.5 420.6L646.5 418.8" stroke="#262626" stroke-width="1.25"/><path d="M654.5 58.2L654.5 56.4" stroke="#262626" stroke-width="1.25"/><path d="M654.5 420.6L654.5 418.8" stroke="#262626" stroke-width="1.25"/><path d="M662.4 58.2L662.4 56.4" stroke="#262626" stroke-width="1.25"/><path d="M662.4 420.6L662.4 418.8" stroke="#262626" stroke-width="1.25"/><path d="M400.4 71.8L398.2 71.8" stroke="#262626" stroke-width="1.25"/><path d="M664.5 71.8L666.7 71.8" stroke="#262626" stroke-width="1.25"/><path d="M400.4 91.7L398.2 91.7" stroke="#262626" stroke-width="1.25"/><path d="M664.5 91.7L666.7 91.7" stroke="#262626" stroke-width="1.25"/><path d="M400.4 111.7L398.2 111.7" stroke="#262626" stroke-width="1.25"/><path d="M664.5 111.7L666.7 111.7" stroke="#262626" stroke-width="1.25"/><path d="M400.4 131.6L398.2 131.6" stroke="#262626" stroke-width="1.25"/><path d="M664.5 131.6L666.7 131.6" stroke="#262626" stroke-width="1.25"/><path d="M400.4 151.5L396.9 151.5" stroke="#262626" stroke-width="1.25"/><path d="M664.5 151.5L668.0 151.5" stroke="#262626" stroke-width="1.25"/><path d="M400.4 171.4L398.2 171.4" stroke="#262626" stroke-width="1.25"/><path d="M664.5 171.4L666.7 171.4" stroke="#262626" stroke-width="1.25"/><path d="M400.4 191.3L398.2 191.3" stroke="#262626" stroke-width="1.25"/><path d="M664.5 191.3L666.7 191.3" stroke="#262626" stroke-width="1.25"/><path d="M400.4 211.3L398.2 211.3" stroke="#262626" stroke-width="1.25"/><path d="M664.5 211.3L666.7 211.3" stroke="#262626" stroke-width="1.25"/><path d="M400.4 231.2L398.2 231.2" stroke="#262626" stroke-width="1.25"/><path d="M664.5 231.2L666.7 231.2" stroke="#262626" stroke-width="1.25"/><path d="M400.4 251.1L396.9 251.1" stroke="#262626" stroke-width="1.25"/><path d="M664.5 251.1L668.0 251.1" stroke="#262626" stroke-width="1.25"/><path d="M400.4 271.0L398.2 271.0" stroke="#262626" stroke-width="1.25"/><path d="M664.5 271.0L666.7 271.0" stroke="#262626" stroke-width="1.25"/><path d="M400.4 290.9L398.2 290.9" stroke="#262626" stroke-width="1.25"/><path d="M664.5 290.9L666.7 290.9" stroke="#262626" stroke-width="1.25"/><path d="M400.4 310.9L398.2 310.9" stroke="#262626" stroke-width="1.25"/><path d="M664.5 310.9L666.7 310.9" stroke="#262626" stroke-width="1.25"/><path d="M400.4 330.8L398.2 330.8" stroke="#262626" stroke-width="1.25"/><path d="M664.5 330.8L666.7 330.8" stroke="#262626" stroke-width="1.25"/><path d="M400.4 350.7L396.9 350.7" stroke="#262626" stroke-width="1.25"/><path d="M664.5 350.7L668.0 350.7" stroke="#262626" stroke-width="1.25"/><path d="M400.4 370.6L398.2 370.6" stroke="#262626" stroke-width="1.25"/><path d="M664.5 370.6L666.7 370.6" stroke="#262626" stroke-width="1.25"/><path d="M400.4 390.5L398.2 390.5" stroke="#262626" stroke-width="1.25"/><path d="M664.5 390.5L666.7 390.5" stroke="#262626" stroke-width="1.25"/><path d="M400.4 410.5L398.2 410.5" stroke="#262626" stroke-width="1.25"/><path d="M664.5 410.5L666.7 410.5" stroke="#262626" stroke-width="1.25"/></g><path d="M137.9 29.2L137.9 102.4" stroke="#000" stroke-width="2.4"/><path d="M177.6 19.8L177.6 93.0" stroke="#000" stroke-width="2.4"/><path d="M235.8 84.3L164.4 106.8" stroke="#3553a4" stroke-width="2.4"/><path d="M227.2 109.3L164.4 129.7" stroke="#000" stroke-width="2.4"/><path d="M163.4 192.8L163.4 240.0" stroke="#3553a4" stroke-width="2.4"/><path d="M176.9 192.8L176.9 237.7" stroke="#000" stroke-width="2.4"/><path d="M89.9 284.7L133.4 258.1" stroke="#000" stroke-width="2.4"/><path d="M219.1 272.5L164.8 287.1" stroke="#000" stroke-width="2.4"/><path d="M466.4 33.0L466.4 105.0" stroke="#000" stroke-width="2.4"/><path d="M552.4 36.5L552.4 88.6" stroke="#000" stroke-width="2.4"/><path d="M618.6 31.9L618.6 80.5" stroke="#000" stroke-width="2.4"/><path d="M466.8 385.0L469.6 450.4" stroke="#3553a4" stroke-width="2.4"/><path d="M558.4 388.0L558.9 450.2" stroke="#3553a4" stroke-width="2.4"/><path d="M610.0 386.0L610.3 452.0" stroke="#3553a4" stroke-width="2.4"/><circle cx="163.2" cy="107" r="2.6" fill="none" stroke="#4db5e6" stroke-width="1"/><path d="M222 289.5C230 291 240 290 246 285.5" fill="none" stroke="#4460b0" stroke-width="0.8"/><path d="M201.6 343.3C209 343.3 211 346 211 351V358C211 362 213.5 364.2 219 364.2C213.5 364.2 211 366.4 211 370.4V377.4C211 382.4 209 384.9 201.6 384.9" fill="none" stroke="#000" stroke-width="2"/><g font-family="'Liberation Sans', sans-serif"><rect x="5" y="279" width="83" height="16" fill="#fff"/><text x="1.6" y="14.3" font-size="14.8" fill="#000" font-weight="bold" textLength="11.1" lengthAdjust="spacingAndGlyphs">A</text><text x="338.2" y="12.5" font-size="14.8" fill="#000" font-weight="bold" textLength="9.9" lengthAdjust="spacingAndGlyphs">B</text><text x="81.2" y="23.1" font-size="12.8" fill="#1a1a1a" font-weight="normal" textLength="72.0" lengthAdjust="spacingAndGlyphs" stroke="#1a1a1a" stroke-width="0.25">C11 H42-H5</text><text x="166.5" y="15.3" font-size="12.8" fill="#1a1a1a" font-weight="normal" textLength="64.7" lengthAdjust="spacingAndGlyphs" stroke="#1a1a1a" stroke-width="0.25">C3 H42-H5</text><text x="246.6" y="82.5" font-size="12.8" fill="#4566ad" font-weight="normal" textLength="64.2" lengthAdjust="spacingAndGlyphs" stroke="#4566ad" stroke-width="0.25">C3 H42-H5</text><text x="247.0" y="105.4" font-size="12.8" fill="#1a1a1a" font-weight="normal" textLength="64.4" lengthAdjust="spacingAndGlyphs" stroke="#1a1a1a" stroke-width="0.25">C9 H42-H5</text><text x="98.3" y="188.4" font-size="12.8" fill="#4566ad" font-weight="normal" textLength="68.8" lengthAdjust="spacingAndGlyphs" stroke="#4566ad" stroke-width="0.25">C3 H42-H41</text><text x="173.7" y="188.4" font-size="12.8" fill="#1a1a1a" font-weight="normal" textLength="70.9" lengthAdjust="spacingAndGlyphs" stroke="#1a1a1a" stroke-width="0.25">C3 H42-H41</text><text x="7.3" y="291.7" font-size="12.8" fill="#1a1a1a" font-weight="normal" textLength="78.0" lengthAdjust="spacingAndGlyphs" stroke="#1a1a1a" stroke-width="0.25">C11 H42-H41</text><text x="227.0" y="276.3" font-size="12.8" fill="#1a1a1a" font-weight="normal" textLength="70.1" lengthAdjust="spacingAndGlyphs" stroke="#1a1a1a" stroke-width="0.25">C9 H42-H41</text><text x="226.4" y="368.5" font-size="12.8" fill="#1a1a1a" font-weight="normal" textLength="56.1" lengthAdjust="spacingAndGlyphs" stroke="#1a1a1a" stroke-width="0.25">C H6-H41</text><text x="118.5" y="52.7" font-size="10.2" fill="#3a3a3a" font-weight="normal" textLength="15.4" lengthAdjust="spacingAndGlyphs" stroke="#3a3a3a" stroke-width="0.25">8.4</text><text x="226.8" y="52.7" font-size="10.2" fill="#3a3a3a" font-weight="normal" textLength="15.6" lengthAdjust="spacingAndGlyphs" stroke="#3a3a3a" stroke-width="0.25">8.2</text><text x="119.0" y="429.4" font-size="10.2" fill="#3a3a3a" font-weight="normal" textLength="14.8" lengthAdjust="spacingAndGlyphs" stroke="#3a3a3a" stroke-width="0.25">8.4</text><text x="227.6" y="429.4" font-size="10.2" fill="#3a3a3a" font-weight="normal" textLength="14.8" lengthAdjust="spacingAndGlyphs" stroke="#3a3a3a" stroke-width="0.25">8.2</text><text x="41.3" y="123.3" font-size="10.2" fill="#3a3a3a" font-weight="normal" textLength="15.0" lengthAdjust="spacingAndGlyphs" stroke="#3a3a3a" stroke-width="0.25">5.5</text><text x="273.8" y="123.3" font-size="10.2" fill="#3a3a3a" font-weight="normal" textLength="14.8" lengthAdjust="spacingAndGlyphs" stroke="#3a3a3a" stroke-width="0.25">5.5</text><text x="41.3" y="190.9" font-size="10.2" fill="#3a3a3a" font-weight="normal" textLength="15.0" lengthAdjust="spacingAndGlyphs" stroke="#3a3a3a" stroke-width="0.25">6.0</text><text x="273.8" y="190.9" font-size="10.2" fill="#3a3a3a" font-weight="normal" textLength="14.8" lengthAdjust="spacingAndGlyphs" stroke="#3a3a3a" stroke-width="0.25">6.0</text><text x="41.3" y="258.5" font-size="10.2" fill="#3a3a3a" font-weight="normal" textLength="15.0" lengthAdjust="spacingAndGlyphs" stroke="#3a3a3a" stroke-width="0.25">6.5</text><text x="273.8" y="258.5" font-size="10.2" fill="#3a3a3a" font-weight="normal" textLength="14.8" lengthAdjust="spacingAndGlyphs" stroke="#3a3a3a" stroke-width="0.25">6.5</text><text x="41.3" y="326.1" font-size="10.2" fill="#3a3a3a" font-weight="normal" textLength="15.0" lengthAdjust="spacingAndGlyphs" stroke="#3a3a3a" stroke-width="0.25">7.0</text><text x="273.8" y="326.1" font-size="10.2" fill="#3a3a3a" font-weight="normal" textLength="14.8" lengthAdjust="spacingAndGlyphs" stroke="#3a3a3a" stroke-width="0.25">7.0</text><text x="41.3" y="393.7" font-size="10.2" fill="#3a3a3a" font-weight="normal" textLength="15.0" lengthAdjust="spacingAndGlyphs" stroke="#3a3a3a" stroke-width="0.25">7.5</text><text x="273.8" y="393.7" font-size="10.2" fill="#3a3a3a" font-weight="normal" textLength="14.8" lengthAdjust="spacingAndGlyphs" stroke="#3a3a3a" stroke-width="0.25">7.5</text><text x="147.6" y="442.5" font-size="14" fill="#333" font-weight="normal" textLength="40.4" lengthAdjust="spacingAndGlyphs" stroke="#333" stroke-width="0.25"><tspan font-style="italic">δ</tspan>/ppm</text><text x="0.0" y="0.0" font-size="13.8" fill="#222" font-weight="bold" textLength="41.3" lengthAdjust="spacingAndGlyphs" transform="translate(30 201.3) rotate(90)"><tspan font-style="italic">δ</tspan>/ppm</text><rect x="126" y="477.4" width="94.6" height="25.9" fill="#fff" stroke="#333" stroke-width="1"/><text x="133.4" y="493.9" font-size="12.8" fill="#1a1a1a" font-weight="normal" textLength="77.1" lengthAdjust="spacingAndGlyphs" stroke="#1a1a1a" stroke-width="0.25">C H41 region</text><text x="431.3" y="26.3" font-size="12.8" fill="#1a1a1a" font-weight="normal" textLength="64.5" lengthAdjust="spacingAndGlyphs" stroke="#1a1a1a" stroke-width="0.25">C9 H5-H42</text><text x="528.9" y="26.2" font-size="12.8" fill="#1a1a1a" font-weight="normal" textLength="71.0" lengthAdjust="spacingAndGlyphs" stroke="#1a1a1a" stroke-width="0.25">C11 H5-H42</text><text x="612.9" y="26.2" font-size="12.8" fill="#1a1a1a" font-weight="normal" textLength="64.0" lengthAdjust="spacingAndGlyphs" stroke="#1a1a1a" stroke-width="0.25">C3 H5-H42</text><text x="390.4" y="54.8" font-size="10.2" fill="#3a3a3a" font-weight="normal" textLength="16.0" lengthAdjust="spacingAndGlyphs" stroke="#3a3a3a" stroke-width="0.25">6.9</text><text x="430.7" y="54.8" font-size="10.2" fill="#3a3a3a" font-weight="normal" textLength="16.0" lengthAdjust="spacingAndGlyphs" stroke="#3a3a3a" stroke-width="0.25">6.8</text><text x="470.1" y="54.8" font-size="10.2" fill="#3a3a3a" font-weight="normal" textLength="16.0" lengthAdjust="spacingAndGlyphs" stroke="#3a3a3a" stroke-width="0.25">6.7</text><text x="510.0" y="54.8" font-size="10.2" fill="#3a3a3a" font-weight="normal" textLength="16.0" lengthAdjust="spacingAndGlyphs" stroke="#3a3a3a" stroke-width="0.25">6.6</text><text x="548.6" y="54.8" font-size="10.2" fill="#3a3a3a" font-weight="normal" textLength="16.0" lengthAdjust="spacingAndGlyphs" stroke="#3a3a3a" stroke-width="0.25">6.5</text><text x="589.1" y="54.8" font-size="10.2" fill="#3a3a3a" font-weight="normal" textLength="16.0" lengthAdjust="spacingAndGlyphs" stroke="#3a3a3a" stroke-width="0.25">6.4</text><text x="628.3" y="54.8" font-size="10.2" fill="#3a3a3a" font-weight="normal" textLength="16.0" lengthAdjust="spacingAndGlyphs" stroke="#3a3a3a" stroke-width="0.25">6.3</text><text x="392.9" y="433.8" font-size="10.2" fill="#3a3a3a" font-weight="normal" textLength="15.1" lengthAdjust="spacingAndGlyphs" stroke="#3a3a3a" stroke-width="0.25">6.9</text><text x="432.6" y="433.8" font-size="10.2" fill="#3a3a3a" font-weight="normal" textLength="15.1" lengthAdjust="spacingAndGlyphs" stroke="#3a3a3a" stroke-width="0.25">6.8</text><text x="472.8" y="433.8" font-size="10.2" fill="#3a3a3a" font-weight="normal" textLength="15.1" lengthAdjust="spacingAndGlyphs" stroke="#3a3a3a" stroke-width="0.25">6.7</text><text x="513.0" y="433.8" font-size="10.2" fill="#3a3a3a" font-weight="normal" textLength="15.1" lengthAdjust="spacingAndGlyphs" stroke="#3a3a3a" stroke-width="0.25">6.6</text><text x="551.6" y="433.8" font-size="10.2" fill="#3a3a3a" font-weight="normal" textLength="15.1" lengthAdjust="spacingAndGlyphs" stroke="#3a3a3a" stroke-width="0.25">6.5</text><text x="592.5" y="433.8" font-size="10.2" fill="#3a3a3a" font-weight="normal" textLength="15.1" lengthAdjust="spacingAndGlyphs" stroke="#3a3a3a" stroke-width="0.25">6.4</text><text x="632.0" y="433.8" font-size="10.2" fill="#3a3a3a" font-weight="normal" textLength="15.1" lengthAdjust="spacingAndGlyphs" stroke="#3a3a3a" stroke-width="0.25">6.3</text><text x="379.8" y="154.7" font-size="10.2" fill="#3a3a3a" font-weight="normal" textLength="15.8" lengthAdjust="spacingAndGlyphs" stroke="#3a3a3a" stroke-width="0.25">6.0</text><text x="668.7" y="154.7" font-size="10.2" fill="#3a3a3a" font-weight="normal" textLength="15.8" lengthAdjust="spacingAndGlyphs" stroke="#3a3a3a" stroke-width="0.25">6.0</text><text x="379.8" y="254.3" font-size="10.2" fill="#3a3a3a" font-weight="normal" textLength="15.8" lengthAdjust="spacingAndGlyphs" stroke="#3a3a3a" stroke-width="0.25">7.0</text><text x="668.7" y="254.3" font-size="10.2" fill="#3a3a3a" font-weight="normal" textLength="15.8" lengthAdjust="spacingAndGlyphs" stroke="#3a3a3a" stroke-width="0.25">7.0</text><text x="379.8" y="353.9" font-size="10.2" fill="#3a3a3a" font-weight="normal" textLength="15.8" lengthAdjust="spacingAndGlyphs" stroke="#3a3a3a" stroke-width="0.25">8.0</text><text x="668.7" y="353.9" font-size="10.2" fill="#3a3a3a" font-weight="normal" textLength="15.8" lengthAdjust="spacingAndGlyphs" stroke="#3a3a3a" stroke-width="0.25">8.0</text><text x="498.0" y="450.5" font-size="14" fill="#333" font-weight="normal" textLength="40.4" lengthAdjust="spacingAndGlyphs" stroke="#333" stroke-width="0.25"><tspan font-style="italic">δ</tspan>/ppm</text><text x="0.0" y="0.0" font-size="13.8" fill="#222" font-weight="bold" textLength="38.6" lengthAdjust="spacingAndGlyphs" transform="translate(362.8 207) rotate(90)"><tspan font-style="italic">δ</tspan>/ppm</text><text x="423.1" y="467.7" font-size="12.8" fill="#4566ad" font-weight="normal" textLength="71.2" lengthAdjust="spacingAndGlyphs" stroke="#4566ad" stroke-width="0.25">C9 H41-H42</text><text x="510.0" y="467.7" font-size="12.8" fill="#4566ad" font-weight="normal" textLength="78.5" lengthAdjust="spacingAndGlyphs" stroke="#4566ad" stroke-width="0.25">C11 H41-H42</text><text x="600.2" y="467.7" font-size="12.8" fill="#4566ad" font-weight="normal" textLength="71.5" lengthAdjust="spacingAndGlyphs" stroke="#4566ad" stroke-width="0.25">C3 H41-H42</text><rect x="493.6" y="478.4" width="94.4" height="25.7" fill="#fff" stroke="#333" stroke-width="1"/><text x="500.6" y="496.0" font-size="12.8" fill="#1a1a1a" font-weight="normal" textLength="77.7" lengthAdjust="spacingAndGlyphs" stroke="#1a1a1a" stroke-width="0.25">C H42 region</text></g></svg></body></html>
